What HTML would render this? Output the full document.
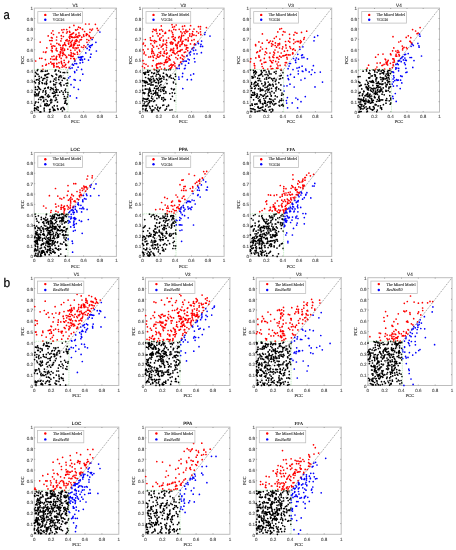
<!DOCTYPE html>
<html><head><meta charset="utf-8"><title>Scatter comparison</title>
<style>
html,body{margin:0;padding:0;background:#fff;}
svg{display:block;filter:blur(0.3px);}
.ax{fill:none;stroke:#bdbdbd;stroke-width:1;}
.tk{fill:none;stroke:#888;stroke-width:0.8;}
.lg{fill:#fff;fill-opacity:0.9;stroke:#c0c0c0;stroke-width:0.8;}
.pk{stroke:#000;stroke-width:1.7;stroke-linecap:round;fill:none;}
.pr{stroke:#f00;stroke-width:1.7;stroke-linecap:round;fill:none;}
.pb{stroke:#00f;stroke-width:1.7;stroke-linecap:round;fill:none;}
.dg{stroke:#555;stroke-width:0.6;stroke-dasharray:1.1 1.1;fill:none;}
.gr{stroke:#8d8;stroke-width:0.5;stroke-dasharray:1 0.8;fill:none;}
text{font-family:"Liberation Sans",sans-serif;fill:#333;text-rendering:geometricPrecision;}
.tt{font-size:4.6px;font-weight:bold;text-anchor:middle;fill:#222;}
.ts{font-family:"Liberation Serif",serif;}
.tv{font-weight:normal;fill:#333;stroke:#333;stroke-width:0.12;}
.lt{font-family:"Liberation Serif",serif;font-size:4.1px;fill:#222;stroke:#222;stroke-width:0.08;}
.yl{font-size:4.5px;text-anchor:end;fill:#4a4a4a;stroke:#4a4a4a;stroke-width:0.1;}
.xl{font-size:4.5px;text-anchor:middle;fill:#4a4a4a;stroke:#4a4a4a;stroke-width:0.1;}
.al{font-family:"Liberation Serif",serif;font-size:4.5px;text-anchor:middle;fill:#444;stroke:#444;stroke-width:0.15;}
.pl{font-size:12.8px;fill:#000;stroke:#000;stroke-width:0.2;}
</style></head><body>
<svg width="456" height="550" viewBox="0 0 456 550">
<rect width="456" height="550" fill="#fff"/>
<text class="pl" transform="translate(3.4 18.5) scale(0.88 1)">a</text>
<text class="pl" transform="translate(3.5 286.8) scale(0.94 1.0)">b</text>
<g>
<text class="tt tv" x="75.3" y="6.5">V1</text>
<rect class="ax" x="34.30" y="8.10" width="82.10" height="104.00"/>
<path class="tk" d="M34.3 101.7h0.9M116.4 101.7h-0.9M34.3 91.3h0.9M116.4 91.3h-0.9M34.3 80.9h0.9M116.4 80.9h-0.9M34.3 70.5h0.9M116.4 70.5h-0.9M34.3 60.1h0.9M116.4 60.1h-0.9M34.3 49.7h0.9M116.4 49.7h-0.9M34.3 39.3h0.9M116.4 39.3h-0.9M34.3 28.9h0.9M116.4 28.9h-0.9M34.3 18.5h0.9M116.4 18.5h-0.9M50.7 112.1v-0.9M50.7 8.1v0.9M67.1 112.1v-0.9M67.1 8.1v0.9M83.6 112.1v-0.9M83.6 8.1v0.9M100.0 112.1v-0.9M100.0 8.1v0.9"/>
<path class="pk" d="M60.8 109.2h0M44.8 104.1h0M35.2 103.1h0M38.6 80.0h0M61.4 108.1h0M35.6 89.3h0M56.0 97.8h0M36.4 79.9h0M49.6 109.6h0M58.1 109.4h0M38.8 87.6h0M47.6 105.5h0M63.1 72.5h0M40.5 89.4h0M45.3 88.1h0M43.7 101.5h0M60.4 72.1h0M53.5 110.6h0M46.0 99.5h0M67.5 96.9h0M38.7 93.2h0M40.1 97.5h0M39.2 83.6h0M34.4 81.6h0M47.4 101.1h0M41.6 70.6h0M56.1 74.2h0M46.4 81.8h0M39.0 82.6h0M47.2 70.9h0M40.6 106.0h0M42.5 83.4h0M58.0 95.3h0M67.5 83.1h0M49.5 112.0h0M51.8 88.5h0M55.5 95.2h0M41.1 71.4h0M50.4 89.6h0M39.0 84.0h0M64.2 98.5h0M43.8 100.3h0M56.4 89.2h0M44.7 105.3h0M37.9 95.7h0M55.9 80.0h0M60.6 82.6h0M35.5 82.8h0M37.9 69.5h0M47.6 77.3h0M64.6 72.5h0M44.1 109.0h0M56.1 82.6h0M53.7 96.8h0M55.6 87.1h0M38.0 74.4h0M54.8 95.7h0M34.8 94.3h0M50.4 100.7h0M64.9 90.5h0M42.8 71.3h0M58.0 89.8h0M34.6 108.5h0M47.4 96.1h0M36.8 94.1h0M46.6 105.8h0M35.9 101.9h0M36.5 93.8h0M63.1 92.3h0M59.5 83.6h0M42.7 80.2h0M36.1 95.7h0M38.2 94.1h0M49.6 96.3h0M43.3 78.7h0M67.0 85.7h0M51.7 75.5h0M56.6 99.6h0M45.5 91.8h0M63.9 108.3h0M43.3 90.6h0M44.8 83.7h0M52.5 93.2h0M63.5 78.2h0M55.8 69.9h0M38.3 102.3h0M56.0 77.9h0M48.4 94.9h0M51.7 102.0h0M38.2 86.6h0M55.0 110.2h0M37.4 89.7h0M57.7 108.5h0M40.9 99.7h0M37.3 70.6h0M37.1 79.5h0M39.4 78.6h0M35.2 92.2h0M39.2 88.6h0M66.9 104.3h0M58.7 70.9h0M63.0 107.3h0M52.5 107.0h0M55.9 89.7h0M53.9 84.9h0M64.4 96.5h0M67.9 92.6h0M48.3 88.0h0M47.6 74.1h0M46.8 83.3h0M39.3 91.8h0M35.5 72.3h0M42.9 96.7h0M35.3 76.2h0M44.2 108.1h0M42.6 97.7h0M54.1 109.4h0M59.7 92.2h0M67.7 83.2h0M48.7 73.7h0M42.0 97.1h0M39.1 76.4h0M57.5 102.1h0M65.7 92.1h0M36.8 109.5h0M53.8 93.3h0M54.0 96.0h0M50.4 82.0h0M62.4 111.0h0M56.8 92.2h0M50.0 111.4h0M67.4 72.5h0M53.6 109.2h0M50.9 87.7h0M53.7 84.1h0M61.2 77.1h0M46.4 103.7h0M45.8 90.8h0M55.3 92.7h0M64.7 103.2h0M49.4 104.7h0M65.9 100.5h0M56.2 90.7h0M44.6 88.6h0M44.9 83.3h0M55.0 71.1h0M42.8 92.0h0M34.8 107.9h0M44.8 78.4h0M38.3 110.3h0M54.0 109.9h0M45.2 105.4h0M50.0 109.3h0M48.3 97.1h0M43.9 101.5h0M42.0 82.5h0M65.8 98.7h0M65.5 89.1h0M53.5 89.7h0M54.3 105.8h0M45.4 71.2h0M35.4 87.2h0M38.4 95.0h0M34.5 110.3h0M47.8 87.7h0M67.1 103.8h0M45.4 94.6h0M46.1 93.2h0M36.5 108.4h0M46.5 84.3h0M53.6 81.2h0M40.0 111.9h0M52.6 76.3h0M61.1 85.8h0M55.2 100.4h0M39.3 83.6h0M57.2 105.9h0M45.0 104.3h0M64.8 78.4h0M64.0 85.1h0M46.8 77.4h0M56.7 74.8h0M35.3 108.4h0M67.3 80.0h0M60.8 84.5h0M61.5 90.8h0M50.6 81.3h0M54.4 79.1h0M62.2 80.3h0M50.9 99.3h0M47.0 80.0h0M41.3 96.7h0M40.8 111.9h0M63.3 94.3h0M59.5 76.1h0M58.7 79.4h0M52.9 88.7h0M36.5 73.7h0M66.1 83.5h0M67.9 94.8h0M64.1 109.0h0M44.3 110.9h0M39.7 81.3h0M65.6 102.9h0M41.4 77.3h0M64.4 109.4h0M54.2 105.6h0M58.9 77.2h0M47.3 104.1h0M48.4 105.6h0M50.8 102.9h0M55.6 70.2h0M60.8 75.7h0M48.4 87.2h0M51.9 100.0h0M43.5 97.7h0M38.0 86.5h0M36.3 108.6h0M52.7 107.6h0M34.7 94.5h0M38.7 99.3h0M34.6 105.2h0M65.2 101.2h0M55.4 84.6h0M45.2 75.7h0M44.7 75.1h0M46.1 74.6h0M54.1 91.5h0M38.3 107.6h0M35.0 95.8h0M37.3 106.8h0"/>
<path class="pr" d="M82.6 29.4h0M74.4 44.9h0M64.4 44.5h0M64.1 54.3h0M58.6 54.5h0M73.9 25.4h0M54.1 65.3h0M72.6 56.4h0M83.9 36.3h0M56.7 37.0h0M58.9 44.0h0M53.1 59.4h0M56.4 48.4h0M60.4 51.7h0M43.5 52.0h0M77.6 54.2h0M81.5 47.0h0M75.6 43.5h0M70.7 50.3h0M66.6 33.0h0M39.7 58.3h0M90.9 37.6h0M65.8 45.4h0M75.0 50.0h0M71.6 36.7h0M64.1 50.4h0M62.5 48.6h0M83.6 34.9h0M63.1 53.8h0M79.3 45.2h0M63.4 36.5h0M71.3 55.9h0M74.2 42.9h0M89.1 35.7h0M71.5 37.1h0M35.7 61.0h0M76.0 41.3h0M71.5 41.7h0M72.4 40.3h0M60.2 45.3h0M71.1 56.4h0M54.0 63.3h0M52.9 30.8h0M79.9 40.0h0M53.9 67.1h0M62.1 50.7h0M95.4 24.3h0M66.2 40.7h0M61.3 35.6h0M60.9 47.6h0M69.2 67.4h0M64.5 50.2h0M56.1 50.0h0M45.6 52.5h0M51.5 33.1h0M91.6 30.3h0M54.8 46.2h0M76.0 30.2h0M61.2 58.4h0M75.1 43.0h0M64.1 60.3h0M75.9 47.9h0M54.0 66.0h0M65.8 40.5h0M49.7 40.5h0M66.3 57.6h0M48.8 63.5h0M64.0 66.6h0M71.5 34.3h0M53.5 34.5h0M72.9 47.7h0M63.9 29.5h0M40.2 42.1h0M79.9 35.5h0M74.3 37.4h0M73.7 44.4h0M67.1 39.6h0M79.8 51.3h0M85.6 24.0h0M98.1 30.3h0M77.3 52.2h0M53.7 64.9h0M60.9 49.4h0M58.8 44.5h0M83.2 47.5h0M68.5 43.2h0M77.6 45.3h0M68.4 62.5h0M56.7 56.3h0M89.4 36.5h0M48.2 35.9h0M66.7 29.6h0M61.3 35.8h0M76.3 39.5h0M62.1 49.3h0M45.4 59.6h0M73.5 45.9h0M74.8 54.2h0M64.7 42.9h0M68.8 61.3h0M43.0 69.3h0M61.3 61.4h0M73.7 58.6h0M46.8 47.9h0M69.8 36.2h0M92.5 29.0h0M69.5 40.7h0M75.4 37.1h0M52.3 38.0h0M63.0 32.4h0M76.6 48.4h0M53.2 45.8h0M52.8 63.5h0M79.0 35.4h0M75.8 35.0h0M72.5 37.5h0M81.4 39.5h0M70.0 36.6h0M76.1 34.3h0M70.2 34.7h0M82.5 29.2h0M71.6 45.8h0M60.8 52.7h0M87.5 34.3h0M52.2 51.7h0M70.8 58.5h0M62.7 65.3h0M65.1 65.3h0M84.6 31.5h0M53.9 56.1h0M77.7 36.4h0M60.4 53.1h0M77.1 40.7h0M61.7 63.7h0M56.4 57.1h0M75.6 29.8h0M79.1 41.9h0M56.5 40.0h0M62.5 55.6h0M69.1 37.0h0M71.2 44.9h0M66.7 57.5h0M86.4 33.9h0M74.0 54.0h0M42.5 65.9h0M51.4 37.6h0M56.3 57.8h0M72.5 33.7h0M65.2 44.8h0M58.1 66.7h0M70.4 42.6h0M63.2 45.2h0M65.5 55.3h0M60.9 40.9h0M72.6 37.5h0M62.9 47.9h0M56.7 59.6h0M59.7 56.0h0M66.2 67.5h0M65.7 64.4h0M73.5 32.9h0M68.0 41.1h0M87.0 42.3h0M51.7 46.4h0M51.3 50.3h0M74.2 37.4h0M67.3 31.8h0M93.1 37.6h0M89.9 32.3h0M51.3 40.5h0M52.2 48.2h0M77.6 29.3h0M62.8 45.8h0M76.3 39.9h0M69.5 31.4h0M68.7 55.0h0M69.6 46.7h0M61.5 38.6h0M64.5 49.2h0M69.8 38.4h0M59.5 67.9h0M81.0 39.7h0M53.4 63.5h0M90.8 38.4h0M61.9 29.9h0M89.1 24.0h0M52.0 56.6h0M78.6 27.2h0M71.4 54.0h0M61.4 62.5h0M46.0 51.8h0M71.5 44.2h0M68.7 44.1h0M71.1 52.5h0M81.8 37.2h0M62.7 53.3h0M50.8 62.2h0M50.9 44.1h0M56.2 58.4h0M70.3 46.2h0M51.9 63.9h0M59.6 56.9h0M69.8 32.2h0M52.1 50.7h0M52.1 40.6h0M56.8 63.3h0M79.4 50.1h0M74.8 60.0h0M77.9 37.4h0M59.0 62.7h0M85.6 47.1h0M74.5 58.8h0M76.5 39.9h0M70.2 55.3h0M46.4 64.3h0M74.0 48.1h0M76.7 36.8h0M60.3 52.4h0M57.1 50.9h0M73.3 53.3h0M56.9 43.3h0M73.2 56.1h0M75.0 41.1h0M90.0 29.3h0M54.7 59.4h0M74.3 58.6h0M88.8 40.4h0M66.6 56.9h0M69.6 27.3h0M76.7 41.4h0M59.0 32.8h0M97.2 28.4h0M78.1 47.7h0M50.7 58.9h0M60.0 54.9h0M45.9 65.2h0M78.9 32.9h0M79.5 35.8h0M56.8 63.8h0M86.9 39.5h0M56.6 66.7h0M67.8 49.2h0M41.8 58.3h0M63.1 52.4h0M84.0 45.7h0M86.3 35.4h0M62.1 67.1h0M64.3 62.5h0M80.3 27.9h0"/>
<path class="pb" d="M90.3 47.5h0M80.2 57.2h0M78.6 57.4h0M68.6 77.9h0M72.4 64.3h0M78.4 89.3h0M96.4 51.0h0M74.9 61.1h0M74.0 87.3h0M89.3 46.5h0M90.1 45.7h0M88.5 60.1h0M74.8 72.6h0M76.6 97.9h0M90.4 57.2h0M75.3 80.1h0M78.1 67.2h0M87.1 48.4h0M85.8 52.9h0M92.3 44.6h0M76.7 70.0h0M82.8 56.6h0M81.4 56.8h0M72.1 67.9h0M82.4 59.9h0M71.0 84.7h0M80.2 80.3h0M80.8 59.7h0M91.0 54.2h0M74.9 63.6h0M88.0 44.6h0M70.1 76.5h0M73.4 65.2h0M95.9 42.3h0M81.5 58.0h0M80.4 60.2h0M76.6 63.7h0M82.8 74.2h0M82.7 62.3h0M84.6 59.1h0M92.2 39.5h0M99.9 32.0h0M74.6 71.5h0M80.1 62.9h0M80.1 59.4h0M74.1 79.6h0M81.6 69.4h0M89.4 49.9h0M70.1 68.4h0M70.2 95.9h0M91.6 45.4h0"/>
<path class="dg" d="M34.3 112.1L116.4 8.1"/>
<path class="gr" d="M68.0 112.1V69.5M34.3 69.5H68.0"/>
<rect class="lg" x="37.8" y="11.6" width="44.7" height="11.5"/>
<circle cx="45.3" cy="14.9" r="1.2" fill="#f00"/>
<circle cx="45.3" cy="19.8" r="1.2" fill="#00f"/>
<text class="lt" x="52.8" y="15.9" textLength="28.4" lengthAdjust="spacingAndGlyphs">The Mixed Model</text>
<text class="lt" x="52.8" y="21.1" textLength="11.4" lengthAdjust="spacingAndGlyphs">VGG16</text>
<text class="yl" x="33.1" y="114.1">0</text>
<text class="yl" x="33.1" y="103.7">0.1</text>
<text class="yl" x="33.1" y="93.3">0.2</text>
<text class="yl" x="33.1" y="82.9">0.3</text>
<text class="yl" x="33.1" y="72.5">0.4</text>
<text class="yl" x="33.1" y="62.1">0.5</text>
<text class="yl" x="33.1" y="51.7">0.6</text>
<text class="yl" x="33.1" y="41.3">0.7</text>
<text class="yl" x="33.1" y="30.9">0.8</text>
<text class="yl" x="33.1" y="20.5">0.9</text>
<text class="yl" x="33.1" y="10.1">1</text>
<text class="xl" x="34.3" y="117.9">0</text>
<text class="xl" x="50.7" y="117.9">0.2</text>
<text class="xl" x="67.1" y="117.9">0.4</text>
<text class="xl" x="83.6" y="117.9">0.6</text>
<text class="xl" x="100.0" y="117.9">0.8</text>
<text class="xl" x="116.4" y="117.9">1</text>
<text class="al" x="75.3" y="123.4">PCC</text>
<text class="al" transform="translate(23.8 60.1) rotate(-90)">PCC</text>
</g>
<g>
<text class="tt tv" x="183.3" y="6.5">V2</text>
<rect class="ax" x="142.50" y="8.10" width="81.60" height="104.00"/>
<path class="tk" d="M142.5 101.7h0.9M224.1 101.7h-0.9M142.5 91.3h0.9M224.1 91.3h-0.9M142.5 80.9h0.9M224.1 80.9h-0.9M142.5 70.5h0.9M224.1 70.5h-0.9M142.5 60.1h0.9M224.1 60.1h-0.9M142.5 49.7h0.9M224.1 49.7h-0.9M142.5 39.3h0.9M224.1 39.3h-0.9M142.5 28.9h0.9M224.1 28.9h-0.9M142.5 18.5h0.9M224.1 18.5h-0.9M158.8 112.1v-0.9M158.8 8.1v0.9M175.1 112.1v-0.9M175.1 8.1v0.9M191.5 112.1v-0.9M191.5 8.1v0.9M207.8 112.1v-0.9M207.8 8.1v0.9"/>
<path class="pk" d="M156.9 98.4h0M148.2 72.0h0M154.8 80.3h0M161.8 97.8h0M153.3 90.6h0M147.8 70.3h0M159.1 78.0h0M158.5 83.6h0M173.3 78.3h0M144.4 93.6h0M144.9 101.9h0M147.1 72.2h0M143.2 98.8h0M175.8 84.1h0M147.2 110.8h0M164.0 77.1h0M142.8 85.8h0M154.0 81.6h0M153.2 94.2h0M143.3 98.4h0M157.0 86.0h0M147.4 99.0h0M160.2 95.5h0M154.7 100.7h0M149.0 91.1h0M148.5 72.1h0M157.1 109.2h0M173.4 82.1h0M154.6 73.1h0M164.0 93.5h0M153.9 80.1h0M150.2 89.8h0M148.0 84.2h0M155.1 107.9h0M149.3 95.9h0M156.4 105.0h0M148.6 74.8h0M164.1 87.5h0M166.3 74.4h0M162.7 89.8h0M149.1 100.4h0M164.4 99.4h0M166.4 108.9h0M151.1 82.9h0M157.3 71.9h0M172.4 96.3h0M159.2 70.1h0M170.5 75.3h0M158.6 110.8h0M159.8 75.1h0M149.8 80.9h0M151.7 100.8h0M156.6 78.6h0M145.3 72.3h0M156.6 88.5h0M147.1 89.0h0M173.5 82.8h0M172.0 109.8h0M150.3 80.9h0M147.2 72.2h0M152.7 76.3h0M163.5 97.7h0M146.1 108.7h0M156.0 76.0h0M151.2 93.4h0M144.7 98.8h0M154.5 88.2h0M155.7 82.5h0M158.8 90.4h0M163.4 100.8h0M173.6 89.7h0M165.1 110.2h0M150.8 85.1h0M153.4 78.3h0M159.0 97.6h0M164.4 87.1h0M156.6 93.0h0M162.9 76.3h0M152.4 110.0h0M148.2 103.3h0M149.5 84.0h0M158.1 110.5h0M148.2 78.4h0M171.7 88.8h0M165.8 91.6h0M172.3 92.8h0M156.6 82.5h0M169.2 76.9h0M153.7 73.6h0M151.9 96.3h0M149.0 89.2h0M150.3 108.3h0M156.7 70.4h0M152.5 106.2h0M148.4 95.7h0M157.8 107.5h0M143.6 72.9h0M151.8 72.6h0M159.7 108.4h0M145.6 77.5h0M161.7 78.3h0M153.8 109.8h0M146.1 81.4h0M163.7 77.0h0M154.4 93.2h0M145.1 81.4h0M165.9 92.9h0M160.4 107.6h0M163.1 90.6h0M157.6 92.9h0M142.8 105.8h0M144.9 93.0h0M165.4 99.6h0M166.2 69.9h0M149.2 79.7h0M159.8 79.6h0M154.8 69.7h0M151.6 79.7h0M156.4 88.9h0M145.5 110.6h0M145.3 85.7h0M142.7 90.1h0M157.8 95.2h0M152.2 110.7h0M155.6 86.1h0M170.0 110.1h0M145.8 82.9h0M155.9 94.9h0M164.1 90.0h0M174.6 100.7h0M163.6 91.2h0M167.0 83.6h0M160.9 84.6h0M169.8 93.5h0M149.3 102.3h0M147.3 99.2h0M150.1 78.9h0M170.0 76.7h0M163.5 73.2h0M168.5 105.7h0M160.7 82.1h0M157.4 79.4h0M151.5 98.1h0M161.3 87.5h0M160.9 91.4h0M150.7 91.2h0M145.2 105.8h0M157.8 107.0h0M158.7 71.6h0M167.3 75.9h0M174.8 79.6h0M144.2 103.8h0M160.2 76.2h0M175.3 74.2h0M175.6 76.3h0M153.1 84.9h0M158.8 96.0h0M151.9 82.1h0M166.8 106.6h0M143.6 105.7h0M162.8 105.3h0M152.8 99.1h0M145.7 89.0h0M146.8 105.7h0M160.4 78.7h0M146.0 99.2h0M163.6 88.0h0M160.8 79.0h0M155.6 92.0h0M142.7 106.0h0M151.3 110.0h0M173.7 89.8h0M168.5 69.7h0M158.9 96.3h0M166.5 79.7h0M158.4 87.8h0M146.4 106.3h0M162.9 87.5h0M144.7 72.9h0M158.4 74.2h0M171.3 78.1h0M170.7 99.1h0M149.1 92.2h0M144.1 80.9h0M167.2 75.2h0M159.6 85.9h0M143.8 92.6h0M145.5 73.9h0M146.3 105.3h0M142.8 100.7h0M164.0 88.1h0M145.6 109.2h0M151.9 111.9h0M156.6 74.3h0M148.8 92.6h0M160.6 89.6h0M163.9 79.1h0M155.7 90.9h0M165.2 87.1h0M153.7 101.5h0M158.2 80.6h0M144.4 82.5h0M149.2 90.0h0M158.8 82.2h0M143.0 108.9h0M142.9 93.0h0M174.8 93.3h0M151.1 76.8h0M168.5 105.2h0M157.8 94.6h0M164.3 69.6h0M148.1 98.4h0M170.4 69.6h0M149.7 88.2h0M157.7 88.7h0M151.9 84.9h0M144.7 74.3h0M146.9 101.3h0M148.3 93.9h0M151.8 72.8h0M149.7 106.5h0M161.8 99.2h0M147.3 82.3h0M174.4 89.0h0M147.8 104.9h0M161.7 81.2h0M171.4 88.6h0M152.1 111.7h0M145.3 89.2h0M149.6 106.7h0M149.9 70.7h0M150.5 79.0h0M150.1 100.9h0M155.4 93.1h0M142.6 80.7h0M163.8 105.0h0"/>
<path class="pr" d="M179.2 51.1h0M175.9 57.5h0M173.4 48.8h0M156.2 58.4h0M153.6 47.1h0M194.0 29.1h0M182.0 55.0h0M180.6 39.7h0M182.5 58.8h0M151.9 40.5h0M158.6 48.5h0M182.5 55.7h0M160.4 63.1h0M188.2 40.2h0M177.2 48.6h0M153.4 29.3h0M171.9 66.7h0M169.2 66.1h0M160.2 40.2h0M194.3 44.7h0M179.3 64.6h0M168.5 38.0h0M166.5 45.4h0M148.7 57.0h0M170.5 42.8h0M145.2 45.7h0M184.1 31.8h0M156.1 65.1h0M184.0 56.7h0M181.7 36.3h0M163.1 45.1h0M183.2 59.7h0M173.6 48.4h0M181.0 61.8h0M178.3 55.3h0M166.4 54.1h0M157.8 57.1h0M162.1 46.1h0M192.5 48.2h0M159.8 33.8h0M148.0 66.1h0M171.4 55.1h0M173.8 29.4h0M175.2 40.6h0M155.9 41.3h0M181.1 37.7h0M153.9 69.4h0M180.0 46.3h0M156.3 31.0h0M173.9 62.0h0M166.8 57.2h0M180.8 31.7h0M156.7 67.6h0M165.2 44.2h0M176.2 25.0h0M178.7 37.7h0M171.0 49.2h0M163.0 35.8h0M172.1 50.1h0M165.6 33.2h0M174.8 63.4h0M182.1 42.4h0M187.7 50.7h0M180.1 45.1h0M166.3 62.4h0M153.9 41.1h0M180.5 58.0h0M169.4 56.1h0M143.1 44.1h0M154.6 40.5h0M185.1 45.7h0M153.3 60.5h0M176.9 52.9h0M200.8 34.7h0M185.3 39.7h0M171.2 42.1h0M180.8 41.0h0M158.1 35.9h0M169.3 58.6h0M173.8 50.8h0M186.6 47.7h0M177.5 58.9h0M166.7 42.7h0M184.7 44.8h0M175.2 37.7h0M166.7 59.4h0M206.4 27.6h0M175.9 45.3h0M181.1 38.8h0M200.5 31.8h0M166.9 53.1h0M174.1 39.3h0M153.4 57.3h0M172.3 65.2h0M160.7 51.8h0M196.2 35.5h0M152.9 56.0h0M179.2 36.6h0M194.1 39.7h0M192.8 31.5h0M176.5 45.7h0M156.9 68.1h0M150.6 56.5h0M182.1 33.1h0M156.5 65.8h0M180.6 62.3h0M158.7 63.4h0M163.3 41.0h0M178.2 42.3h0M191.8 40.4h0M173.5 52.6h0M172.1 36.9h0M148.0 49.1h0M181.7 35.0h0M178.9 41.7h0M183.0 29.0h0M198.5 33.1h0M165.8 61.3h0M144.5 67.9h0M153.8 53.3h0M169.0 60.0h0M185.8 30.9h0M163.5 40.1h0M164.9 33.3h0M177.8 51.5h0M186.7 45.3h0M152.1 51.7h0M154.6 55.1h0M184.6 25.9h0M188.1 40.9h0M173.4 39.1h0M170.8 43.8h0M177.3 47.2h0M150.5 40.1h0M170.2 59.9h0M164.0 53.0h0M184.3 52.4h0M165.5 32.3h0M144.0 53.7h0M151.8 53.4h0M179.2 29.3h0M183.6 35.5h0M171.3 64.3h0M162.5 55.3h0M186.6 31.9h0M157.9 63.9h0M166.0 62.4h0M157.7 67.9h0M174.5 26.7h0M170.6 65.1h0M159.9 34.2h0M180.1 51.3h0M186.1 49.2h0M194.6 43.9h0M159.6 39.6h0M196.8 31.6h0M194.7 43.9h0M167.3 53.1h0M164.4 62.6h0M175.8 29.8h0M145.3 39.5h0M172.6 27.2h0M169.1 30.7h0M159.8 38.3h0M192.7 34.9h0M166.3 50.1h0M174.4 53.3h0M175.9 44.4h0M164.4 51.4h0M172.3 43.8h0M160.1 66.8h0M150.3 37.8h0M171.5 31.0h0M182.5 26.4h0M171.3 67.6h0M180.6 50.2h0M146.0 64.3h0M173.0 42.9h0M153.1 60.5h0M191.5 36.4h0M160.6 53.5h0M172.3 44.1h0M150.5 56.9h0M163.1 48.9h0M143.0 60.7h0M192.2 33.7h0M160.1 55.9h0M173.5 64.9h0M173.0 34.7h0M157.1 56.0h0M161.9 63.4h0M143.5 43.1h0M167.6 61.6h0M169.4 30.4h0M152.6 45.6h0M186.1 39.7h0M170.4 50.6h0M188.2 41.0h0M186.8 55.5h0M171.7 42.0h0M185.0 33.4h0M200.5 26.7h0M160.0 63.8h0M190.6 25.7h0M175.0 40.4h0M187.8 31.3h0M162.7 31.1h0M194.0 35.0h0M189.7 35.9h0M157.7 54.5h0M189.7 29.3h0M152.3 65.9h0M164.7 68.4h0M170.2 42.5h0M161.4 37.5h0M200.4 29.0h0M156.9 46.3h0M197.8 41.5h0M152.6 31.6h0M150.9 43.8h0M158.9 57.1h0M159.1 52.5h0M143.2 49.8h0M166.4 40.4h0M161.2 47.0h0M165.0 62.3h0M161.5 29.6h0M167.0 62.2h0M185.6 52.0h0M198.5 26.7h0M157.0 33.4h0M165.6 60.2h0M175.0 66.1h0M185.9 30.1h0M161.3 25.9h0M156.5 41.5h0M153.0 51.7h0M161.4 69.1h0M164.0 64.7h0M200.8 34.3h0M142.5 66.3h0M183.0 41.2h0M181.6 44.4h0M168.5 58.2h0M156.2 29.3h0M175.3 54.0h0M190.5 43.9h0M159.7 30.1h0M176.1 67.9h0M172.6 52.3h0M173.3 36.5h0M154.8 30.1h0M164.6 53.3h0M186.9 47.6h0M166.6 47.6h0M156.9 63.8h0M152.0 48.9h0M177.2 45.2h0M172.4 32.7h0M152.2 50.5h0M172.0 24.7h0M178.0 43.3h0M154.6 42.8h0M169.9 68.5h0M181.5 36.3h0M187.9 47.8h0M188.2 37.9h0M144.3 52.1h0M182.1 49.7h0M163.0 44.2h0M182.5 43.6h0M145.8 55.0h0M159.8 45.0h0M163.8 56.0h0M151.9 51.4h0M152.8 36.1h0M144.0 63.6h0M170.8 68.2h0M189.8 33.9h0M180.5 57.6h0"/>
<path class="pb" d="M182.7 73.4h0M183.1 61.4h0M182.8 88.6h0M197.0 53.8h0M178.8 77.0h0M204.7 34.5h0M205.1 32.5h0M182.4 76.7h0M187.3 79.7h0M200.6 46.4h0M210.0 36.1h0M188.6 63.2h0M189.5 52.9h0M202.6 46.4h0M181.8 63.8h0M193.5 50.4h0M185.0 68.3h0M194.3 58.5h0M190.7 75.0h0M187.0 55.9h0M201.0 44.4h0M194.9 61.8h0M179.1 65.7h0M190.2 54.8h0M191.4 79.7h0M190.6 52.0h0M198.1 43.1h0M190.6 51.7h0M184.5 68.7h0M198.5 43.6h0M184.9 61.1h0M194.1 53.8h0M179.2 68.4h0M188.0 59.0h0M186.3 61.2h0M195.6 44.7h0M195.7 50.0h0M193.8 47.7h0M179.0 79.2h0M201.6 41.1h0M185.4 65.4h0M201.4 52.7h0M192.0 49.0h0M177.1 68.4h0M189.3 59.8h0M193.6 73.9h0"/>
<path class="dg" d="M142.5 112.1L224.1 8.1"/>
<path class="gr" d="M176.0 112.1V69.5M142.5 69.5H176.0"/>
<rect class="lg" x="146.0" y="11.6" width="44.7" height="11.5"/>
<circle cx="153.5" cy="14.9" r="1.2" fill="#f00"/>
<circle cx="153.5" cy="19.8" r="1.2" fill="#00f"/>
<text class="lt" x="161.0" y="15.9" textLength="28.4" lengthAdjust="spacingAndGlyphs">The Mixed Model</text>
<text class="lt" x="161.0" y="21.1" textLength="11.4" lengthAdjust="spacingAndGlyphs">VGG16</text>
<text class="yl" x="141.3" y="114.1">0</text>
<text class="yl" x="141.3" y="103.7">0.1</text>
<text class="yl" x="141.3" y="93.3">0.2</text>
<text class="yl" x="141.3" y="82.9">0.3</text>
<text class="yl" x="141.3" y="72.5">0.4</text>
<text class="yl" x="141.3" y="62.1">0.5</text>
<text class="yl" x="141.3" y="51.7">0.6</text>
<text class="yl" x="141.3" y="41.3">0.7</text>
<text class="yl" x="141.3" y="30.9">0.8</text>
<text class="yl" x="141.3" y="20.5">0.9</text>
<text class="yl" x="141.3" y="10.1">1</text>
<text class="xl" x="142.5" y="117.9">0</text>
<text class="xl" x="158.8" y="117.9">0.2</text>
<text class="xl" x="175.1" y="117.9">0.4</text>
<text class="xl" x="191.5" y="117.9">0.6</text>
<text class="xl" x="207.8" y="117.9">0.8</text>
<text class="xl" x="224.1" y="117.9">1</text>
<text class="al" x="183.3" y="123.4">PCC</text>
<text class="al" transform="translate(132.0 60.1) rotate(-90)">PCC</text>
</g>
<g>
<text class="tt tv" x="290.9" y="6.5">V3</text>
<rect class="ax" x="250.20" y="8.10" width="81.50" height="104.00"/>
<path class="tk" d="M250.2 101.7h0.9M331.7 101.7h-0.9M250.2 91.3h0.9M331.7 91.3h-0.9M250.2 80.9h0.9M331.7 80.9h-0.9M250.2 70.5h0.9M331.7 70.5h-0.9M250.2 60.1h0.9M331.7 60.1h-0.9M250.2 49.7h0.9M331.7 49.7h-0.9M250.2 39.3h0.9M331.7 39.3h-0.9M250.2 28.9h0.9M331.7 28.9h-0.9M250.2 18.5h0.9M331.7 18.5h-0.9M266.5 112.1v-0.9M266.5 8.1v0.9M282.8 112.1v-0.9M282.8 8.1v0.9M299.1 112.1v-0.9M299.1 8.1v0.9M315.4 112.1v-0.9M315.4 8.1v0.9"/>
<path class="pk" d="M265.2 101.7h0M275.3 95.9h0M260.9 74.4h0M262.3 109.9h0M262.1 72.3h0M251.1 97.2h0M273.8 78.6h0M253.8 72.3h0M272.8 80.6h0M255.0 94.5h0M263.8 70.6h0M254.3 93.3h0M266.3 96.5h0M257.2 111.3h0M271.5 102.3h0M267.8 92.0h0M253.2 108.8h0M267.8 89.2h0M264.9 84.9h0M273.3 86.1h0M275.9 90.8h0M281.5 105.1h0M273.0 84.8h0M273.6 101.3h0M261.9 107.5h0M257.7 78.2h0M263.2 90.0h0M265.9 93.5h0M271.6 78.6h0M256.2 85.7h0M275.9 84.1h0M271.1 101.6h0M270.1 103.6h0M280.0 75.9h0M280.6 90.1h0M276.3 88.9h0M252.2 78.1h0M274.9 103.9h0M267.2 104.9h0M265.6 103.4h0M279.1 105.3h0M254.3 86.2h0M260.7 81.0h0M271.1 95.9h0M254.8 72.0h0M270.5 94.0h0M278.7 88.9h0M262.3 103.5h0M259.9 110.8h0M272.9 109.8h0M266.9 87.3h0M270.0 85.2h0M254.8 71.7h0M259.0 108.3h0M269.4 89.0h0M277.2 96.8h0M276.7 87.2h0M252.1 95.2h0M251.9 88.2h0M262.1 89.4h0M260.3 89.7h0M266.9 89.8h0M260.4 101.6h0M251.2 88.1h0M261.6 95.0h0M262.9 106.9h0M251.5 82.6h0M263.4 96.2h0M250.5 69.8h0M257.2 104.0h0M251.3 97.3h0M252.7 95.1h0M267.0 74.3h0M258.1 98.3h0M268.1 75.7h0M253.4 70.3h0M258.2 80.6h0M250.7 111.4h0M263.2 85.9h0M256.8 95.7h0M252.0 103.9h0M264.9 82.1h0M257.1 93.8h0M264.4 103.1h0M269.9 77.7h0M259.8 75.2h0M255.6 81.7h0M262.0 90.4h0M255.3 70.9h0M268.6 78.1h0M252.0 76.5h0M254.7 82.7h0M270.0 102.1h0M283.3 106.1h0M263.8 98.5h0M273.0 100.2h0M267.6 96.2h0M265.2 84.0h0M279.9 100.3h0M264.5 100.3h0M259.6 78.7h0M265.3 109.4h0M262.9 104.0h0M264.9 70.3h0M266.5 77.6h0M260.3 102.8h0M257.9 83.7h0M271.9 91.4h0M260.3 101.2h0M274.5 78.4h0M268.9 101.7h0M260.0 99.6h0M272.7 110.8h0M272.6 103.8h0M250.7 108.5h0M265.3 91.0h0M279.1 101.9h0M258.7 86.1h0M280.9 84.9h0M274.2 92.9h0M258.2 107.2h0M253.8 72.8h0M269.6 98.9h0M255.8 104.3h0M281.1 70.2h0M254.3 75.0h0M250.7 86.1h0M253.6 99.8h0M254.8 104.2h0M260.2 91.1h0M272.6 84.3h0M279.7 106.0h0M268.5 90.2h0M265.4 83.2h0M265.2 101.4h0M256.0 82.3h0M260.3 108.3h0M265.7 98.0h0M283.0 72.7h0M269.4 110.1h0M257.0 96.4h0M281.3 100.6h0M261.4 71.0h0M269.9 92.3h0M254.4 109.7h0M275.4 81.4h0M267.6 102.3h0M259.4 96.8h0M255.8 85.4h0M255.7 73.7h0M263.0 104.6h0M256.0 85.2h0M271.0 99.4h0M264.3 111.2h0M269.1 72.1h0M253.1 77.1h0M254.0 95.2h0M257.9 107.4h0M262.7 76.0h0M282.8 77.8h0M265.3 101.1h0M271.1 111.9h0M270.0 109.7h0M261.5 74.3h0M258.6 75.7h0M258.1 106.5h0M275.6 88.0h0M260.7 90.2h0M255.1 76.8h0M265.8 106.1h0M270.1 106.4h0M272.0 79.1h0M269.3 73.8h0M269.0 84.8h0M262.9 96.1h0M257.4 95.1h0M261.2 70.7h0M256.4 72.2h0M252.7 92.6h0M252.0 108.8h0M255.3 88.1h0M254.6 93.1h0M271.3 96.1h0M255.1 111.9h0M270.1 85.3h0M261.1 107.7h0M270.6 85.0h0M258.4 88.8h0M271.0 73.9h0M283.3 94.5h0M281.6 98.8h0M276.1 79.9h0M283.2 100.3h0M255.1 109.8h0M269.7 98.8h0M253.9 84.0h0M271.3 95.8h0M251.3 90.6h0M251.5 94.8h0M276.1 71.4h0M256.3 103.8h0M265.1 74.6h0M252.3 105.2h0M274.3 72.2h0M251.7 111.4h0M258.8 111.0h0M278.8 82.7h0M279.4 79.0h0M272.1 109.1h0M275.9 103.5h0M259.0 100.7h0M264.6 94.9h0M254.8 88.7h0M266.6 79.1h0M271.5 88.3h0M281.6 95.2h0M281.3 75.4h0M275.9 73.6h0M265.1 87.4h0M268.2 82.1h0M257.6 84.8h0M266.1 111.4h0M251.6 84.2h0M283.3 105.5h0M260.5 94.7h0M273.9 105.0h0M268.8 71.0h0M260.2 88.2h0M267.8 86.2h0M280.6 78.6h0M259.0 80.5h0M282.8 104.3h0M282.0 93.1h0M253.3 77.7h0M266.2 72.0h0M268.5 107.0h0M269.6 84.0h0M261.8 83.7h0M261.4 73.4h0M263.7 110.5h0M254.8 94.5h0M258.9 100.9h0M275.0 99.1h0M256.3 97.2h0M264.7 79.0h0M250.4 105.5h0M254.4 92.4h0"/>
<path class="pr" d="M273.9 54.9h0M299.6 46.8h0M258.9 56.9h0M274.3 38.3h0M272.7 41.3h0M265.8 62.2h0M289.5 34.3h0M295.2 42.0h0M293.9 34.9h0M255.6 44.7h0M271.2 61.3h0M271.6 43.7h0M263.3 68.3h0M304.3 37.7h0M280.1 65.4h0M250.4 61.8h0M254.8 65.8h0M264.3 58.4h0M272.8 56.9h0M285.1 65.1h0M261.8 63.9h0M279.8 39.1h0M285.9 45.6h0M293.7 43.5h0M259.8 51.1h0M273.7 52.0h0M268.7 42.6h0M287.2 59.0h0M262.4 33.9h0M283.4 31.6h0M270.0 53.1h0M276.7 57.6h0M281.2 53.0h0M285.5 41.5h0M290.6 48.3h0M266.7 53.0h0M285.0 32.1h0M271.3 68.8h0M282.3 48.8h0M292.6 49.6h0M298.7 41.6h0M298.3 41.3h0M261.8 64.1h0M273.7 57.5h0M289.8 46.7h0M275.2 45.5h0M272.5 62.7h0M284.0 55.7h0M266.4 48.6h0M260.4 60.7h0M285.6 55.2h0M289.8 38.4h0M278.0 52.0h0M300.3 42.9h0M289.8 42.1h0M270.4 41.0h0M270.5 66.4h0M282.9 55.9h0M275.7 61.4h0M277.9 68.2h0M285.8 44.9h0M277.8 31.9h0M259.4 57.1h0M295.2 50.3h0M274.5 53.1h0M279.6 56.2h0M279.6 44.6h0M284.4 51.2h0M269.2 42.4h0M276.3 36.7h0M301.5 32.4h0M277.9 45.4h0M300.5 40.6h0M278.9 59.2h0M277.6 57.6h0M255.7 45.7h0M282.6 34.8h0M250.8 58.7h0M271.8 62.6h0M270.8 66.2h0M277.9 65.8h0M269.4 57.2h0M287.5 50.6h0M286.6 54.6h0M270.1 60.3h0M279.5 48.0h0M254.2 63.5h0M286.9 57.4h0M272.8 68.6h0M288.5 41.1h0M276.6 68.1h0M286.5 62.7h0M282.8 46.9h0M257.6 51.8h0M258.9 55.7h0M293.1 53.1h0M276.5 47.2h0M254.4 65.4h0M260.7 47.0h0M264.2 62.4h0M277.1 64.0h0M292.7 52.9h0M285.3 62.6h0M279.8 29.1h0M255.8 57.9h0M262.2 66.5h0M295.1 32.4h0M286.2 48.0h0M273.2 60.5h0M269.6 57.7h0M292.6 53.9h0M281.2 69.4h0M288.4 54.9h0M273.5 55.0h0M301.3 41.8h0M296.9 33.2h0M258.9 41.9h0M275.4 42.9h0M281.5 28.5h0M256.7 52.6h0M278.4 62.0h0M306.7 31.2h0M262.3 43.2h0M278.1 43.8h0M290.0 54.9h0M293.7 39.6h0M265.5 51.9h0M260.1 50.4h0M267.8 69.1h0M271.6 46.1h0M279.6 43.3h0M267.1 40.2h0M293.6 48.9h0M275.0 50.0h0M281.1 57.2h0M254.7 68.0h0M303.8 39.3h0M297.1 41.4h0M262.4 49.0h0M260.8 60.1h0M264.9 54.5h0M272.9 44.7h0"/>
<path class="pb" d="M287.6 75.7h0M290.0 84.2h0M293.5 58.5h0M295.4 60.3h0M294.2 87.0h0M296.4 58.0h0M307.4 58.8h0M297.0 68.1h0M288.7 79.6h0M290.5 74.6h0M298.3 71.0h0M312.1 69.8h0M298.3 73.8h0M297.8 54.3h0M286.4 100.6h0M305.3 96.6h0M287.0 85.8h0M295.6 60.1h0M299.3 67.3h0M301.0 80.0h0M304.9 78.3h0M297.8 99.4h0M302.1 66.2h0M317.7 35.6h0M289.1 66.0h0M288.1 68.7h0M290.5 63.5h0M314.0 40.8h0M293.0 69.6h0M295.8 62.4h0M301.0 101.7h0M302.9 46.8h0M302.0 57.7h0M302.5 54.8h0M284.1 91.0h0M287.6 107.8h0M302.3 71.1h0M284.0 86.0h0M314.5 37.2h0M289.5 63.5h0M290.6 74.3h0M309.2 71.9h0M288.2 78.7h0M302.9 71.4h0M292.2 102.9h0M313.4 65.7h0M287.4 97.6h0M314.8 72.5h0M306.0 70.3h0M305.7 69.1h0M299.0 67.6h0M311.3 74.5h0M286.7 103.1h0M295.9 98.0h0M298.5 59.2h0M315.0 86.9h0M299.9 49.3h0M320.3 72.1h0M303.9 57.4h0M301.6 55.4h0M322.5 82.1h0M294.3 77.2h0M297.6 107.9h0"/>
<path class="dg" d="M250.2 112.1L331.7 8.1"/>
<path class="gr" d="M283.6 112.1V69.5M250.2 69.5H283.6"/>
<rect class="lg" x="253.7" y="11.6" width="44.7" height="11.5"/>
<circle cx="261.2" cy="14.9" r="1.2" fill="#f00"/>
<circle cx="261.2" cy="19.8" r="1.2" fill="#00f"/>
<text class="lt" x="268.7" y="15.9" textLength="28.4" lengthAdjust="spacingAndGlyphs">The Mixed Model</text>
<text class="lt" x="268.7" y="21.1" textLength="11.4" lengthAdjust="spacingAndGlyphs">VGG16</text>
<text class="yl" x="249.0" y="114.1">0</text>
<text class="yl" x="249.0" y="103.7">0.1</text>
<text class="yl" x="249.0" y="93.3">0.2</text>
<text class="yl" x="249.0" y="82.9">0.3</text>
<text class="yl" x="249.0" y="72.5">0.4</text>
<text class="yl" x="249.0" y="62.1">0.5</text>
<text class="yl" x="249.0" y="51.7">0.6</text>
<text class="yl" x="249.0" y="41.3">0.7</text>
<text class="yl" x="249.0" y="30.9">0.8</text>
<text class="yl" x="249.0" y="20.5">0.9</text>
<text class="yl" x="249.0" y="10.1">1</text>
<text class="xl" x="250.2" y="117.9">0</text>
<text class="xl" x="266.5" y="117.9">0.2</text>
<text class="xl" x="282.8" y="117.9">0.4</text>
<text class="xl" x="299.1" y="117.9">0.6</text>
<text class="xl" x="315.4" y="117.9">0.8</text>
<text class="xl" x="331.7" y="117.9">1</text>
<text class="al" x="290.9" y="123.4">PCC</text>
<text class="al" transform="translate(239.7 60.1) rotate(-90)">PCC</text>
</g>
<g>
<text class="tt tv" x="398.9" y="6.5">V4</text>
<rect class="ax" x="358.20" y="8.10" width="81.30" height="104.00"/>
<path class="tk" d="M358.2 101.7h0.9M439.5 101.7h-0.9M358.2 91.3h0.9M439.5 91.3h-0.9M358.2 80.9h0.9M439.5 80.9h-0.9M358.2 70.5h0.9M439.5 70.5h-0.9M358.2 60.1h0.9M439.5 60.1h-0.9M358.2 49.7h0.9M439.5 49.7h-0.9M358.2 39.3h0.9M439.5 39.3h-0.9M358.2 28.9h0.9M439.5 28.9h-0.9M358.2 18.5h0.9M439.5 18.5h-0.9M374.5 112.1v-0.9M374.5 8.1v0.9M390.7 112.1v-0.9M390.7 8.1v0.9M407.0 112.1v-0.9M407.0 8.1v0.9M423.2 112.1v-0.9M423.2 8.1v0.9"/>
<path class="pk" d="M378.4 82.1h0M386.0 103.2h0M368.4 102.3h0M382.1 94.2h0M377.3 83.1h0M381.0 88.5h0M365.9 99.1h0M368.4 83.4h0M380.8 83.9h0M391.4 71.8h0M389.6 81.7h0M363.0 108.9h0M372.5 110.2h0M376.4 79.0h0M363.1 71.2h0M374.0 88.0h0M389.8 70.2h0M364.1 91.3h0M375.4 92.1h0M363.2 99.9h0M367.4 87.8h0M374.2 108.7h0M374.2 93.7h0M379.2 87.2h0M388.1 81.3h0M380.5 91.3h0M366.6 109.3h0M384.1 78.8h0M378.2 87.6h0M362.3 95.6h0M389.0 87.2h0M374.8 71.9h0M375.0 97.7h0M358.3 98.9h0M368.4 96.2h0M369.8 70.6h0M362.1 100.4h0M388.9 88.6h0M368.7 85.9h0M363.7 91.2h0M372.9 88.9h0M390.7 98.2h0M358.2 76.8h0M388.2 90.6h0M367.4 84.5h0M382.1 77.8h0M374.5 97.6h0M364.9 101.6h0M371.3 91.2h0M376.4 77.6h0M381.0 79.5h0M359.5 99.0h0M368.4 90.0h0M378.8 70.9h0M388.1 74.1h0M375.1 97.7h0M358.7 81.8h0M359.9 82.7h0M387.6 73.0h0M369.4 101.4h0M370.0 87.5h0M361.1 99.2h0M387.6 71.3h0M361.9 104.7h0M379.2 69.7h0M387.9 75.2h0M385.8 86.1h0M372.1 100.6h0M360.5 107.5h0M378.1 105.9h0M363.7 91.8h0M359.6 95.7h0M370.0 94.1h0M365.3 103.9h0M371.8 98.9h0M390.8 99.8h0M390.6 86.6h0M389.0 75.7h0M373.3 81.3h0M366.5 94.4h0M369.9 94.5h0M389.2 100.8h0M385.9 90.3h0M369.6 107.4h0M381.9 84.4h0M383.7 73.8h0M368.7 77.8h0M385.7 78.8h0M389.8 84.2h0M367.1 96.1h0M372.0 102.2h0M360.6 101.9h0M371.6 96.0h0M360.5 107.5h0M360.4 85.6h0M364.9 95.8h0M377.6 86.4h0M384.4 71.6h0M373.4 100.3h0M363.8 97.7h0M388.2 74.5h0M386.3 84.7h0M372.2 101.5h0M373.3 106.7h0M376.6 101.5h0M387.5 80.0h0M378.2 85.6h0M387.2 84.7h0M379.4 100.1h0M376.4 83.4h0M372.3 75.8h0M364.5 107.9h0M378.4 81.9h0M381.7 109.3h0M383.2 87.9h0M376.4 87.7h0M368.2 102.3h0M390.4 73.6h0M361.2 111.5h0M368.4 100.4h0M373.3 90.1h0M366.5 80.4h0M383.8 79.3h0M384.2 94.8h0M370.5 109.0h0M376.2 104.8h0M365.4 95.7h0M369.8 77.7h0M379.7 99.6h0M369.1 78.2h0M367.2 95.8h0M386.7 98.5h0M360.1 107.8h0M386.7 100.4h0M374.5 96.4h0M375.1 105.0h0M371.4 98.5h0M378.7 97.4h0M374.1 107.3h0M385.2 82.9h0M360.5 109.2h0M369.1 72.8h0M372.7 92.0h0M372.9 85.4h0M359.4 86.1h0M375.2 76.2h0M364.0 105.8h0M373.1 109.6h0M363.3 106.3h0M367.8 82.1h0M368.4 88.5h0M381.9 89.8h0M368.4 100.5h0M382.5 69.9h0M365.2 84.4h0M383.4 104.7h0M375.7 94.2h0M363.3 99.4h0M360.5 99.9h0M382.7 99.8h0M379.4 92.0h0M368.0 87.1h0M359.6 112.0h0M358.7 112.0h0M359.3 106.8h0M380.4 105.8h0M366.2 87.6h0M383.0 78.3h0M383.0 83.8h0M377.3 92.1h0M366.8 101.6h0M374.6 74.7h0M361.2 108.6h0M374.6 70.4h0M388.5 70.6h0M376.7 111.7h0M385.5 75.9h0M387.0 78.1h0M390.9 102.9h0M367.5 108.5h0M360.1 92.4h0M380.4 77.4h0M360.5 85.7h0M377.3 110.1h0M370.1 73.8h0M388.5 73.1h0M365.9 100.7h0M388.6 77.6h0M375.8 79.1h0M377.4 99.5h0M381.0 90.9h0M379.7 101.1h0M377.8 89.6h0M381.2 89.7h0M369.6 101.2h0M390.2 104.2h0M367.4 111.2h0M375.1 88.8h0M372.4 80.6h0M370.5 90.2h0M369.7 106.9h0M377.1 72.3h0M386.4 91.1h0M380.5 87.0h0M386.2 74.1h0M373.0 102.5h0M381.2 71.1h0M383.3 78.2h0M389.9 91.8h0M361.6 104.9h0M379.1 98.2h0M380.2 73.7h0M361.2 85.2h0M385.8 100.4h0M370.1 102.9h0M381.7 99.8h0M389.9 87.0h0M376.0 80.9h0M380.2 100.1h0M375.4 75.2h0M372.1 82.3h0M387.9 82.7h0M383.3 72.5h0M367.4 89.5h0M363.7 101.5h0M366.1 106.8h0M387.1 80.4h0M367.4 88.7h0M378.0 69.9h0M371.4 88.6h0M359.9 104.2h0M378.9 91.6h0M373.7 82.5h0M360.8 104.4h0M382.4 81.2h0M358.3 105.6h0M383.7 78.1h0M383.6 70.3h0M366.9 111.8h0M376.9 77.8h0M377.7 87.5h0M369.7 97.7h0M365.6 103.4h0M369.9 81.3h0M371.7 99.7h0M371.8 102.4h0M376.8 85.5h0M375.2 104.3h0M364.1 100.4h0M370.7 103.2h0M363.7 101.1h0M381.6 107.8h0M359.8 111.4h0M372.0 109.5h0M379.9 84.1h0M379.0 96.2h0M386.2 86.8h0M359.0 93.1h0M379.3 83.6h0M371.2 98.5h0M377.5 94.5h0M381.0 71.1h0M370.2 96.3h0M380.0 73.8h0M377.5 90.2h0M368.0 96.7h0M380.0 90.2h0M373.4 90.7h0M368.5 101.8h0M371.1 81.6h0M376.7 93.2h0M367.8 92.9h0M382.3 72.8h0M382.0 73.1h0M366.2 86.7h0M370.9 81.9h0M360.0 76.5h0M371.5 88.3h0M386.8 84.7h0M385.9 91.2h0M367.9 94.1h0M362.5 94.1h0M368.7 73.2h0M369.3 108.0h0M369.3 95.8h0M377.7 83.4h0M378.3 101.0h0M380.5 107.9h0M371.1 76.0h0M382.7 84.3h0M361.8 88.9h0M375.3 92.6h0M389.2 81.5h0M373.2 69.8h0M366.6 71.0h0M375.6 91.1h0M386.7 77.1h0M361.1 106.6h0M366.4 69.5h0M389.3 79.0h0M364.8 103.7h0M369.5 95.0h0M362.9 93.9h0M382.7 91.9h0M360.1 99.5h0M389.8 95.7h0M359.0 102.1h0M383.0 79.3h0"/>
<path class="pr" d="M400.7 41.1h0M418.2 33.1h0M393.2 64.8h0M408.3 35.8h0M402.8 48.3h0M393.2 65.4h0M392.8 58.8h0M398.9 52.2h0M395.7 55.9h0M411.7 43.4h0M389.8 68.9h0M396.1 54.3h0M393.1 62.4h0M391.0 54.8h0M384.6 69.0h0M409.8 41.3h0M390.5 53.9h0M393.0 36.7h0M387.6 61.3h0M410.4 41.4h0M404.0 47.4h0M406.2 37.4h0M383.0 54.1h0M398.5 60.6h0M399.4 55.3h0M394.2 60.3h0M398.8 42.0h0M367.2 68.1h0M385.1 59.0h0M410.8 37.7h0M388.2 60.3h0M368.6 65.2h0M396.7 56.2h0M417.1 33.7h0M398.9 54.3h0M386.1 62.2h0M412.6 29.6h0M382.7 65.3h0M389.9 68.7h0M402.3 46.1h0M394.4 61.9h0M376.9 67.0h0M392.4 67.5h0M380.2 62.9h0M406.4 47.5h0M415.6 31.0h0M387.6 64.9h0M378.2 54.5h0M397.3 52.5h0M381.9 65.5h0M402.6 49.8h0M375.9 69.0h0M393.8 58.9h0M420.1 27.6h0M385.7 59.8h0M390.4 63.3h0M392.6 50.8h0M407.1 48.6h0M386.2 63.9h0M387.3 62.9h0M399.2 55.9h0M384.1 64.3h0M375.6 57.2h0M395.9 51.1h0M411.1 42.5h0M397.9 50.7h0M377.1 63.1h0M375.3 69.4h0M393.8 47.9h0"/>
<path class="pb" d="M400.7 58.6h0M400.7 75.9h0M393.4 86.1h0M397.9 80.2h0M403.4 59.9h0M404.9 58.1h0M419.1 47.2h0M395.3 93.5h0M401.2 61.7h0M418.9 45.8h0M421.5 56.0h0M395.9 64.4h0M393.4 72.1h0M407.0 72.1h0M397.4 63.7h0M411.5 57.5h0M405.4 60.2h0M398.6 70.8h0M401.8 82.9h0M417.9 43.4h0M412.8 67.4h0M397.1 80.3h0M398.2 64.6h0M398.7 61.1h0M406.3 60.4h0M395.8 67.8h0M392.7 96.4h0M394.1 77.6h0M396.5 79.5h0M401.9 57.7h0M405.9 72.5h0M398.3 60.8h0M392.5 71.8h0M400.2 88.6h0M412.1 44.2h0M396.2 101.4h0M402.1 76.4h0M411.1 46.3h0M392.2 84.1h0M399.6 60.6h0M396.8 68.0h0M393.1 79.0h0M405.9 68.3h0M393.6 72.5h0M397.0 85.8h0M393.3 81.8h0M404.6 54.7h0M420.0 36.2h0M398.3 80.0h0M408.2 53.6h0M413.3 45.4h0M405.6 54.3h0M414.0 60.6h0M393.2 98.5h0M394.8 80.6h0M419.5 34.2h0M402.9 56.5h0M404.5 62.9h0M395.8 69.1h0M410.0 57.5h0M398.7 68.4h0M400.6 80.2h0M405.3 64.6h0M393.6 75.8h0"/>
<path class="dg" d="M358.2 112.1L439.5 8.1"/>
<path class="gr" d="M391.5 112.1V69.5M358.2 69.5H391.5"/>
<rect class="lg" x="361.7" y="11.6" width="44.7" height="11.5"/>
<circle cx="369.2" cy="14.9" r="1.2" fill="#f00"/>
<circle cx="369.2" cy="19.8" r="1.2" fill="#00f"/>
<text class="lt" x="376.7" y="15.9" textLength="28.4" lengthAdjust="spacingAndGlyphs">The Mixed Model</text>
<text class="lt" x="376.7" y="21.1" textLength="11.4" lengthAdjust="spacingAndGlyphs">VGG16</text>
<text class="yl" x="357.0" y="114.1">0</text>
<text class="yl" x="357.0" y="103.7">0.1</text>
<text class="yl" x="357.0" y="93.3">0.2</text>
<text class="yl" x="357.0" y="82.9">0.3</text>
<text class="yl" x="357.0" y="72.5">0.4</text>
<text class="yl" x="357.0" y="62.1">0.5</text>
<text class="yl" x="357.0" y="51.7">0.6</text>
<text class="yl" x="357.0" y="41.3">0.7</text>
<text class="yl" x="357.0" y="30.9">0.8</text>
<text class="yl" x="357.0" y="20.5">0.9</text>
<text class="yl" x="357.0" y="10.1">1</text>
<text class="xl" x="358.2" y="117.9">0</text>
<text class="xl" x="374.5" y="117.9">0.2</text>
<text class="xl" x="390.7" y="117.9">0.4</text>
<text class="xl" x="407.0" y="117.9">0.6</text>
<text class="xl" x="423.2" y="117.9">0.8</text>
<text class="xl" x="439.5" y="117.9">1</text>
<text class="al" x="398.9" y="123.4">PCC</text>
<text class="al" transform="translate(347.7 60.1) rotate(-90)">PCC</text>
</g>
<g>
<text class="tt" x="75.3" y="150.9">LOC</text>
<rect class="ax" x="34.30" y="152.50" width="82.10" height="103.90"/>
<path class="tk" d="M34.3 246.0h0.9M116.4 246.0h-0.9M34.3 235.6h0.9M116.4 235.6h-0.9M34.3 225.2h0.9M116.4 225.2h-0.9M34.3 214.8h0.9M116.4 214.8h-0.9M34.3 204.4h0.9M116.4 204.4h-0.9M34.3 194.1h0.9M116.4 194.1h-0.9M34.3 183.7h0.9M116.4 183.7h-0.9M34.3 173.3h0.9M116.4 173.3h-0.9M34.3 162.9h0.9M116.4 162.9h-0.9M50.7 256.4v-0.9M50.7 152.5v0.9M67.1 256.4v-0.9M67.1 152.5v0.9M83.6 256.4v-0.9M83.6 152.5v0.9M100.0 256.4v-0.9M100.0 152.5v0.9"/>
<path class="pk" d="M53.7 237.3h0M57.6 249.5h0M57.5 233.7h0M54.8 253.0h0M52.0 218.2h0M39.0 228.4h0M38.6 239.4h0M55.6 214.0h0M66.2 229.8h0M55.2 220.2h0M50.0 239.5h0M50.3 226.5h0M44.5 252.3h0M50.6 235.9h0M55.2 235.8h0M49.7 239.7h0M43.3 244.2h0M39.9 238.3h0M52.0 245.4h0M65.9 245.3h0M48.1 232.4h0M49.6 240.7h0M65.7 231.9h0M37.9 249.9h0M55.2 241.7h0M49.4 234.3h0M54.5 216.0h0M44.5 247.0h0M47.6 227.4h0M53.5 236.1h0M49.5 248.9h0M49.2 234.3h0M53.4 240.6h0M37.1 221.2h0M34.7 237.7h0M41.4 244.5h0M58.8 250.1h0M35.4 255.0h0M49.9 227.0h0M56.3 248.4h0M45.8 245.1h0M62.4 217.1h0M36.0 234.8h0M56.0 226.5h0M54.0 223.8h0M42.5 250.6h0M61.5 230.2h0M42.4 243.9h0M57.1 237.7h0M63.6 227.3h0M60.2 226.2h0M50.7 222.9h0M47.6 221.8h0M42.6 238.7h0M51.9 230.4h0M40.3 234.3h0M43.7 235.0h0M41.5 247.8h0M58.3 234.7h0M56.3 232.5h0M54.9 242.3h0M64.0 237.8h0M49.6 234.4h0M34.6 250.9h0M47.6 229.4h0M41.3 251.1h0M54.1 243.6h0M52.3 225.9h0M55.5 228.9h0M62.7 221.0h0M37.5 230.3h0M47.9 238.2h0M39.0 234.0h0M52.4 222.4h0M60.8 254.1h0M64.9 235.4h0M45.2 220.1h0M49.1 249.9h0M57.3 242.6h0M34.3 225.5h0M51.0 223.4h0M66.2 237.9h0M48.1 233.5h0M50.0 230.9h0M55.0 245.4h0M50.7 220.7h0M43.9 223.7h0M41.2 245.6h0M38.8 222.4h0M36.5 250.2h0M44.2 234.7h0M38.8 236.4h0M58.6 246.1h0M42.6 234.3h0M36.1 243.6h0M63.6 214.7h0M40.6 237.4h0M50.6 248.7h0M65.6 234.5h0M67.9 214.4h0M41.5 256.0h0M54.8 227.9h0M44.4 225.6h0M47.0 240.9h0M45.1 247.4h0M55.7 226.5h0M57.6 224.8h0M65.6 221.8h0M54.3 214.5h0M62.8 213.8h0M50.4 230.3h0M52.8 228.8h0M49.7 246.0h0M60.6 249.1h0M53.0 244.1h0M49.1 243.1h0M51.4 221.3h0M47.7 243.3h0M52.6 215.4h0M48.3 246.7h0M53.4 233.1h0M57.4 229.0h0M50.3 237.3h0M45.7 239.2h0M52.6 226.9h0M40.7 254.7h0M47.6 249.6h0M55.8 222.7h0M56.3 232.4h0M36.5 250.7h0M38.9 238.0h0M58.8 218.2h0M39.4 236.9h0M52.9 241.9h0M46.3 214.7h0M63.2 214.2h0M61.3 229.8h0M51.4 221.4h0M48.6 228.2h0M48.4 244.4h0M35.1 245.0h0M35.0 236.6h0M46.0 220.7h0M64.5 222.9h0M35.7 233.1h0M66.0 240.4h0M35.8 253.3h0M64.8 227.0h0M37.5 243.3h0M51.5 229.9h0M48.8 230.5h0M43.7 221.9h0M37.8 244.2h0M63.8 235.7h0M64.1 230.6h0M35.6 216.5h0M39.2 251.3h0M52.4 218.6h0M52.2 223.9h0M46.4 241.6h0M45.7 217.3h0M47.6 219.0h0M61.6 213.9h0M45.3 254.0h0M39.9 240.3h0M40.1 248.5h0M57.7 215.5h0M48.8 221.3h0M36.3 240.2h0M54.2 226.5h0M40.1 229.9h0M58.4 237.2h0M47.9 243.7h0M50.1 248.7h0M47.4 243.0h0M38.1 254.8h0M62.9 230.7h0M63.2 217.7h0M67.8 220.8h0M54.5 217.3h0M34.9 249.4h0M66.4 216.6h0M62.8 219.4h0M49.8 244.1h0M36.9 234.1h0M58.8 230.3h0M66.2 234.9h0M50.2 252.6h0M35.7 246.3h0M52.9 234.5h0M53.5 216.8h0M53.8 251.0h0M48.7 222.9h0M34.6 241.6h0M48.7 237.8h0M52.6 238.3h0M66.3 249.2h0M43.2 228.1h0M49.5 232.2h0M41.2 230.5h0M35.7 249.6h0M34.7 255.8h0M54.6 238.6h0M59.2 215.6h0M60.1 230.7h0M59.9 221.2h0M54.0 252.2h0M37.6 240.6h0M58.5 230.1h0M50.5 238.3h0M42.5 228.1h0M43.2 229.3h0M61.3 214.5h0M54.3 228.6h0M67.9 235.1h0M42.3 240.3h0M35.7 242.2h0M38.2 235.7h0M48.4 233.2h0M61.1 220.5h0M45.2 254.9h0M57.7 236.9h0M47.0 220.1h0M52.4 218.6h0M56.7 218.8h0M50.6 232.5h0M50.7 250.6h0M57.4 230.6h0M52.7 225.7h0M60.0 217.6h0M46.6 251.5h0M42.0 251.6h0M61.4 218.1h0M40.1 256.3h0M44.7 254.1h0M56.1 227.9h0M54.2 238.0h0M36.6 241.4h0M36.0 241.4h0M61.9 218.9h0M51.9 216.8h0M35.3 248.8h0M63.6 218.8h0M39.1 252.4h0M66.3 214.4h0M51.6 240.5h0M47.9 241.7h0M50.4 216.0h0M47.6 246.4h0M60.5 243.7h0M49.0 240.1h0M49.3 250.6h0M56.9 214.3h0M44.4 238.2h0M42.7 222.3h0M55.1 220.1h0M35.9 231.6h0M62.3 232.0h0M66.3 222.0h0M52.4 242.7h0M37.3 242.0h0M47.8 242.1h0M67.3 228.7h0M57.7 241.8h0M50.9 243.9h0M57.5 235.8h0M41.3 217.3h0M48.3 239.0h0M62.3 220.1h0M52.8 249.4h0M46.6 228.7h0M37.4 244.0h0M42.5 240.8h0M45.2 228.9h0M42.1 253.2h0M63.3 234.3h0M40.5 234.9h0M49.9 234.3h0M46.5 214.0h0M44.5 235.3h0M43.0 252.2h0M58.8 226.5h0M45.9 226.1h0M65.2 239.6h0M58.8 248.8h0M35.1 227.4h0M36.5 218.9h0M45.6 249.0h0M55.6 227.2h0M43.6 231.1h0M63.8 242.2h0M52.6 240.9h0M62.1 224.1h0M41.3 219.4h0M49.2 254.7h0M58.7 255.9h0M41.0 253.8h0M43.6 233.4h0M52.6 218.9h0M65.1 215.8h0M65.6 244.2h0M51.5 227.6h0M51.3 234.5h0M48.5 241.7h0M51.5 221.1h0M64.4 227.2h0M38.0 253.8h0M41.0 255.7h0M35.6 240.9h0M55.4 248.2h0M47.5 238.5h0M60.0 233.8h0M65.2 215.5h0M38.2 228.1h0M37.7 238.8h0M59.7 227.7h0M46.6 220.1h0M43.9 243.2h0M49.5 243.4h0M54.9 229.2h0M41.3 226.5h0M45.9 243.1h0M66.4 228.8h0M38.0 256.3h0M58.7 236.1h0M54.2 223.8h0M55.7 234.3h0M66.8 245.3h0M50.0 225.0h0M47.0 230.6h0M40.0 228.0h0M46.3 236.9h0M40.3 248.5h0M67.5 214.5h0M51.0 230.2h0M51.2 253.3h0M49.7 233.4h0M38.1 237.4h0M49.9 246.4h0M38.4 215.8h0M37.8 244.6h0M37.1 232.7h0M54.5 229.0h0M35.2 228.5h0M37.9 227.7h0M51.3 240.4h0M56.6 221.3h0M50.2 247.1h0M35.1 214.1h0M44.8 219.1h0M63.7 217.0h0M43.6 250.9h0M35.9 249.9h0M37.7 246.5h0M35.6 233.6h0M58.4 229.8h0M63.3 218.7h0M36.7 256.0h0M52.5 231.3h0M37.6 234.7h0M41.2 252.5h0M56.6 217.9h0M50.5 220.9h0M48.4 224.1h0M53.0 227.1h0M55.2 252.5h0M65.8 231.5h0M59.8 221.6h0M42.2 240.0h0M53.7 218.2h0M63.6 220.9h0M49.7 227.7h0M62.6 234.9h0M62.1 244.1h0M38.0 240.1h0M52.5 251.8h0M41.0 232.2h0M36.4 237.8h0M51.0 218.7h0M65.4 256.1h0M62.3 230.1h0M47.2 252.4h0M47.7 228.2h0M59.4 214.5h0M37.8 248.0h0M43.6 218.7h0M47.4 235.2h0M46.5 222.9h0M49.8 243.8h0M50.5 240.8h0M65.7 244.4h0M47.5 251.1h0M36.7 226.1h0M61.8 221.7h0"/>
<path class="pr" d="M43.6 206.0h0M50.8 212.3h0M64.1 209.0h0M84.5 187.5h0M82.0 188.2h0M51.2 210.5h0M58.1 212.1h0M80.0 192.4h0M64.9 208.9h0M79.7 196.8h0M72.9 207.4h0M70.8 197.4h0M80.0 195.2h0M85.5 191.2h0M55.6 204.1h0M60.0 198.4h0M69.9 198.9h0M83.8 186.0h0M49.4 195.7h0M72.1 199.2h0M70.0 208.3h0M55.9 211.2h0M81.0 194.4h0M64.2 208.9h0M57.8 196.1h0M86.8 187.6h0M46.0 208.0h0M63.9 197.7h0M56.1 206.9h0M68.4 200.2h0M84.2 186.9h0M61.5 205.2h0M70.4 207.0h0M90.0 185.7h0M85.6 186.9h0M61.6 207.3h0M58.5 206.0h0M87.0 179.1h0M87.2 189.1h0M74.0 201.3h0M71.8 194.8h0M64.4 206.0h0M68.4 207.1h0M77.0 191.5h0M73.8 183.7h0M61.0 207.4h0M80.0 190.0h0M77.2 198.9h0M81.7 195.4h0M61.7 199.0h0M74.9 200.8h0M78.7 199.6h0M79.3 195.8h0M64.0 212.1h0M68.1 191.2h0M55.5 188.5h0M67.3 195.4h0M87.7 176.0h0M73.3 206.3h0M70.4 205.1h0M83.9 189.0h0M64.1 206.4h0M68.0 185.6h0M71.8 194.3h0M67.2 205.7h0M92.3 175.8h0M68.0 209.1h0M73.4 195.8h0M82.5 190.4h0M75.4 201.8h0M63.3 207.5h0M92.1 177.8h0M86.1 186.5h0M70.5 200.4h0M64.0 213.6h0M64.4 210.4h0M61.3 207.8h0M61.1 209.2h0M70.7 201.8h0M75.7 183.7h0M70.7 203.0h0"/>
<path class="pb" d="M73.4 225.2h0M70.7 218.8h0M73.3 210.3h0M98.9 195.5h0M71.1 216.9h0M76.3 223.6h0M82.9 201.7h0M72.2 209.7h0M73.5 214.0h0M75.8 218.7h0M86.9 195.4h0M71.2 218.3h0M88.3 219.5h0M74.4 224.5h0M69.0 216.8h0M91.2 184.8h0M75.2 206.6h0M81.6 221.3h0M73.9 221.2h0M78.2 202.9h0M77.8 204.3h0M71.1 210.3h0M72.2 241.2h0M82.8 199.9h0M68.9 212.6h0M80.9 205.3h0M84.5 198.6h0M79.3 220.3h0M73.7 222.9h0M69.8 221.9h0M68.2 238.9h0M90.5 187.1h0M73.0 212.1h0M72.6 252.2h0M74.4 224.5h0M81.6 211.9h0M73.4 207.4h0M83.8 208.8h0M72.7 210.0h0M69.7 211.7h0M94.1 188.6h0M76.6 210.6h0M75.2 230.3h0M82.7 201.3h0M68.3 239.5h0M74.6 217.6h0M73.4 231.1h0M86.4 194.0h0M74.4 219.0h0M81.3 221.4h0M68.5 223.1h0M81.9 208.7h0M75.0 219.4h0M70.1 222.0h0M75.4 206.7h0M90.6 195.9h0M70.7 226.9h0M82.2 233.3h0M75.3 209.2h0M77.0 211.9h0M96.0 183.9h0M74.3 212.3h0M68.8 220.7h0M83.4 195.4h0M78.7 205.0h0M86.0 199.1h0M74.2 227.2h0M73.8 225.1h0M71.2 214.3h0M82.9 207.3h0M73.4 218.0h0M80.0 208.5h0M72.6 243.3h0M87.1 209.4h0"/>
<path class="dg" d="M34.3 256.4L116.4 152.5"/>
<path class="gr" d="M68.0 256.4V213.8M34.3 213.8H68.0"/>
<rect class="lg" x="37.8" y="156.0" width="44.7" height="11.5"/>
<circle cx="45.3" cy="159.3" r="1.2" fill="#f00"/>
<circle cx="45.3" cy="164.2" r="1.2" fill="#00f"/>
<text class="lt" x="52.8" y="160.3" textLength="28.4" lengthAdjust="spacingAndGlyphs">The Mixed Model</text>
<text class="lt" x="52.8" y="165.5" textLength="11.4" lengthAdjust="spacingAndGlyphs">VGG16</text>
<text class="yl" x="33.1" y="258.4">0</text>
<text class="yl" x="33.1" y="248.0">0.1</text>
<text class="yl" x="33.1" y="237.6">0.2</text>
<text class="yl" x="33.1" y="227.2">0.3</text>
<text class="yl" x="33.1" y="216.8">0.4</text>
<text class="yl" x="33.1" y="206.4">0.5</text>
<text class="yl" x="33.1" y="196.1">0.6</text>
<text class="yl" x="33.1" y="185.7">0.7</text>
<text class="yl" x="33.1" y="175.3">0.8</text>
<text class="yl" x="33.1" y="164.9">0.9</text>
<text class="yl" x="33.1" y="154.5">1</text>
<text class="xl" x="34.3" y="262.2">0</text>
<text class="xl" x="50.7" y="262.2">0.2</text>
<text class="xl" x="67.1" y="262.2">0.4</text>
<text class="xl" x="83.6" y="262.2">0.6</text>
<text class="xl" x="100.0" y="262.2">0.8</text>
<text class="xl" x="116.4" y="262.2">1</text>
<text class="al" x="75.3" y="267.7">PCC</text>
<text class="al" transform="translate(23.8 204.4) rotate(-90)">PCC</text>
</g>
<g>
<text class="tt" x="183.3" y="150.9">PPA</text>
<rect class="ax" x="142.50" y="152.50" width="81.60" height="103.90"/>
<path class="tk" d="M142.5 246.0h0.9M224.1 246.0h-0.9M142.5 235.6h0.9M224.1 235.6h-0.9M142.5 225.2h0.9M224.1 225.2h-0.9M142.5 214.8h0.9M224.1 214.8h-0.9M142.5 204.4h0.9M224.1 204.4h-0.9M142.5 194.1h0.9M224.1 194.1h-0.9M142.5 183.7h0.9M224.1 183.7h-0.9M142.5 173.3h0.9M224.1 173.3h-0.9M142.5 162.9h0.9M224.1 162.9h-0.9M158.8 256.4v-0.9M158.8 152.5v0.9M175.1 256.4v-0.9M175.1 152.5v0.9M191.5 256.4v-0.9M191.5 152.5v0.9M207.8 256.4v-0.9M207.8 152.5v0.9"/>
<path class="pk" d="M173.1 242.6h0M158.5 216.8h0M166.7 244.9h0M151.6 245.6h0M167.0 233.5h0M164.2 225.2h0M154.5 238.1h0M166.2 228.5h0M155.3 240.7h0M146.9 235.7h0M149.6 252.8h0M154.3 242.1h0M174.6 221.0h0M143.7 245.3h0M155.4 233.3h0M145.7 238.5h0M159.5 231.6h0M158.0 247.1h0M154.7 229.0h0M144.7 219.6h0M144.5 236.7h0M154.5 231.8h0M151.1 242.0h0M158.3 251.8h0M151.7 240.3h0M175.5 232.9h0M142.8 237.7h0M165.7 221.1h0M149.6 233.2h0M163.3 239.5h0M147.9 243.5h0M172.9 217.1h0M149.0 235.9h0M159.4 235.8h0M153.8 234.5h0M151.1 234.3h0M146.8 241.1h0M173.8 223.2h0M152.8 245.7h0M166.3 218.7h0M169.2 227.0h0M165.3 213.9h0M150.0 249.4h0M171.7 226.9h0M170.8 216.4h0M160.6 239.3h0M157.7 244.1h0M162.6 233.4h0M160.1 245.3h0M157.5 244.2h0M157.0 219.6h0M157.4 227.4h0M162.9 235.3h0M173.6 216.6h0M172.9 217.8h0M143.4 253.6h0M153.1 237.0h0M154.9 240.5h0M152.2 215.0h0M148.3 255.1h0M166.4 231.7h0M164.9 243.7h0M143.4 227.7h0M166.9 220.6h0M159.5 239.5h0M155.7 244.9h0M145.4 249.8h0M175.4 248.5h0M175.8 230.1h0M160.4 237.3h0M164.0 229.8h0M172.1 223.8h0M163.8 220.6h0M150.7 236.2h0M153.0 253.1h0M164.2 217.3h0M149.5 214.2h0M143.8 248.7h0M157.1 232.8h0M162.6 250.5h0M174.5 225.8h0M165.2 218.6h0M155.2 225.5h0M149.8 253.8h0M160.6 240.7h0M153.7 214.7h0M162.3 247.6h0M160.9 218.4h0M164.9 236.1h0M150.7 235.4h0M150.5 254.8h0M143.3 231.3h0M154.1 235.1h0M167.3 214.7h0M147.9 255.6h0M159.2 230.2h0M148.2 251.8h0M147.8 230.8h0M154.0 231.8h0M163.6 217.3h0M166.3 237.8h0M165.5 249.1h0M162.7 228.9h0M160.1 253.6h0M153.9 254.6h0M171.8 215.6h0M161.8 234.1h0M147.1 253.7h0M154.2 248.8h0M144.4 227.0h0M142.6 243.7h0M154.5 255.6h0M156.6 222.9h0M154.7 216.7h0M168.0 240.6h0M173.5 222.4h0M152.7 242.0h0M142.8 243.9h0M174.3 241.3h0M161.0 232.8h0M166.5 232.9h0M149.3 235.6h0M170.1 236.2h0M162.1 234.0h0M164.5 227.7h0M156.6 248.8h0M173.4 238.0h0M170.0 233.7h0M154.8 218.7h0M155.5 226.3h0M170.8 215.9h0M159.3 223.2h0M169.0 219.6h0M171.8 219.7h0M163.8 227.4h0M175.7 222.1h0M171.3 225.0h0M173.8 245.7h0M165.8 238.2h0M167.4 216.5h0M154.4 242.0h0M146.7 244.7h0M175.9 234.2h0M169.6 243.7h0M146.5 249.6h0M171.3 235.5h0M173.3 215.6h0M173.5 233.6h0M163.0 240.1h0M153.6 230.7h0M163.2 249.4h0M169.3 235.5h0M154.3 240.7h0M172.9 248.5h0M157.5 244.8h0M154.8 244.6h0M159.2 232.1h0M169.5 234.6h0M143.6 255.8h0M167.5 225.5h0M163.9 250.9h0M160.0 218.5h0M153.7 253.9h0M143.6 252.6h0M149.3 255.4h0M171.9 234.1h0M158.1 247.4h0M147.0 243.5h0M154.9 242.2h0M152.7 248.0h0M171.1 228.1h0M175.7 245.9h0M164.4 229.0h0M172.5 218.3h0M151.1 251.7h0M165.1 222.5h0M142.6 252.2h0M156.3 232.2h0M153.3 236.8h0M149.5 228.3h0M153.0 215.0h0M159.0 235.6h0M154.8 234.5h0M163.5 244.7h0M154.9 235.1h0M147.9 255.6h0M173.8 218.8h0M156.6 215.7h0M162.2 239.5h0M153.7 254.7h0M144.1 254.3h0M155.2 247.5h0M155.1 235.1h0M145.2 225.8h0M145.6 238.1h0M168.3 220.0h0M166.1 233.3h0M146.8 248.2h0M143.1 236.1h0M159.5 226.6h0M163.5 221.0h0M142.7 240.0h0M148.6 236.7h0M162.8 218.0h0M155.8 241.2h0M159.8 222.3h0M165.3 216.0h0M155.6 228.9h0M152.9 244.1h0M171.8 225.6h0M162.9 216.1h0M167.7 223.8h0M151.2 216.6h0M162.8 237.3h0M165.4 225.9h0M144.9 239.4h0M159.2 231.0h0M161.7 225.4h0M173.0 222.4h0M145.2 241.7h0M149.1 256.2h0M158.6 249.8h0"/>
<path class="pr" d="M183.8 190.5h0M167.3 210.8h0M176.8 207.7h0M161.6 202.5h0M164.7 197.4h0M183.4 196.3h0M171.3 205.5h0M205.0 173.8h0M167.7 206.1h0M195.3 183.4h0M203.7 171.6h0M171.5 211.6h0M179.0 200.3h0M179.3 204.8h0M178.6 208.4h0M197.6 185.3h0M180.4 201.4h0M165.2 205.0h0M192.8 187.8h0M160.0 209.1h0M177.5 197.0h0M192.7 186.6h0M183.2 179.8h0M184.0 196.0h0M174.6 205.3h0M181.6 190.3h0M199.8 179.4h0M167.3 198.5h0M178.9 201.0h0M190.3 188.5h0M166.9 213.4h0M178.0 206.8h0M166.8 208.1h0M176.0 195.0h0M155.7 209.6h0M162.8 209.6h0M181.9 180.2h0M172.7 206.0h0M169.3 211.6h0M182.2 198.2h0M202.3 177.9h0M194.5 175.5h0M179.3 201.5h0M184.0 186.5h0M196.8 182.2h0M184.9 199.4h0M168.3 208.1h0M176.2 210.6h0M174.0 213.1h0M189.0 174.0h0M198.5 180.8h0M192.6 191.2h0M186.0 190.4h0M206.7 171.4h0M199.6 181.1h0M199.7 183.3h0M183.8 188.6h0M192.0 191.1h0M180.0 184.7h0M202.5 178.2h0M174.6 210.7h0M172.5 201.0h0M185.2 186.4h0M179.4 208.8h0M173.1 209.3h0M171.6 202.2h0"/>
<path class="pb" d="M188.2 217.8h0M188.0 201.3h0M179.7 211.1h0M180.0 230.5h0M181.0 212.8h0M189.3 201.6h0M176.1 220.0h0M183.7 207.7h0M206.3 189.9h0M179.7 220.2h0M188.4 208.9h0M181.6 207.0h0M192.1 200.0h0M180.6 224.9h0M191.0 209.4h0M205.8 181.8h0M199.3 190.3h0M198.1 194.7h0M207.0 190.0h0M184.0 210.9h0M181.9 225.0h0M181.0 218.5h0M195.2 204.0h0M182.3 214.7h0M197.5 190.1h0M176.9 220.5h0M180.8 209.1h0M183.3 205.7h0M203.4 179.9h0M176.3 224.9h0M193.5 225.0h0M207.4 187.2h0M187.6 201.4h0M194.1 200.5h0M185.0 209.3h0M184.6 215.7h0M198.7 187.9h0M197.7 195.5h0M179.3 224.8h0M181.9 230.0h0M200.2 197.0h0M180.4 211.3h0M187.9 206.9h0M181.6 241.3h0M181.0 207.7h0M201.4 184.9h0M193.1 193.6h0M197.9 186.6h0M179.8 217.5h0M190.5 201.8h0M191.8 207.2h0M189.1 201.1h0M186.5 202.7h0M190.0 208.2h0"/>
<path class="dg" d="M142.5 256.4L224.1 152.5"/>
<path class="gr" d="M176.0 256.4V213.8M142.5 213.8H176.0"/>
<rect class="lg" x="146.0" y="156.0" width="44.7" height="11.5"/>
<circle cx="153.5" cy="159.3" r="1.2" fill="#f00"/>
<circle cx="153.5" cy="164.2" r="1.2" fill="#00f"/>
<text class="lt" x="161.0" y="160.3" textLength="28.4" lengthAdjust="spacingAndGlyphs">The Mixed Model</text>
<text class="lt" x="161.0" y="165.5" textLength="11.4" lengthAdjust="spacingAndGlyphs">VGG16</text>
<text class="yl" x="141.3" y="258.4">0</text>
<text class="yl" x="141.3" y="248.0">0.1</text>
<text class="yl" x="141.3" y="237.6">0.2</text>
<text class="yl" x="141.3" y="227.2">0.3</text>
<text class="yl" x="141.3" y="216.8">0.4</text>
<text class="yl" x="141.3" y="206.4">0.5</text>
<text class="yl" x="141.3" y="196.1">0.6</text>
<text class="yl" x="141.3" y="185.7">0.7</text>
<text class="yl" x="141.3" y="175.3">0.8</text>
<text class="yl" x="141.3" y="164.9">0.9</text>
<text class="yl" x="141.3" y="154.5">1</text>
<text class="xl" x="142.5" y="262.2">0</text>
<text class="xl" x="158.8" y="262.2">0.2</text>
<text class="xl" x="175.1" y="262.2">0.4</text>
<text class="xl" x="191.5" y="262.2">0.6</text>
<text class="xl" x="207.8" y="262.2">0.8</text>
<text class="xl" x="224.1" y="262.2">1</text>
<text class="al" x="183.3" y="267.7">PCC</text>
<text class="al" transform="translate(132.0 204.4) rotate(-90)">PCC</text>
</g>
<g>
<text class="tt ts" x="290.9" y="150.9">FFA</text>
<rect class="ax" x="250.20" y="152.50" width="81.50" height="103.90"/>
<path class="tk" d="M250.2 246.0h0.9M331.7 246.0h-0.9M250.2 235.6h0.9M331.7 235.6h-0.9M250.2 225.2h0.9M331.7 225.2h-0.9M250.2 214.8h0.9M331.7 214.8h-0.9M250.2 204.4h0.9M331.7 204.4h-0.9M250.2 194.1h0.9M331.7 194.1h-0.9M250.2 183.7h0.9M331.7 183.7h-0.9M250.2 173.3h0.9M331.7 173.3h-0.9M250.2 162.9h0.9M331.7 162.9h-0.9M266.5 256.4v-0.9M266.5 152.5v0.9M282.8 256.4v-0.9M282.8 152.5v0.9M299.1 256.4v-0.9M299.1 152.5v0.9M315.4 256.4v-0.9M315.4 152.5v0.9"/>
<path class="pk" d="M255.1 233.8h0M270.1 216.8h0M256.2 250.4h0M253.1 240.8h0M261.1 231.9h0M260.3 227.5h0M261.5 253.6h0M269.4 215.9h0M259.5 248.4h0M275.2 236.6h0M256.1 231.2h0M256.5 238.0h0M266.9 228.7h0M251.4 253.2h0M266.4 219.4h0M271.5 244.4h0M258.5 255.3h0M252.1 241.1h0M255.9 243.7h0M277.9 222.3h0M253.4 243.1h0M265.9 223.4h0M256.7 237.6h0M270.9 246.6h0M256.2 246.6h0M263.6 230.6h0M272.0 237.6h0M262.5 250.4h0M250.9 250.5h0M262.4 236.0h0M267.5 241.6h0M274.1 245.9h0M281.2 225.6h0M259.6 241.6h0M282.4 243.4h0M258.6 239.7h0M261.7 254.8h0M256.2 252.8h0M276.3 226.9h0M264.4 245.7h0M275.6 236.0h0M282.1 218.9h0M262.5 241.3h0M260.9 254.1h0M255.7 241.2h0M268.9 223.2h0M273.1 235.0h0M255.9 235.9h0M262.0 215.6h0M261.7 216.3h0M254.1 253.0h0M261.5 238.4h0M277.5 241.1h0M261.6 252.5h0M252.6 248.6h0M281.0 215.8h0M252.8 245.1h0M261.8 255.5h0M266.4 232.6h0M255.0 250.7h0M250.4 249.8h0M282.7 223.4h0M266.9 221.6h0M253.5 239.8h0M255.7 247.6h0M262.1 241.9h0M264.2 233.4h0M273.2 229.7h0M274.2 246.9h0M253.8 241.6h0M272.9 217.9h0M259.1 240.7h0M281.4 243.8h0M268.0 243.0h0M271.1 243.8h0M270.5 241.0h0M250.4 234.9h0M252.6 242.7h0M280.8 222.6h0M256.5 248.6h0M274.3 228.8h0M268.1 247.6h0M282.3 219.2h0M278.5 253.8h0M266.9 255.6h0M260.7 229.3h0M283.3 216.2h0M262.3 227.6h0M261.0 251.6h0M255.2 214.5h0M274.2 236.3h0M282.7 224.3h0M261.4 240.9h0M277.1 235.1h0M261.6 227.2h0M272.8 228.1h0M263.1 219.1h0M279.7 217.5h0M252.2 245.6h0M271.1 245.1h0M258.1 232.7h0M257.7 240.7h0M250.3 249.9h0M256.2 241.7h0M272.5 219.5h0M272.9 255.6h0M268.4 227.4h0M261.9 236.9h0M266.8 256.1h0M275.0 229.7h0M262.2 244.1h0M259.6 242.7h0M272.6 229.8h0M264.5 228.4h0M269.9 252.2h0M279.7 245.1h0M276.1 213.9h0M265.9 235.3h0M268.2 220.1h0M265.4 251.1h0M261.6 245.8h0M257.9 243.1h0M253.9 240.9h0M274.5 229.1h0M253.5 229.9h0M267.9 224.5h0M272.7 240.8h0M268.2 229.0h0M253.4 247.9h0M271.8 226.1h0M264.0 219.6h0M270.7 222.4h0M277.3 228.0h0M261.2 243.9h0M256.0 251.3h0M270.2 217.7h0M250.8 246.3h0M280.5 224.0h0M259.2 239.0h0M264.6 221.6h0M252.4 225.9h0M270.2 229.0h0M260.0 228.9h0M279.4 246.0h0M273.0 234.5h0M254.8 238.5h0M261.4 239.5h0M255.2 225.7h0M270.5 251.4h0M255.9 252.5h0M277.8 218.1h0M255.1 223.1h0M261.7 247.5h0M265.0 234.5h0M267.5 226.5h0M263.0 242.4h0M270.7 237.3h0M268.5 232.6h0M269.2 241.3h0M259.4 235.8h0M283.2 219.7h0M274.1 240.4h0M264.2 237.3h0M264.5 234.7h0M272.4 234.8h0M277.0 248.1h0M259.2 244.3h0M264.6 255.2h0M260.3 238.6h0M267.0 243.3h0M250.3 251.3h0M262.9 242.7h0M255.1 245.2h0M266.3 227.1h0M251.7 248.4h0M269.1 226.0h0M262.4 218.1h0M263.8 237.5h0M259.9 235.0h0M258.9 221.2h0M274.2 216.0h0M275.1 241.4h0M270.7 222.2h0M253.3 231.0h0M278.6 222.3h0M261.8 231.1h0M251.4 218.5h0M262.8 234.1h0M265.0 247.4h0M264.9 245.5h0M275.3 223.9h0M261.8 255.5h0M251.8 226.6h0M266.4 238.2h0M270.3 244.0h0M269.4 245.4h0M267.1 255.7h0M277.2 256.4h0M260.9 234.6h0M257.5 236.6h0M257.9 252.5h0M276.7 233.2h0M253.5 215.5h0M283.1 248.4h0M253.1 220.0h0M267.5 223.9h0M258.6 221.6h0M263.7 220.6h0M267.3 238.0h0M274.1 214.4h0M263.5 226.0h0M259.2 216.0h0M259.0 256.0h0M281.8 225.5h0M261.0 248.3h0M271.0 236.8h0M276.2 230.5h0M271.9 216.1h0M275.5 214.3h0M259.5 247.6h0M268.8 253.3h0M282.2 214.5h0M253.1 237.9h0M262.4 217.9h0M251.0 226.8h0M250.8 242.3h0M276.1 239.7h0M275.8 219.7h0M265.6 238.8h0M278.6 231.6h0M270.4 241.2h0M268.9 232.4h0M254.8 254.1h0M260.1 230.5h0M271.1 220.6h0M260.6 236.4h0M271.0 231.1h0M267.3 239.1h0M263.7 227.4h0M261.4 241.0h0M264.9 226.3h0M277.1 239.6h0M274.7 235.2h0M254.3 237.0h0M258.5 253.8h0M250.8 246.8h0M271.5 246.2h0M254.2 228.9h0M265.7 222.4h0M274.6 242.7h0M276.3 233.2h0M252.1 238.5h0M260.9 234.4h0M258.2 230.0h0M261.6 248.6h0M268.7 233.4h0M263.9 252.0h0M273.3 227.1h0M276.9 235.1h0M263.9 243.3h0M275.3 232.0h0M255.0 240.6h0M266.5 243.4h0M271.4 240.9h0M260.1 240.8h0M270.2 230.4h0M272.1 224.1h0M262.5 252.4h0M267.1 233.8h0M270.3 234.9h0M252.7 237.6h0M258.7 226.1h0M282.4 223.1h0M281.3 228.5h0M256.7 233.9h0M269.2 228.3h0M267.9 230.8h0M259.4 225.2h0M260.4 251.4h0M283.2 231.0h0M266.9 226.4h0M256.2 248.0h0M261.6 227.4h0M266.6 253.3h0M258.3 226.8h0M267.7 241.1h0M271.8 217.6h0M275.8 224.1h0M275.7 234.6h0M272.7 235.8h0M259.3 244.4h0"/>
<path class="pr" d="M296.3 194.7h0M302.9 187.0h0M288.1 200.0h0M308.9 173.1h0M297.8 184.0h0M297.2 191.9h0M292.4 194.4h0M270.6 195.2h0M295.8 190.2h0M283.6 210.3h0M302.8 185.2h0M303.3 186.4h0M278.0 212.6h0M299.8 182.2h0M285.0 194.9h0M305.4 177.5h0M290.4 195.1h0M287.7 203.0h0M286.0 188.7h0M285.4 201.5h0M294.9 197.2h0M276.7 194.8h0M275.1 203.1h0M275.2 210.2h0M295.1 189.1h0M280.5 210.3h0M281.4 205.2h0M285.3 209.9h0M297.0 189.5h0M300.5 187.6h0M290.6 202.2h0M278.8 209.8h0M280.1 197.2h0M282.3 206.8h0M302.8 181.2h0M284.6 199.9h0M277.4 200.8h0M310.4 175.8h0M282.1 203.5h0M279.9 211.1h0M298.8 186.8h0M289.1 200.7h0M287.3 199.1h0M266.7 204.1h0M299.3 192.4h0M288.3 192.5h0M298.5 180.9h0M272.2 210.9h0M292.9 174.8h0M304.2 185.3h0M299.6 192.9h0M304.0 185.9h0M274.2 195.4h0M296.8 189.6h0M297.8 183.6h0M262.1 210.5h0M298.3 192.8h0M273.4 204.8h0M284.0 213.2h0M290.8 199.0h0M273.5 206.9h0M285.3 208.8h0M304.8 177.7h0M295.3 187.5h0M279.3 212.7h0M275.1 209.6h0M283.8 186.6h0M268.4 194.8h0M277.1 211.2h0M265.9 201.7h0M270.2 209.9h0M281.8 200.2h0M284.1 193.3h0M293.2 197.5h0M302.9 188.7h0M305.0 180.2h0M290.2 192.1h0M291.1 188.3h0M274.8 208.1h0M303.7 185.3h0M297.7 194.9h0M283.8 188.6h0M286.0 205.3h0M287.4 203.8h0M283.8 211.7h0M306.6 175.1h0M266.7 200.8h0M270.4 207.7h0M313.6 174.4h0M290.9 197.9h0M286.0 193.0h0M281.9 206.2h0M292.8 186.7h0M282.0 206.8h0M289.4 194.4h0M302.0 181.9h0M269.2 210.6h0M293.0 179.3h0M303.0 179.1h0M289.0 203.3h0M286.4 209.1h0M282.2 196.2h0M286.4 208.4h0M264.6 208.7h0M283.6 191.1h0M275.6 208.7h0M294.2 198.8h0M287.5 202.1h0M298.5 192.9h0M274.5 206.3h0M287.2 195.1h0M297.1 194.5h0M270.3 207.3h0M259.7 211.7h0M292.0 194.4h0M282.3 194.4h0M283.2 201.6h0M283.1 209.9h0M278.9 205.9h0M291.8 185.6h0M280.3 185.5h0M302.6 180.4h0M273.1 206.8h0M293.0 187.3h0M285.2 206.5h0M291.4 199.9h0"/>
<path class="pb" d="M287.7 209.0h0M293.6 207.0h0M314.8 183.4h0M296.9 216.0h0M285.0 225.8h0M295.0 208.9h0M289.0 208.4h0M302.6 199.2h0M304.3 217.6h0M300.9 195.0h0M306.9 192.7h0M288.3 217.9h0M286.0 210.9h0M300.7 207.4h0M292.0 220.1h0M294.9 200.4h0M285.8 219.9h0M283.6 223.0h0M293.5 228.4h0M295.8 217.1h0M284.4 225.0h0M292.4 235.0h0M285.3 212.5h0M286.9 220.6h0M301.8 193.1h0M299.0 196.7h0M287.9 242.7h0M284.5 219.9h0M285.8 218.6h0M305.8 195.1h0M293.9 211.8h0M292.6 204.5h0M301.0 191.8h0M286.7 232.9h0M290.3 207.1h0M290.9 208.0h0M305.7 213.7h0M287.0 213.0h0M292.5 208.9h0M285.8 235.0h0M310.8 197.9h0M290.6 222.5h0M289.7 211.7h0M296.6 225.1h0M301.2 192.3h0M296.3 202.4h0M287.0 215.6h0M298.0 218.5h0M290.0 210.0h0M292.7 206.7h0M312.6 186.0h0M297.9 201.7h0M292.5 217.1h0M284.0 226.8h0M297.9 211.8h0M287.9 241.3h0M286.3 222.1h0M285.3 212.6h0M304.3 223.8h0M297.7 205.0h0M314.2 186.0h0M289.3 217.4h0M294.3 211.1h0M284.2 219.1h0M287.6 216.6h0M292.2 204.1h0M285.3 221.7h0M297.4 206.5h0M285.2 220.3h0M304.3 197.7h0M292.2 203.3h0M298.5 195.1h0M288.9 217.8h0M297.9 207.8h0M290.6 211.3h0M297.2 223.1h0M296.0 217.9h0M298.2 200.5h0M297.4 201.3h0M286.4 221.9h0M284.9 213.5h0M284.9 216.4h0M305.9 194.4h0M292.9 204.2h0M286.6 212.3h0M303.0 213.5h0"/>
<path class="dg" d="M250.2 256.4L331.7 152.5"/>
<path class="gr" d="M283.6 256.4V213.8M250.2 213.8H283.6"/>
<rect class="lg" x="253.7" y="156.0" width="44.7" height="11.5"/>
<circle cx="261.2" cy="159.3" r="1.2" fill="#f00"/>
<circle cx="261.2" cy="164.2" r="1.2" fill="#00f"/>
<text class="lt" x="268.7" y="160.3" textLength="28.4" lengthAdjust="spacingAndGlyphs">The Mixed Model</text>
<text class="lt" x="268.7" y="165.5" textLength="11.4" lengthAdjust="spacingAndGlyphs">VGG16</text>
<text class="yl" x="249.0" y="258.4">0</text>
<text class="yl" x="249.0" y="248.0">0.1</text>
<text class="yl" x="249.0" y="237.6">0.2</text>
<text class="yl" x="249.0" y="227.2">0.3</text>
<text class="yl" x="249.0" y="216.8">0.4</text>
<text class="yl" x="249.0" y="206.4">0.5</text>
<text class="yl" x="249.0" y="196.1">0.6</text>
<text class="yl" x="249.0" y="185.7">0.7</text>
<text class="yl" x="249.0" y="175.3">0.8</text>
<text class="yl" x="249.0" y="164.9">0.9</text>
<text class="yl" x="249.0" y="154.5">1</text>
<text class="xl" x="250.2" y="262.2">0</text>
<text class="xl" x="266.5" y="262.2">0.2</text>
<text class="xl" x="282.8" y="262.2">0.4</text>
<text class="xl" x="299.1" y="262.2">0.6</text>
<text class="xl" x="315.4" y="262.2">0.8</text>
<text class="xl" x="331.7" y="262.2">1</text>
<text class="al" x="290.9" y="267.7">PCC</text>
<text class="al" transform="translate(239.7 204.4) rotate(-90)">PCC</text>
</g>
<g>
<text class="tt tv" x="76.5" y="275.7">V1</text>
<rect class="ax" x="34.30" y="277.70" width="84.50" height="107.80"/>
<path class="tk" d="M34.3 374.7h0.9M118.8 374.7h-0.9M34.3 363.9h0.9M118.8 363.9h-0.9M34.3 353.2h0.9M118.8 353.2h-0.9M34.3 342.4h0.9M118.8 342.4h-0.9M34.3 331.6h0.9M118.8 331.6h-0.9M34.3 320.8h0.9M118.8 320.8h-0.9M34.3 310.0h0.9M118.8 310.0h-0.9M34.3 299.3h0.9M118.8 299.3h-0.9M34.3 288.5h0.9M118.8 288.5h-0.9M51.2 385.5v-0.9M51.2 277.7v0.9M68.1 385.5v-0.9M68.1 277.7v0.9M85.0 385.5v-0.9M85.0 277.7v0.9M101.9 385.5v-0.9M101.9 277.7v0.9"/>
<path class="pk" d="M39.4 370.0h0M68.5 349.7h0M67.2 346.4h0M42.9 375.4h0M56.9 381.0h0M54.9 355.9h0M45.3 372.0h0M39.2 364.1h0M56.7 355.0h0M35.7 382.3h0M43.4 345.3h0M41.1 375.4h0M40.9 365.9h0M56.1 358.6h0M39.8 364.4h0M58.9 381.4h0M50.9 379.2h0M49.3 382.0h0M52.3 350.6h0M36.4 357.2h0M55.3 360.7h0M42.4 362.3h0M66.2 351.1h0M35.9 384.3h0M56.5 354.4h0M44.2 371.5h0M36.7 382.5h0M53.8 377.7h0M59.4 378.9h0M38.5 356.9h0M53.0 364.4h0M47.4 366.7h0M54.3 356.6h0M42.2 349.2h0M42.4 365.1h0M47.5 373.6h0M46.9 343.3h0M35.4 347.1h0M35.1 352.4h0M38.4 347.8h0M65.7 341.6h0M56.9 354.4h0M53.0 372.9h0M43.1 381.1h0M51.4 356.8h0M48.7 342.9h0M40.3 351.9h0M46.3 354.4h0M59.3 378.5h0M40.3 381.2h0M49.1 372.7h0M46.6 342.3h0M43.9 344.6h0M43.4 356.3h0M59.5 353.1h0M42.2 350.5h0M48.5 371.0h0M67.9 351.6h0M46.0 345.7h0M48.0 346.3h0M53.7 362.6h0M45.8 374.7h0M43.3 354.6h0M59.0 350.7h0M37.7 381.0h0M60.2 384.9h0M41.3 384.5h0M57.1 352.7h0M42.8 374.5h0M35.5 371.1h0M58.1 351.0h0M58.3 368.1h0M58.9 375.0h0M34.6 373.1h0M51.2 343.5h0M35.3 382.2h0M41.0 380.3h0M37.7 350.5h0M49.6 381.2h0M53.8 354.4h0M56.4 384.2h0M48.2 352.7h0M61.3 377.7h0M60.5 356.7h0M48.3 362.0h0M44.4 369.1h0M56.0 380.8h0M59.7 351.0h0M47.4 345.7h0M42.3 361.2h0M59.1 365.3h0M56.8 371.0h0M47.7 380.5h0M40.4 364.9h0M63.4 380.3h0M35.2 369.9h0M45.4 383.3h0M46.1 346.2h0M38.4 350.4h0M49.7 354.1h0M60.8 366.5h0M59.0 376.6h0M52.1 365.3h0M49.7 358.5h0M65.8 362.2h0M35.2 381.2h0M37.6 345.9h0M40.9 357.6h0M67.9 363.2h0M46.3 381.7h0M53.0 372.9h0M49.5 377.8h0M53.4 354.1h0M49.2 384.7h0M42.1 383.6h0M46.2 357.4h0M54.4 350.6h0M41.1 373.3h0M61.9 378.4h0M34.6 359.6h0M52.7 364.3h0M63.2 365.6h0M64.6 360.4h0M47.1 362.5h0M67.9 353.2h0M53.9 347.8h0M63.2 374.2h0M58.5 371.0h0M36.8 347.4h0M49.3 365.3h0M60.9 361.6h0M44.2 375.5h0M50.5 374.5h0M65.7 368.8h0M51.8 351.1h0M55.1 383.2h0M41.5 383.4h0M67.4 353.6h0M40.8 374.6h0M59.2 364.8h0M46.5 377.1h0M38.8 368.7h0M36.8 369.9h0M62.2 364.1h0M62.3 343.1h0M40.4 361.4h0M44.0 343.5h0M66.3 349.1h0M66.9 366.6h0M37.4 362.6h0M44.6 357.0h0M47.9 348.7h0M62.9 368.0h0M50.3 360.3h0M37.3 373.6h0M52.8 364.8h0M55.5 348.8h0M56.3 375.1h0M49.3 346.6h0M56.0 384.3h0M36.0 385.4h0M68.2 361.6h0M36.8 361.0h0M34.9 352.5h0M34.8 355.1h0M62.9 378.4h0M59.1 350.8h0M39.8 371.8h0M50.1 360.3h0M63.7 352.1h0M46.3 364.1h0M50.3 358.1h0M36.7 381.9h0M51.3 371.5h0M55.8 347.9h0M38.5 381.0h0M48.6 371.7h0M41.3 362.9h0M38.9 358.6h0M38.0 350.2h0M67.0 352.1h0M47.8 380.8h0M50.1 384.7h0M40.8 348.5h0M42.8 384.8h0M36.9 354.5h0M58.1 347.5h0M67.0 369.3h0M51.1 353.3h0M39.0 355.4h0M50.7 367.2h0M65.7 385.2h0M54.5 354.2h0M48.0 358.6h0M35.4 381.7h0M40.9 384.0h0M48.4 377.1h0M47.3 372.0h0M40.2 348.6h0"/>
<path class="pr" d="M82.3 317.6h0M82.7 316.8h0M58.2 322.2h0M70.2 319.9h0M78.8 307.3h0M64.2 327.6h0M42.9 341.1h0M78.9 315.7h0M90.4 311.4h0M34.8 306.6h0M85.8 302.3h0M52.3 313.8h0M87.0 301.6h0M92.4 301.9h0M71.5 314.6h0M69.1 319.1h0M100.3 300.0h0M91.0 301.4h0M89.7 310.9h0M76.3 321.0h0M37.1 320.9h0M35.4 320.3h0M59.6 312.7h0M89.0 295.5h0M49.7 333.5h0M68.2 322.6h0M85.2 314.6h0M46.2 337.1h0M78.4 315.2h0M66.5 325.4h0M84.2 307.5h0M50.6 338.8h0M63.1 316.4h0M48.2 330.6h0M61.3 304.6h0M93.4 302.5h0M85.9 307.0h0M84.4 304.7h0M53.1 321.9h0M71.4 325.7h0M48.1 312.7h0M70.3 316.5h0M84.7 305.8h0M77.7 327.9h0M89.7 314.8h0M68.9 310.8h0M72.5 324.4h0M71.8 310.0h0M86.0 298.7h0M77.4 327.1h0M74.2 317.1h0M87.9 307.8h0M87.5 310.2h0M61.7 332.9h0M91.5 304.9h0M35.3 325.2h0M71.8 323.2h0M91.6 296.6h0M95.4 303.3h0M44.3 310.5h0M53.7 330.1h0M73.8 324.1h0M69.0 328.9h0M37.3 323.6h0M66.8 317.8h0M82.0 300.0h0M51.2 331.8h0M84.4 312.6h0M49.5 330.2h0M89.3 305.7h0M93.3 308.2h0M73.6 326.0h0M82.0 313.5h0M92.5 305.4h0M67.9 315.9h0M70.6 310.4h0M75.4 320.6h0M55.1 306.7h0M59.1 314.1h0M55.6 329.1h0M74.7 325.4h0M70.1 327.7h0M41.8 335.3h0M81.5 305.2h0M70.6 305.3h0M79.9 323.5h0M46.3 314.2h0M84.7 305.1h0M66.0 320.8h0M64.0 311.6h0M63.2 316.2h0M58.4 329.5h0M82.9 314.8h0M95.3 298.0h0M81.6 307.6h0M71.3 333.7h0M53.8 317.5h0M81.7 320.8h0M83.6 305.8h0M67.9 338.7h0M69.6 314.2h0M71.5 308.8h0M92.9 301.7h0M48.9 317.3h0M50.6 329.8h0M81.5 312.7h0M79.9 314.3h0M95.2 298.6h0M68.1 300.1h0M72.5 320.8h0M55.9 313.0h0M96.3 299.7h0M51.0 326.2h0M58.3 319.9h0M80.8 307.4h0M70.9 312.2h0M63.7 321.6h0M79.6 311.7h0M66.2 315.5h0M63.3 335.7h0M97.4 303.0h0M74.0 307.5h0M79.0 320.7h0M81.1 311.1h0M91.3 308.5h0M78.4 324.3h0M71.1 311.7h0M80.3 320.0h0M78.5 309.1h0M83.1 313.5h0M53.2 341.1h0M42.9 332.5h0M69.0 316.5h0M76.8 316.6h0M42.8 331.2h0M36.6 334.7h0M77.4 311.5h0M78.7 304.6h0M65.1 328.4h0M64.5 322.2h0M69.8 309.9h0M76.7 328.4h0M69.1 326.4h0M65.9 320.8h0M69.1 336.0h0M96.6 301.9h0M63.7 318.6h0M61.2 331.3h0M94.2 305.8h0M81.2 295.9h0M61.1 332.0h0M62.3 331.3h0M87.3 315.2h0M77.1 294.3h0M74.1 308.8h0M88.5 310.1h0M63.8 302.5h0M52.3 337.3h0M85.9 300.2h0M88.2 313.5h0M51.5 333.2h0M57.7 324.8h0M77.1 311.0h0M81.3 306.0h0M86.9 300.6h0M81.0 318.7h0M72.3 310.4h0M84.0 306.7h0M66.0 332.0h0M35.6 332.2h0M53.4 335.3h0M45.2 301.2h0M70.3 322.9h0M91.7 301.7h0M61.7 339.2h0M89.6 304.8h0M74.3 300.1h0M97.7 303.0h0M36.0 331.9h0M68.8 329.7h0M51.5 326.6h0M73.8 332.3h0M79.6 314.7h0M52.9 341.1h0M68.0 310.7h0M60.8 321.9h0M86.0 311.6h0M70.6 320.3h0M83.3 304.1h0M74.9 314.5h0M82.0 318.5h0M58.7 331.5h0M87.4 303.2h0M77.4 317.6h0M71.1 325.3h0M40.1 311.8h0M71.2 319.1h0M77.5 310.5h0M75.1 314.3h0M57.2 339.8h0M89.6 310.5h0M71.6 308.0h0M72.7 315.5h0"/>
<path class="pb" d="M94.4 309.5h0M79.7 332.7h0M91.5 314.9h0M92.6 326.4h0M71.4 340.5h0M80.9 338.7h0M93.8 315.3h0M88.0 318.8h0M81.7 337.2h0M97.3 310.7h0M90.3 314.7h0M100.7 311.4h0M75.7 334.9h0M81.6 331.5h0M99.1 313.7h0M92.7 315.2h0M92.2 318.2h0M99.8 310.7h0M83.6 325.6h0M84.4 324.5h0M78.9 349.1h0M91.0 314.9h0M83.0 331.3h0M89.2 317.2h0M101.3 302.5h0M84.4 344.4h0M81.3 334.1h0M71.4 357.5h0M93.2 324.1h0M85.6 331.9h0M82.3 361.5h0M86.5 323.9h0M104.9 317.3h0M75.3 339.7h0M84.6 327.5h0M82.9 325.8h0M81.6 344.1h0M101.0 326.9h0M87.5 328.6h0M82.3 330.4h0M74.6 340.5h0M92.7 327.9h0M69.4 349.2h0M87.5 347.8h0M81.4 336.3h0M81.1 354.4h0M77.4 372.4h0M80.7 327.0h0M85.0 346.9h0M75.8 345.6h0M71.2 347.4h0M71.9 341.1h0M75.7 351.3h0M86.4 329.9h0M73.3 347.8h0M87.7 324.8h0"/>
<path class="dg" d="M34.3 385.5L118.8 277.7"/>
<path class="gr" d="M68.9 385.5V341.3M34.3 341.3H68.9"/>
<rect class="lg" x="37.4" y="281.1" width="46.4" height="12.3"/>
<circle cx="45.3" cy="284.1" r="1.2" fill="#f00"/>
<circle cx="45.3" cy="290.0" r="1.2" fill="#00f"/>
<text class="lt" x="53.0" y="285.6" textLength="29.0" lengthAdjust="spacingAndGlyphs">The Mixed Model</text>
<text class="lt" x="53.0" y="291.2" textLength="16.0" lengthAdjust="spacingAndGlyphs" font-style="italic">ResNet50</text>
<text class="yl" x="33.1" y="387.8">0</text>
<text class="yl" x="33.1" y="377.0">0.1</text>
<text class="yl" x="33.1" y="366.2">0.2</text>
<text class="yl" x="33.1" y="355.5">0.3</text>
<text class="yl" x="33.1" y="344.7">0.4</text>
<text class="yl" x="33.1" y="333.9">0.5</text>
<text class="yl" x="33.1" y="323.1">0.6</text>
<text class="yl" x="33.1" y="312.3">0.7</text>
<text class="yl" x="33.1" y="301.6">0.8</text>
<text class="yl" x="33.1" y="290.8">0.9</text>
<text class="yl" x="33.1" y="280.0">1</text>
<text class="xl" x="34.3" y="391.7">0</text>
<text class="xl" x="51.2" y="391.7">0.2</text>
<text class="xl" x="68.1" y="391.7">0.4</text>
<text class="xl" x="85.0" y="391.7">0.6</text>
<text class="xl" x="101.9" y="391.7">0.8</text>
<text class="xl" x="118.8" y="391.7">1</text>
<text class="al" x="76.5" y="396.8">PCC</text>
<text class="al" transform="translate(23.8 331.6) rotate(-90)">PCC</text>
</g>
<g>
<text class="tt tv" x="187.7" y="275.7">V2</text>
<rect class="ax" x="145.40" y="277.70" width="84.50" height="107.80"/>
<path class="tk" d="M145.4 374.7h0.9M229.9 374.7h-0.9M145.4 363.9h0.9M229.9 363.9h-0.9M145.4 353.2h0.9M229.9 353.2h-0.9M145.4 342.4h0.9M229.9 342.4h-0.9M145.4 331.6h0.9M229.9 331.6h-0.9M145.4 320.8h0.9M229.9 320.8h-0.9M145.4 310.0h0.9M229.9 310.0h-0.9M145.4 299.3h0.9M229.9 299.3h-0.9M145.4 288.5h0.9M229.9 288.5h-0.9M162.3 385.5v-0.9M162.3 277.7v0.9M179.2 385.5v-0.9M179.2 277.7v0.9M196.1 385.5v-0.9M196.1 277.7v0.9M213.0 385.5v-0.9M213.0 277.7v0.9"/>
<path class="pk" d="M163.8 353.5h0M164.7 367.3h0M153.5 348.6h0M178.6 382.4h0M158.4 371.4h0M158.1 352.9h0M152.6 382.3h0M179.1 347.0h0M147.9 380.9h0M148.8 368.9h0M153.3 371.4h0M162.4 371.0h0M149.8 354.7h0M149.5 374.7h0M149.4 344.5h0M154.2 367.8h0M148.7 378.9h0M162.8 341.5h0M145.7 369.7h0M158.4 351.8h0M175.8 357.4h0M174.7 370.0h0M165.8 383.2h0M152.7 344.3h0M175.0 365.2h0M166.2 354.6h0M172.1 376.9h0M179.7 341.9h0M157.8 352.7h0M178.9 352.2h0M147.8 365.5h0M146.1 363.5h0M170.1 374.0h0M163.3 353.3h0M179.8 361.0h0M158.2 383.1h0M160.3 357.1h0M161.9 361.0h0M160.9 358.1h0M157.0 369.1h0M156.3 352.6h0M148.2 381.4h0M176.0 362.6h0M162.8 355.8h0M161.7 372.8h0M178.6 346.6h0M152.0 367.0h0M174.1 356.1h0M159.6 365.5h0M155.6 360.7h0M157.7 368.5h0M171.0 363.9h0M164.6 365.6h0M147.1 354.8h0M176.4 381.6h0M146.7 364.6h0M166.6 361.5h0M152.0 348.6h0M151.8 355.2h0M156.2 348.9h0M152.2 354.2h0M156.7 379.7h0M147.2 361.2h0M159.7 342.9h0M170.3 343.7h0M149.2 365.4h0M160.0 371.3h0M172.9 357.6h0M175.3 381.5h0M160.9 370.9h0M150.6 347.3h0M151.4 367.0h0M156.7 342.6h0M177.4 348.4h0M180.0 370.8h0M171.5 354.0h0M148.5 359.2h0M169.8 354.6h0M152.1 380.0h0M148.1 360.3h0M175.6 379.4h0M153.1 353.6h0M169.2 341.6h0M158.0 360.6h0M171.0 366.8h0M178.3 376.3h0M173.5 348.3h0M175.1 357.2h0M150.7 384.1h0M145.8 342.9h0M163.8 362.0h0M166.7 347.8h0M169.2 358.7h0M154.0 341.5h0M158.8 381.8h0M154.5 379.4h0M157.2 369.5h0M157.4 374.3h0M164.4 356.5h0M159.8 379.4h0M153.9 347.2h0M150.5 362.7h0M179.3 352.7h0M159.4 376.5h0M173.3 349.6h0M168.1 364.2h0M158.5 348.5h0M148.8 364.4h0M151.6 343.7h0M153.4 353.8h0M163.6 344.8h0M148.1 362.4h0M165.5 352.0h0M170.2 377.6h0M146.8 375.3h0M162.9 375.6h0M162.3 375.6h0M154.5 362.9h0M155.1 346.6h0M163.1 360.8h0M169.5 365.8h0M149.0 342.6h0M160.2 366.8h0M178.9 363.6h0M158.5 375.4h0M167.6 362.2h0M145.4 374.2h0M159.5 349.8h0M165.7 381.2h0M145.6 370.6h0M164.3 348.6h0M152.6 379.7h0M178.7 364.7h0M156.9 345.2h0M156.0 385.3h0M166.2 352.7h0M179.2 346.5h0M164.3 351.6h0M159.2 342.9h0M159.6 384.7h0M178.0 346.5h0M175.7 378.6h0M147.0 370.7h0M151.1 372.2h0M159.1 344.3h0M149.2 375.7h0M156.1 370.8h0M161.1 355.9h0M156.2 372.3h0M161.5 356.1h0M167.8 374.4h0M159.8 356.0h0M148.8 346.0h0M151.4 377.2h0M175.0 356.5h0M167.4 370.4h0M174.2 360.8h0M155.4 349.1h0M163.1 359.9h0M177.5 372.5h0M170.7 373.5h0M177.2 365.6h0M152.0 352.7h0M151.1 355.3h0M161.7 376.0h0M175.1 351.9h0M170.1 354.8h0M161.7 351.6h0M154.3 345.7h0M150.3 365.8h0M155.7 347.4h0M168.6 366.9h0M168.2 372.0h0M147.4 362.4h0M175.1 355.6h0M168.6 369.8h0M146.8 359.5h0M172.9 370.8h0M155.1 370.0h0M158.5 350.3h0M165.1 347.0h0M177.1 359.5h0M170.8 346.8h0M149.5 366.4h0M151.9 357.2h0M162.4 383.3h0M164.5 365.8h0M169.6 374.7h0M162.8 357.2h0M166.0 355.1h0M150.3 353.6h0M151.2 379.1h0M149.6 373.6h0M177.9 355.9h0M166.7 371.9h0M161.8 359.0h0M168.6 374.7h0M161.3 360.9h0M163.9 374.2h0M146.3 382.5h0M150.1 377.3h0M157.8 370.3h0M165.2 353.0h0M147.7 380.5h0M145.7 373.0h0M164.2 354.2h0M152.6 383.5h0M163.7 384.6h0M175.7 367.5h0M160.6 354.1h0M146.6 363.4h0M156.8 371.1h0M156.3 382.8h0M165.4 382.5h0M161.5 375.4h0M149.6 342.8h0M158.2 373.1h0M158.1 361.1h0M151.0 368.5h0M152.6 352.0h0M165.3 346.0h0M146.7 381.7h0M153.1 349.2h0M153.2 355.0h0M170.7 354.4h0M163.4 363.4h0M148.0 347.7h0M155.1 375.5h0M148.7 349.0h0M162.9 357.6h0M177.0 351.6h0M163.6 364.5h0M159.9 371.0h0M163.0 343.2h0M156.9 351.8h0M167.0 355.6h0M147.5 371.7h0M155.7 353.9h0M160.2 359.6h0M154.9 381.4h0M162.2 363.2h0M177.8 342.6h0M159.6 385.5h0M161.1 356.1h0M158.5 379.7h0M168.1 379.9h0M172.9 372.9h0M154.5 367.4h0M153.0 383.1h0M170.1 352.1h0M164.2 348.8h0M159.4 342.3h0M177.3 352.3h0M164.5 351.7h0M147.9 343.0h0M150.1 371.2h0M163.9 382.2h0M155.8 380.6h0M149.9 357.9h0M147.7 372.0h0M176.5 355.1h0M149.2 346.2h0M156.9 356.4h0M163.2 350.3h0M162.2 384.6h0M151.2 359.1h0M165.3 353.6h0M159.2 353.4h0M162.6 350.5h0M170.8 351.9h0M146.1 355.0h0M152.0 370.2h0M146.9 381.8h0M159.0 359.4h0M175.1 369.3h0M151.8 341.5h0M170.3 353.8h0M148.4 371.5h0M170.7 384.1h0M156.8 368.2h0M151.7 374.7h0M177.0 369.1h0M178.1 347.2h0M151.4 345.4h0M163.1 372.7h0M170.7 384.4h0M146.3 369.1h0M171.9 343.3h0M173.6 342.8h0M161.8 361.6h0M163.0 384.9h0M149.1 382.2h0M163.9 343.1h0M151.6 357.2h0M159.4 353.5h0M161.8 344.5h0M149.1 376.8h0M165.7 351.8h0M172.3 344.5h0M158.1 356.0h0M150.0 344.7h0M175.2 365.8h0M151.1 354.0h0M148.6 344.2h0M165.1 372.2h0M176.7 364.9h0M168.2 349.7h0M161.1 366.7h0M162.1 375.6h0M150.6 345.3h0M152.1 348.0h0M176.2 361.7h0M180.0 362.6h0M178.5 360.1h0M161.1 345.4h0M146.5 347.2h0M163.0 384.0h0M168.5 372.2h0M158.4 373.9h0M171.4 381.4h0M164.6 343.4h0M161.0 361.3h0"/>
<path class="pr" d="M181.7 319.1h0M174.4 329.4h0M156.7 332.8h0M178.8 315.5h0M168.9 301.8h0M164.7 316.0h0M190.2 322.5h0M170.7 330.3h0M191.3 320.6h0M160.0 316.5h0M199.3 305.6h0M154.0 301.9h0M151.3 338.3h0M194.8 315.1h0M169.5 335.7h0M178.3 313.2h0M188.4 318.9h0M175.0 330.1h0M158.9 332.2h0M175.0 332.2h0M196.5 314.8h0M184.9 318.7h0M187.8 307.9h0M155.9 302.6h0M160.2 334.6h0M154.3 324.4h0M197.6 314.6h0M205.5 303.2h0M185.7 318.8h0M184.8 326.2h0M183.0 333.6h0M160.7 325.1h0M177.6 312.9h0M187.3 308.3h0M165.6 320.3h0M170.2 339.5h0M179.3 330.2h0M176.8 324.6h0M188.9 328.8h0M191.3 313.4h0M197.1 308.8h0M171.3 298.3h0M190.8 324.0h0M162.9 322.0h0M168.5 318.7h0M153.9 339.6h0M162.0 326.4h0M174.7 310.3h0M169.6 341.2h0M194.0 315.2h0M194.5 303.6h0M154.6 338.6h0M180.5 329.3h0M151.5 330.2h0M196.3 301.9h0M182.7 302.2h0M182.8 321.4h0M181.7 318.6h0M168.6 314.5h0M149.6 337.4h0M195.4 316.5h0M163.0 329.1h0M196.3 316.2h0M191.3 325.6h0M178.5 316.3h0M181.2 323.4h0M183.4 321.3h0M180.7 326.6h0M191.6 325.8h0M168.5 311.5h0M197.4 300.8h0M172.4 305.3h0M160.5 333.9h0M184.9 332.2h0M159.9 321.4h0M199.0 303.1h0M180.7 318.7h0M176.3 333.5h0M209.4 301.4h0M201.7 304.7h0M147.6 331.7h0M194.4 309.0h0M146.7 321.0h0M164.0 327.6h0M182.0 307.0h0M161.0 317.5h0M179.5 318.6h0M160.0 322.6h0M182.6 335.2h0M175.5 302.5h0M159.1 332.9h0M197.4 314.9h0M180.3 319.3h0M161.5 300.2h0M157.5 341.2h0M175.4 331.6h0M173.4 328.1h0M175.6 331.3h0M167.8 317.3h0M203.6 307.5h0M175.4 334.8h0M182.2 326.6h0M191.4 305.3h0M163.1 327.1h0M179.0 330.0h0M203.2 304.1h0M183.5 325.2h0M147.0 339.3h0M187.0 322.6h0M161.6 323.0h0M191.2 305.7h0M164.9 327.8h0M207.1 300.5h0M158.8 315.5h0M181.6 310.3h0M176.4 300.7h0M160.6 336.0h0M182.1 321.9h0M179.2 321.4h0M176.7 322.2h0M192.5 311.1h0M153.1 315.6h0M199.1 311.1h0M183.9 324.2h0M154.5 317.6h0M208.8 304.3h0M156.0 328.2h0M179.1 311.8h0M164.6 304.7h0M197.4 315.9h0M171.3 323.1h0M192.6 319.0h0M193.3 320.5h0M198.1 317.6h0M176.5 326.2h0M154.6 312.1h0M186.3 332.9h0M150.4 328.4h0M169.9 301.5h0M172.4 310.5h0M153.7 326.1h0M182.6 322.4h0M206.3 303.2h0M188.7 302.3h0M158.6 338.5h0M196.2 320.1h0M179.7 294.1h0M175.0 336.7h0M165.4 325.3h0M163.6 316.1h0M180.9 295.7h0M149.3 339.8h0M186.5 315.4h0M169.8 339.9h0M156.1 322.0h0M183.4 317.3h0M186.9 327.5h0M184.7 329.7h0M165.1 315.5h0M153.4 339.1h0M194.1 313.6h0M177.6 327.0h0M174.8 334.5h0M173.6 317.9h0M193.5 301.6h0M184.6 313.7h0M183.3 304.3h0M205.5 298.9h0M168.7 339.5h0M196.8 310.3h0M163.2 339.6h0M199.1 307.1h0M166.7 320.8h0M152.3 336.5h0M176.9 309.6h0M170.4 316.4h0M169.3 335.3h0M163.4 330.6h0M172.1 320.7h0M186.1 319.7h0M207.2 297.9h0M202.1 295.1h0M182.2 325.1h0M188.0 322.1h0M167.2 298.1h0M163.6 340.1h0M187.9 315.6h0M192.4 314.8h0M192.3 310.1h0M169.8 335.9h0M202.1 312.6h0M172.9 338.9h0M150.9 318.6h0M146.4 324.1h0M192.4 314.2h0M162.5 314.4h0M190.2 305.1h0M187.3 312.2h0M161.3 314.7h0M181.5 338.4h0M173.3 334.8h0M193.9 306.1h0M199.0 316.4h0M161.2 322.1h0M167.8 334.1h0M168.1 330.5h0M175.2 329.7h0M145.7 315.6h0M180.4 309.6h0M191.2 321.8h0M155.8 331.5h0M180.6 319.6h0M152.7 335.7h0M187.9 320.6h0M173.0 339.8h0M155.8 324.4h0M167.4 339.1h0M158.0 322.5h0M193.3 303.2h0M171.5 317.6h0M184.5 310.2h0M184.6 300.0h0M167.0 339.3h0M160.5 317.8h0M165.1 324.9h0M203.4 310.5h0M180.4 318.9h0M154.6 312.3h0M175.0 336.7h0M181.0 317.0h0M162.9 323.1h0M165.1 325.0h0M197.1 312.8h0M185.3 320.1h0M177.5 308.3h0M188.3 319.8h0M172.6 340.7h0M159.8 340.6h0M171.6 331.3h0M192.2 317.3h0M196.1 298.6h0M147.4 326.8h0M197.1 299.5h0M180.0 316.2h0M192.4 313.0h0M190.0 318.6h0M173.0 338.5h0M166.1 324.1h0M192.0 315.7h0M184.2 329.9h0M169.8 334.9h0M183.9 310.8h0M201.2 303.3h0M171.0 320.8h0M202.6 307.4h0M156.1 334.5h0"/>
<path class="pb" d="M185.5 352.8h0M194.3 336.5h0M182.0 339.3h0M202.0 316.8h0M202.3 334.6h0M184.4 337.3h0M201.8 313.9h0M180.7 344.7h0M207.1 311.3h0M192.5 326.1h0M201.6 317.8h0M198.8 329.2h0M192.7 326.9h0M180.6 355.5h0M185.3 339.9h0M193.8 351.2h0M197.1 321.7h0M206.0 315.3h0M207.3 316.5h0M205.7 308.7h0M212.5 308.5h0M200.6 319.7h0M183.3 341.8h0M197.4 320.7h0M211.7 315.1h0M209.0 326.8h0M195.6 337.3h0M197.8 326.1h0M198.6 337.5h0M193.7 337.9h0M200.2 328.3h0M181.0 350.9h0M214.1 307.2h0M181.3 340.2h0M186.5 360.9h0M201.8 314.9h0M199.0 346.7h0M203.8 329.4h0M187.9 342.1h0M195.1 340.3h0M205.6 319.6h0M195.7 322.5h0M214.4 306.1h0M184.9 335.3h0M194.4 331.1h0"/>
<path class="dg" d="M145.4 385.5L229.9 277.7"/>
<path class="gr" d="M180.0 385.5V341.3M145.4 341.3H180.0"/>
<rect class="lg" x="148.5" y="281.1" width="46.4" height="12.3"/>
<circle cx="156.4" cy="284.1" r="1.2" fill="#f00"/>
<circle cx="156.4" cy="290.0" r="1.2" fill="#00f"/>
<text class="lt" x="164.1" y="285.6" textLength="29.0" lengthAdjust="spacingAndGlyphs">The Mixed Model</text>
<text class="lt" x="164.1" y="291.2" textLength="16.0" lengthAdjust="spacingAndGlyphs" font-style="italic">ResNet50</text>
<text class="yl" x="144.2" y="387.8">0</text>
<text class="yl" x="144.2" y="377.0">0.1</text>
<text class="yl" x="144.2" y="366.2">0.2</text>
<text class="yl" x="144.2" y="355.5">0.3</text>
<text class="yl" x="144.2" y="344.7">0.4</text>
<text class="yl" x="144.2" y="333.9">0.5</text>
<text class="yl" x="144.2" y="323.1">0.6</text>
<text class="yl" x="144.2" y="312.3">0.7</text>
<text class="yl" x="144.2" y="301.6">0.8</text>
<text class="yl" x="144.2" y="290.8">0.9</text>
<text class="yl" x="144.2" y="280.0">1</text>
<text class="xl" x="145.4" y="391.7">0</text>
<text class="xl" x="162.3" y="391.7">0.2</text>
<text class="xl" x="179.2" y="391.7">0.4</text>
<text class="xl" x="196.1" y="391.7">0.6</text>
<text class="xl" x="213.0" y="391.7">0.8</text>
<text class="xl" x="229.9" y="391.7">1</text>
<text class="al" x="187.7" y="396.8">PCC</text>
<text class="al" transform="translate(134.9 331.6) rotate(-90)">PCC</text>
</g>
<g>
<text class="tt tv" x="298.7" y="275.7">V3</text>
<rect class="ax" x="256.20" y="277.70" width="85.00" height="107.80"/>
<path class="tk" d="M256.2 374.7h0.9M341.2 374.7h-0.9M256.2 363.9h0.9M341.2 363.9h-0.9M256.2 353.2h0.9M341.2 353.2h-0.9M256.2 342.4h0.9M341.2 342.4h-0.9M256.2 331.6h0.9M341.2 331.6h-0.9M256.2 320.8h0.9M341.2 320.8h-0.9M256.2 310.0h0.9M341.2 310.0h-0.9M256.2 299.3h0.9M341.2 299.3h-0.9M256.2 288.5h0.9M341.2 288.5h-0.9M273.2 385.5v-0.9M273.2 277.7v0.9M290.2 385.5v-0.9M290.2 277.7v0.9M307.2 385.5v-0.9M307.2 277.7v0.9M324.2 385.5v-0.9M324.2 277.7v0.9"/>
<path class="pk" d="M256.2 352.5h0M285.6 369.7h0M261.5 385.4h0M284.6 375.0h0M257.3 343.1h0M267.8 365.4h0M270.3 385.1h0M283.0 363.3h0M289.8 351.1h0M264.3 384.1h0M268.2 344.2h0M279.1 358.2h0M289.3 374.6h0M268.3 365.2h0M285.0 370.3h0M273.7 371.7h0M283.2 375.6h0M259.4 363.4h0M280.1 368.7h0M289.2 345.0h0M277.4 385.5h0M267.2 383.9h0M267.9 344.8h0M271.8 351.1h0M273.0 369.4h0M258.4 358.4h0M262.3 343.0h0M281.3 378.3h0M265.4 343.6h0M277.5 369.5h0M273.5 343.8h0M272.8 381.7h0M282.7 347.4h0M278.0 382.5h0M281.1 346.4h0M265.3 345.9h0M275.5 344.4h0M275.3 356.3h0M261.4 343.2h0M271.4 382.3h0M269.2 360.9h0M263.3 354.3h0M284.5 347.3h0M278.9 377.7h0M280.0 382.5h0M287.6 356.9h0M280.5 383.3h0M281.9 354.8h0M270.8 344.0h0M289.4 346.8h0M276.0 353.5h0M265.7 367.4h0M266.8 356.3h0M261.6 370.5h0M257.2 385.2h0M279.2 379.0h0M266.6 344.2h0M262.6 349.1h0M262.0 364.3h0M264.0 348.6h0M286.8 364.0h0M256.5 370.9h0M259.8 354.2h0M262.5 347.3h0M271.7 351.5h0M277.1 361.0h0M270.9 371.9h0M269.7 349.9h0M256.6 366.6h0M279.2 361.3h0M275.9 357.2h0M257.6 380.5h0M257.9 354.6h0M285.2 381.7h0M265.9 366.1h0M265.2 346.9h0M282.0 378.9h0M274.1 357.9h0M260.0 364.4h0M286.5 365.8h0M268.0 357.3h0M276.1 369.8h0M278.3 361.4h0M279.2 375.8h0M264.0 372.3h0M283.5 368.1h0M273.7 359.3h0M288.5 377.8h0M267.6 378.1h0M269.8 355.6h0M280.1 354.7h0M289.5 351.3h0M256.8 369.5h0M266.3 357.7h0M256.3 361.5h0M268.5 382.1h0M288.1 382.3h0M257.1 351.3h0M268.2 362.9h0M272.7 344.8h0M271.6 343.3h0M259.3 363.0h0M275.6 353.6h0M264.5 367.9h0M261.9 380.4h0M280.6 384.3h0M271.4 378.5h0M258.1 360.0h0M262.9 383.0h0M270.3 359.1h0M256.9 344.1h0M278.9 366.6h0M286.2 360.8h0M286.8 378.1h0M287.9 357.8h0M270.5 368.3h0M283.7 373.7h0M273.0 382.3h0M267.9 346.0h0M261.7 342.1h0M274.2 360.5h0M275.0 343.6h0M275.1 350.2h0M287.6 351.4h0M279.2 346.4h0M273.8 357.7h0M282.8 343.0h0M270.8 384.8h0M274.2 380.5h0M266.7 373.7h0M264.3 348.5h0M256.9 372.4h0M272.0 347.7h0M269.2 353.9h0M264.7 376.3h0M275.5 343.3h0M262.6 353.3h0M279.9 385.5h0M271.4 358.1h0M267.2 368.7h0M271.2 357.3h0M287.4 364.9h0M277.9 348.1h0M260.4 382.2h0M258.5 365.2h0M258.5 364.6h0M260.3 355.6h0M272.7 377.9h0M264.9 366.4h0M275.3 352.4h0M279.7 351.8h0M260.8 358.8h0M282.5 369.9h0M272.1 359.0h0M257.2 376.1h0M278.5 355.9h0M273.4 374.0h0M267.6 365.6h0M264.0 346.7h0M268.1 352.1h0M268.9 361.0h0M262.1 365.8h0M257.4 362.2h0M260.1 369.7h0M266.0 362.4h0M270.7 359.2h0M265.7 370.8h0M268.2 351.7h0M279.2 343.8h0M277.1 358.1h0M290.2 359.3h0M263.7 359.4h0M281.8 356.2h0M274.6 365.5h0M276.0 358.5h0M263.1 383.3h0M260.7 370.2h0M264.6 373.2h0M287.5 368.3h0M280.4 343.5h0M257.7 383.9h0M275.4 348.9h0M257.2 380.2h0M275.5 356.4h0M277.3 381.8h0M273.6 349.9h0M261.7 365.5h0M278.6 364.3h0M266.5 347.3h0M275.3 372.7h0M260.3 376.0h0M268.8 372.5h0M278.7 352.6h0M283.4 347.9h0M264.9 383.1h0M263.4 346.0h0M290.7 364.4h0M256.5 342.4h0M276.0 351.4h0M284.0 355.5h0M257.6 349.3h0M279.2 357.9h0M283.6 342.2h0M266.3 380.2h0M283.6 354.4h0M265.0 361.3h0M281.5 373.8h0M258.0 370.4h0M272.4 372.1h0M276.6 369.5h0M281.0 364.7h0M282.8 349.1h0M262.8 371.4h0M273.6 351.0h0M280.2 369.3h0M279.9 355.9h0M257.4 383.3h0M291.0 343.4h0M264.3 385.2h0M285.9 350.1h0M270.8 346.3h0M283.0 356.9h0M259.9 375.4h0M256.7 351.9h0M265.4 367.5h0M272.6 354.6h0M258.8 365.4h0M258.1 349.3h0M265.4 354.0h0M290.7 348.4h0M273.7 360.9h0M286.3 348.8h0M283.8 384.1h0M277.8 382.4h0M261.6 349.0h0M277.4 351.3h0M290.2 354.3h0M259.9 357.0h0M264.2 362.5h0M289.2 371.4h0M273.3 356.8h0M258.2 372.2h0M280.2 380.1h0M267.9 369.7h0M289.0 355.5h0M266.2 344.4h0M284.6 372.7h0M289.8 359.0h0M262.4 358.9h0M257.2 373.7h0M257.8 382.7h0M290.5 358.8h0M256.5 363.6h0M282.7 351.1h0M283.1 382.2h0M257.0 360.8h0M260.1 348.8h0M279.5 364.9h0M276.3 369.6h0M270.5 344.2h0M260.7 355.5h0M268.0 356.4h0M257.0 343.7h0M280.3 373.2h0M265.7 377.1h0M266.0 364.8h0M256.3 375.1h0M271.2 379.9h0M271.2 376.3h0M265.9 375.7h0M288.2 353.1h0M282.9 364.6h0M265.5 357.1h0M268.9 369.7h0M275.1 362.6h0M268.8 385.4h0M271.4 361.6h0M287.5 349.0h0M269.9 365.6h0M261.7 363.1h0M270.4 371.4h0M261.8 356.7h0M273.1 349.4h0M280.0 345.3h0M256.3 361.6h0M281.7 351.9h0M278.9 380.8h0M268.7 380.1h0M289.0 384.6h0M287.6 385.2h0M287.6 367.2h0M270.0 369.3h0M286.1 346.0h0M269.9 374.9h0M287.8 353.0h0M277.2 371.9h0M280.3 371.4h0M275.6 369.3h0M269.0 378.1h0M289.7 361.6h0M261.1 342.0h0M278.4 365.1h0M270.9 342.0h0M268.3 358.9h0M258.7 367.7h0M286.1 364.9h0M269.3 365.4h0M267.9 358.5h0M258.2 384.5h0M271.3 379.8h0M261.2 376.1h0M288.3 363.3h0M261.2 369.1h0M280.2 351.7h0M258.0 347.2h0M276.1 384.8h0M279.4 372.3h0M268.9 355.0h0M289.6 378.4h0M263.4 384.4h0M284.0 361.9h0M264.2 384.6h0M266.9 373.8h0M277.4 365.0h0M290.0 362.6h0M274.3 383.0h0M263.7 372.9h0M281.5 383.1h0M261.7 374.8h0M266.4 373.5h0M271.4 355.7h0M275.3 351.5h0"/>
<path class="pr" d="M307.2 305.3h0M292.5 333.6h0M298.8 323.2h0M306.1 313.5h0M282.4 315.9h0M284.0 339.9h0M277.1 322.8h0M279.2 309.7h0M288.6 328.2h0M301.9 309.5h0M279.3 321.6h0M257.8 319.1h0M306.4 314.7h0M258.0 324.5h0M281.9 337.0h0M307.3 319.0h0M307.5 310.4h0M305.4 321.0h0M314.8 309.1h0M307.4 302.8h0M265.6 338.6h0M296.7 309.2h0M280.7 317.2h0M301.8 314.6h0M283.3 335.5h0M291.8 307.7h0M297.5 306.4h0M281.4 337.6h0M291.2 319.9h0M297.9 329.9h0M269.1 329.4h0M279.0 323.5h0M281.0 314.3h0M292.7 330.0h0M288.3 314.4h0M286.0 323.0h0M278.3 335.6h0M291.4 337.8h0M279.8 327.5h0M257.4 331.8h0M279.7 310.5h0M290.0 322.9h0M280.4 331.5h0M305.8 317.3h0M306.4 304.3h0M293.3 334.8h0M295.9 311.9h0M267.4 322.7h0M302.2 311.7h0M271.0 335.9h0M290.7 318.6h0M277.5 310.4h0M275.2 341.2h0M296.5 325.2h0M283.7 310.8h0M293.1 326.4h0M302.6 314.2h0M280.7 335.7h0M268.9 334.1h0M283.2 323.9h0M298.4 320.5h0M295.3 327.3h0M280.6 330.1h0M266.4 339.9h0M295.1 335.1h0M280.7 313.4h0M298.5 313.1h0M282.0 340.6h0M261.4 333.9h0M282.9 331.7h0M283.5 314.3h0M311.6 299.3h0M270.6 314.5h0M285.7 338.6h0M266.6 338.8h0M303.9 302.0h0M283.8 333.7h0M283.5 307.4h0M289.7 314.8h0M298.2 311.2h0M307.7 319.7h0M277.4 332.9h0M302.2 314.8h0M312.5 305.4h0M284.7 335.4h0M274.5 319.3h0M260.7 329.8h0M289.8 329.5h0M303.8 308.1h0M311.8 307.8h0M281.1 331.4h0M282.7 330.9h0M312.9 302.5h0M268.0 312.1h0M274.4 332.6h0M283.2 320.1h0M298.4 312.1h0M319.6 300.2h0M257.9 324.4h0M302.5 323.6h0M279.2 321.8h0M310.7 314.7h0M307.0 310.7h0M259.6 332.8h0M292.3 324.3h0M308.0 315.2h0M281.9 312.9h0M275.6 333.7h0M298.5 309.3h0M312.5 302.2h0M314.8 310.1h0M273.7 335.8h0M291.4 326.8h0M262.4 316.4h0M302.9 319.7h0M283.5 331.3h0M280.4 336.6h0M291.2 318.5h0M278.0 325.8h0M262.0 320.8h0M295.1 334.8h0M270.7 321.0h0M303.9 305.5h0M263.6 318.7h0M300.0 318.7h0M282.0 326.9h0M281.7 337.0h0M264.7 321.3h0M284.0 339.4h0M261.7 321.8h0M282.3 326.3h0M256.5 333.7h0M294.8 313.7h0M272.5 330.3h0M280.6 318.6h0M304.7 317.8h0M265.8 321.5h0M320.0 303.0h0M281.6 309.8h0M295.3 326.6h0M307.7 311.0h0M282.5 333.7h0"/>
<path class="pb" d="M305.5 335.8h0M309.8 329.8h0M316.7 347.5h0M291.5 358.8h0M318.9 317.8h0M297.1 338.9h0M301.8 339.5h0M293.0 360.4h0M300.5 339.4h0M311.2 347.9h0M310.7 352.8h0M308.2 365.8h0M319.8 346.1h0M309.3 345.7h0M302.1 329.2h0M307.1 371.0h0M299.6 350.9h0M302.5 350.6h0M308.8 338.4h0M294.5 340.9h0M302.9 330.1h0M322.3 349.8h0M296.6 351.7h0M297.5 336.8h0M294.3 369.0h0M298.8 351.5h0M297.3 378.0h0M294.7 337.4h0M330.1 343.4h0M321.2 312.6h0M313.0 353.6h0M298.9 350.7h0M313.1 315.2h0M303.2 361.0h0M296.4 362.0h0M308.3 338.3h0M320.8 335.5h0M296.7 347.8h0M296.0 353.5h0M291.6 342.1h0M294.9 352.1h0M305.5 331.1h0M294.1 352.9h0M313.3 330.7h0"/>
<path class="dg" d="M256.2 385.5L341.2 277.7"/>
<path class="gr" d="M291.1 385.5V341.3M256.2 341.3H291.1"/>
<rect class="lg" x="259.3" y="281.1" width="46.4" height="12.3"/>
<circle cx="267.2" cy="284.1" r="1.2" fill="#f00"/>
<circle cx="267.2" cy="290.0" r="1.2" fill="#00f"/>
<text class="lt" x="274.9" y="285.6" textLength="29.0" lengthAdjust="spacingAndGlyphs">The Mixed Model</text>
<text class="lt" x="274.9" y="291.2" textLength="16.0" lengthAdjust="spacingAndGlyphs" font-style="italic">ResNet50</text>
<text class="yl" x="255.0" y="387.8">0</text>
<text class="yl" x="255.0" y="377.0">0.1</text>
<text class="yl" x="255.0" y="366.2">0.2</text>
<text class="yl" x="255.0" y="355.5">0.3</text>
<text class="yl" x="255.0" y="344.7">0.4</text>
<text class="yl" x="255.0" y="333.9">0.5</text>
<text class="yl" x="255.0" y="323.1">0.6</text>
<text class="yl" x="255.0" y="312.3">0.7</text>
<text class="yl" x="255.0" y="301.6">0.8</text>
<text class="yl" x="255.0" y="290.8">0.9</text>
<text class="yl" x="255.0" y="280.0">1</text>
<text class="xl" x="256.2" y="391.7">0</text>
<text class="xl" x="273.2" y="391.7">0.2</text>
<text class="xl" x="290.2" y="391.7">0.4</text>
<text class="xl" x="307.2" y="391.7">0.6</text>
<text class="xl" x="324.2" y="391.7">0.8</text>
<text class="xl" x="341.2" y="391.7">1</text>
<text class="al" x="298.7" y="396.8">PCC</text>
<text class="al" transform="translate(245.7 331.6) rotate(-90)">PCC</text>
</g>
<g>
<text class="tt tv" x="409.9" y="275.7">V4</text>
<rect class="ax" x="367.80" y="277.70" width="84.20" height="107.80"/>
<path class="tk" d="M367.8 374.7h0.9M452.0 374.7h-0.9M367.8 363.9h0.9M452.0 363.9h-0.9M367.8 353.2h0.9M452.0 353.2h-0.9M367.8 342.4h0.9M452.0 342.4h-0.9M367.8 331.6h0.9M452.0 331.6h-0.9M367.8 320.8h0.9M452.0 320.8h-0.9M367.8 310.0h0.9M452.0 310.0h-0.9M367.8 299.3h0.9M452.0 299.3h-0.9M367.8 288.5h0.9M452.0 288.5h-0.9M384.6 385.5v-0.9M384.6 277.7v0.9M401.5 385.5v-0.9M401.5 277.7v0.9M418.3 385.5v-0.9M418.3 277.7v0.9M435.2 385.5v-0.9M435.2 277.7v0.9"/>
<path class="pk" d="M391.2 383.9h0M387.9 365.8h0M388.3 342.1h0M378.4 348.6h0M398.8 352.8h0M377.7 345.3h0M384.1 355.7h0M377.5 342.3h0M377.6 363.2h0M390.6 361.9h0M384.3 381.7h0M379.7 344.9h0M387.1 377.2h0M386.9 374.1h0M399.1 370.3h0M382.5 358.9h0M371.6 380.1h0M398.6 343.4h0M395.3 343.2h0M370.2 353.2h0M401.7 357.4h0M383.6 350.2h0M385.8 348.2h0M376.2 370.9h0M378.3 374.9h0M369.5 361.3h0M388.1 348.3h0M398.6 352.4h0M399.4 363.2h0M378.0 376.4h0M385.0 360.8h0M384.9 348.6h0M401.1 380.6h0M389.0 365.4h0M379.4 368.5h0M375.3 366.0h0M393.3 348.5h0M392.1 344.4h0M391.4 349.6h0M369.4 363.6h0M383.3 352.9h0M373.4 348.0h0M372.9 375.2h0M373.5 357.1h0M398.2 365.6h0M370.3 356.2h0M374.3 367.1h0M380.8 353.5h0M389.4 353.5h0M373.2 381.4h0M369.8 379.4h0M395.3 361.1h0M387.2 360.4h0M395.9 344.8h0M378.9 369.7h0M391.8 369.6h0M385.5 383.0h0M398.2 343.9h0M388.2 343.7h0M372.3 378.5h0M378.7 378.4h0M379.3 375.7h0M396.6 352.7h0M392.1 359.8h0M382.0 355.4h0M396.3 363.6h0M395.0 375.2h0M396.1 345.0h0M390.1 360.7h0M387.9 367.8h0M372.5 378.6h0M383.0 342.6h0M401.8 382.9h0M384.8 374.7h0M396.9 345.2h0M368.3 359.7h0M374.1 354.9h0M384.8 349.1h0M382.4 373.4h0M383.2 364.3h0M398.7 355.6h0M370.6 355.4h0M369.4 353.3h0M377.2 363.0h0M381.5 381.7h0M387.1 344.6h0M381.2 366.9h0M381.9 376.5h0M388.6 368.7h0M380.1 352.1h0M389.0 353.7h0M371.4 366.3h0M395.1 363.7h0M369.7 352.3h0M396.3 378.4h0M387.1 366.1h0M375.2 376.5h0M391.9 370.6h0M402.0 376.5h0M390.2 362.0h0M375.5 354.5h0M378.2 384.5h0M378.4 384.8h0M373.4 384.9h0M383.0 364.9h0M368.6 378.3h0M372.7 379.5h0M394.7 368.4h0M385.3 383.3h0M377.2 381.0h0M395.6 361.4h0M389.7 377.9h0M381.8 370.9h0M394.7 372.9h0M372.1 370.1h0M371.2 365.7h0M368.9 351.3h0M387.9 369.6h0M370.1 354.4h0M401.1 374.2h0M388.5 351.7h0M399.8 370.5h0M375.0 369.2h0M372.1 373.9h0M383.3 357.4h0M374.8 357.1h0M383.0 351.5h0M397.9 375.1h0M374.6 369.5h0M369.8 361.5h0M382.8 377.3h0M400.9 342.7h0M374.6 382.5h0M379.5 378.8h0M383.4 351.1h0M401.8 342.4h0M380.5 376.0h0M387.0 358.1h0M374.7 357.5h0M375.3 347.3h0M391.9 368.1h0M380.1 367.4h0M390.0 372.0h0M391.4 355.3h0M391.7 349.5h0M395.2 367.5h0M394.4 361.9h0M381.2 343.2h0M380.9 376.5h0M390.0 357.2h0M400.9 342.0h0M376.2 378.5h0M392.5 350.1h0M393.7 370.3h0M385.0 348.6h0M368.3 354.7h0M397.2 374.3h0M392.7 375.9h0M375.6 368.2h0M396.7 369.6h0M386.7 349.3h0M400.3 342.9h0M376.0 349.6h0M390.7 341.4h0M374.0 365.3h0M379.8 351.5h0M399.6 347.8h0M377.4 366.7h0M373.1 384.6h0M397.0 363.6h0M376.7 364.0h0M400.0 363.2h0M391.9 354.5h0M379.5 352.5h0M391.9 364.6h0M394.6 344.0h0M378.0 343.0h0M372.1 360.6h0M390.6 374.2h0M393.6 354.3h0M374.7 360.6h0M400.0 352.6h0M375.7 342.4h0M378.0 342.1h0M394.8 351.8h0M377.0 357.3h0M401.7 348.3h0M383.5 375.4h0M387.9 381.0h0M388.6 382.6h0M378.2 369.7h0M388.4 359.6h0M398.9 353.6h0M368.0 343.1h0M398.6 351.3h0M388.5 364.0h0M372.5 363.0h0M371.7 353.0h0M389.1 355.6h0M368.5 359.0h0M381.4 364.1h0M385.2 349.8h0M374.9 350.0h0M383.1 370.6h0M381.3 361.1h0M374.5 370.2h0M392.1 371.8h0M377.1 374.8h0M396.3 362.4h0M367.8 352.1h0M374.0 378.1h0M384.2 356.5h0M387.6 372.5h0M370.5 383.6h0M385.5 350.4h0M392.3 361.4h0M376.5 380.9h0M395.0 342.6h0M399.6 345.8h0M388.0 362.9h0M397.4 344.7h0M372.4 381.2h0M397.0 381.5h0M380.2 347.8h0M377.7 362.2h0M381.0 357.0h0M392.3 380.0h0M390.3 357.4h0M395.5 348.3h0M378.1 354.5h0M386.9 352.2h0M372.1 349.9h0M369.8 358.8h0M398.3 380.0h0M396.6 343.6h0M373.1 353.0h0M378.3 369.2h0M388.1 364.0h0M399.9 383.8h0M372.3 384.9h0M370.1 349.2h0M377.0 359.3h0M394.8 365.7h0M375.2 344.9h0M379.6 352.4h0M376.5 341.4h0M390.8 376.6h0M379.7 374.0h0M391.5 347.8h0M377.9 360.9h0M385.5 351.2h0M390.3 384.1h0M399.4 342.2h0M385.9 348.5h0M380.3 377.6h0M373.0 366.6h0M375.7 378.8h0M392.5 373.1h0M377.2 383.1h0M382.4 384.4h0M399.2 351.6h0M391.7 350.2h0M392.4 381.2h0M387.3 354.4h0M395.5 341.4h0M394.4 368.8h0M393.5 365.8h0M401.7 359.8h0M385.0 354.8h0M374.7 358.9h0M401.5 354.3h0M373.7 341.5h0M399.4 373.3h0M374.5 367.4h0M384.8 344.3h0M387.2 352.1h0M392.5 357.2h0M384.0 357.6h0M377.1 372.5h0M396.6 361.7h0M368.7 350.1h0M394.4 365.0h0M382.8 371.1h0M394.0 350.4h0M399.2 350.6h0M393.3 341.7h0M377.3 355.8h0M379.0 361.4h0M371.8 384.1h0M383.8 357.9h0M391.9 366.7h0M389.9 365.4h0M392.4 350.7h0M383.2 344.6h0M394.3 358.4h0M374.6 341.9h0M379.3 346.2h0M372.1 379.5h0M394.9 359.3h0M377.6 358.1h0M382.6 374.2h0M374.3 371.6h0M391.0 354.4h0M378.0 369.2h0M379.0 362.5h0M388.3 354.2h0M376.8 358.6h0M379.4 343.0h0M371.2 365.5h0M375.9 371.8h0M379.2 365.0h0M386.5 368.9h0M400.4 358.0h0M379.9 368.2h0M375.1 370.2h0M393.6 356.6h0M371.6 370.0h0M390.8 372.7h0M388.3 362.4h0M386.7 378.4h0M372.7 374.1h0M374.3 350.5h0M369.3 380.7h0M376.0 372.8h0M381.3 373.0h0M391.2 383.3h0M381.1 357.3h0M389.9 380.4h0M377.9 342.4h0M381.0 353.9h0M396.8 372.2h0M399.1 380.8h0M382.7 371.6h0M381.2 376.5h0M389.6 385.2h0M372.9 373.9h0M389.2 355.4h0M369.9 357.7h0M396.3 346.8h0M393.0 370.3h0M391.5 348.9h0M397.2 356.6h0M375.8 384.9h0M379.3 374.4h0M398.9 357.4h0M380.2 385.1h0"/>
<path class="pr" d="M384.3 321.2h0M393.7 340.9h0M417.6 321.8h0M400.3 341.0h0M392.2 333.1h0M392.2 326.0h0M418.4 303.2h0M387.8 339.8h0M413.7 318.7h0M380.5 333.4h0M408.5 330.0h0M369.9 336.7h0M422.4 302.7h0M403.2 335.6h0M391.9 336.5h0M385.6 311.6h0M379.6 337.3h0M397.3 338.2h0M393.9 331.4h0M417.9 313.4h0M379.2 333.0h0M389.3 339.0h0M392.7 338.3h0M391.7 334.8h0M410.1 314.3h0M405.3 335.7h0M427.6 302.8h0M430.0 301.4h0M393.9 336.5h0M387.2 335.0h0M420.8 314.9h0M380.5 340.4h0M385.5 333.7h0M401.3 333.8h0M397.5 340.6h0M403.6 331.5h0M396.8 338.1h0M402.3 335.9h0M403.8 311.1h0M395.9 337.5h0M411.4 323.8h0M390.0 335.4h0M399.2 333.4h0M394.9 338.8h0M398.6 331.9h0M406.4 310.8h0M406.6 321.7h0M407.9 334.0h0M398.1 336.5h0M396.1 319.1h0M412.9 324.9h0M406.3 333.2h0M404.3 303.3h0M407.5 321.2h0M406.3 332.1h0M396.2 330.0h0M394.9 334.0h0M392.0 325.4h0M393.9 321.7h0M393.1 334.0h0M414.1 302.1h0M410.5 296.0h0M385.0 336.3h0M422.7 310.5h0M387.4 315.8h0M387.0 338.5h0M422.6 308.0h0M409.9 312.7h0M393.4 339.3h0M407.3 301.5h0M407.9 322.2h0M403.6 335.9h0M383.9 317.5h0M397.6 337.1h0M397.8 323.8h0M391.8 338.3h0M398.3 313.8h0M432.7 301.6h0M385.7 328.2h0M408.0 329.5h0M395.7 334.4h0M392.9 326.3h0M395.6 329.5h0M404.8 311.7h0M418.6 311.9h0"/>
<path class="pb" d="M411.1 336.6h0M424.4 316.7h0M409.6 345.6h0M408.3 342.5h0M434.6 344.7h0M415.3 336.4h0M404.8 352.1h0M406.1 337.0h0M406.3 363.6h0M409.2 373.5h0M411.8 329.8h0M403.9 385.4h0M411.4 341.5h0M409.4 352.6h0M416.9 333.0h0M432.9 306.9h0M413.8 326.7h0M425.4 337.6h0M415.4 344.8h0M406.2 357.9h0M404.6 346.8h0M420.8 328.5h0M417.9 325.5h0M404.6 347.3h0M410.5 332.5h0M409.2 340.3h0M415.8 352.7h0M420.2 319.8h0M417.2 329.5h0M402.8 358.5h0M417.9 327.3h0M404.5 341.1h0M419.3 322.2h0M402.9 351.8h0M432.2 311.9h0M408.9 343.7h0M409.2 370.5h0M417.1 324.0h0M402.6 349.9h0M412.3 333.5h0M421.4 323.1h0M411.0 379.0h0M408.0 357.4h0M413.3 328.8h0M415.2 341.5h0M413.1 384.4h0M405.9 338.6h0M408.8 369.2h0M418.7 350.5h0M420.0 349.5h0M405.6 356.4h0M412.7 355.1h0M415.3 327.8h0M409.8 335.6h0M412.1 329.1h0M419.1 324.4h0M424.7 328.8h0"/>
<path class="dg" d="M367.8 385.5L452.0 277.7"/>
<path class="gr" d="M402.3 385.5V341.3M367.8 341.3H402.3"/>
<rect class="lg" x="370.9" y="281.1" width="46.4" height="12.3"/>
<circle cx="378.8" cy="284.1" r="1.2" fill="#f00"/>
<circle cx="378.8" cy="290.0" r="1.2" fill="#00f"/>
<text class="lt" x="386.5" y="285.6" textLength="29.0" lengthAdjust="spacingAndGlyphs">The Mixed Model</text>
<text class="lt" x="386.5" y="291.2" textLength="16.0" lengthAdjust="spacingAndGlyphs" font-style="italic">ResNet50</text>
<text class="yl" x="366.6" y="387.8">0</text>
<text class="yl" x="366.6" y="377.0">0.1</text>
<text class="yl" x="366.6" y="366.2">0.2</text>
<text class="yl" x="366.6" y="355.5">0.3</text>
<text class="yl" x="366.6" y="344.7">0.4</text>
<text class="yl" x="366.6" y="333.9">0.5</text>
<text class="yl" x="366.6" y="323.1">0.6</text>
<text class="yl" x="366.6" y="312.3">0.7</text>
<text class="yl" x="366.6" y="301.6">0.8</text>
<text class="yl" x="366.6" y="290.8">0.9</text>
<text class="yl" x="366.6" y="280.0">1</text>
<text class="xl" x="367.8" y="391.7">0</text>
<text class="xl" x="384.6" y="391.7">0.2</text>
<text class="xl" x="401.5" y="391.7">0.4</text>
<text class="xl" x="418.3" y="391.7">0.6</text>
<text class="xl" x="435.2" y="391.7">0.8</text>
<text class="xl" x="452.0" y="391.7">1</text>
<text class="al" x="409.9" y="396.8">PCC</text>
<text class="al" transform="translate(357.3 331.6) rotate(-90)">PCC</text>
</g>
<g>
<text class="tt" x="76.5" y="425.1">LOC</text>
<rect class="ax" x="34.30" y="427.10" width="84.50" height="107.20"/>
<path class="tk" d="M34.3 523.6h0.9M118.8 523.6h-0.9M34.3 512.9h0.9M118.8 512.9h-0.9M34.3 502.1h0.9M118.8 502.1h-0.9M34.3 491.4h0.9M118.8 491.4h-0.9M34.3 480.7h0.9M118.8 480.7h-0.9M34.3 470.0h0.9M118.8 470.0h-0.9M34.3 459.3h0.9M118.8 459.3h-0.9M34.3 448.5h0.9M118.8 448.5h-0.9M34.3 437.8h0.9M118.8 437.8h-0.9M51.2 534.3v-0.9M51.2 427.1v0.9M68.1 534.3v-0.9M68.1 427.1v0.9M85.0 534.3v-0.9M85.0 427.1v0.9M101.9 534.3v-0.9M101.9 427.1v0.9"/>
<path class="pk" d="M35.5 513.3h0M59.0 506.5h0M51.4 508.2h0M57.5 527.5h0M68.3 497.0h0M38.3 518.9h0M38.0 507.4h0M60.2 507.3h0M48.1 517.1h0M59.3 527.8h0M56.6 519.4h0M50.7 515.3h0M36.1 519.0h0M40.5 493.9h0M67.7 528.8h0M51.3 490.8h0M56.1 516.6h0M50.3 490.9h0M47.0 509.0h0M36.6 513.0h0M38.9 531.9h0M41.5 497.3h0M53.9 505.6h0M53.4 503.7h0M40.1 510.7h0M47.9 501.7h0M36.9 491.9h0M61.5 524.2h0M52.4 521.9h0M48.1 519.8h0M43.0 510.9h0M54.0 520.2h0M50.5 511.2h0M36.6 521.4h0M34.5 528.4h0M65.5 513.1h0M41.9 526.4h0M42.6 495.0h0M43.8 507.0h0M54.3 527.1h0M43.9 508.0h0M42.4 518.1h0M40.1 505.6h0M59.3 514.6h0M39.4 524.5h0M66.2 497.3h0M52.9 495.8h0M62.5 530.6h0M43.5 513.5h0M57.1 529.2h0M36.7 518.2h0M65.9 508.6h0M58.7 509.6h0M42.9 520.8h0M37.3 520.0h0M59.3 500.6h0M56.0 501.3h0M47.9 506.9h0M41.6 533.4h0M51.6 496.1h0M50.2 498.2h0M51.6 490.9h0M67.4 504.1h0M40.5 492.5h0M61.1 496.8h0M39.9 498.3h0M51.1 520.7h0M34.6 509.0h0M68.5 497.5h0M38.7 530.4h0M48.3 510.8h0M41.1 511.7h0M63.8 507.6h0M50.9 522.7h0M50.2 521.5h0M63.4 518.3h0M47.1 507.3h0M60.6 526.5h0M51.4 513.6h0M50.2 521.4h0M36.5 521.1h0M47.6 507.8h0M57.3 505.7h0M68.1 509.5h0M53.2 522.8h0M66.4 513.3h0M35.7 504.7h0M39.0 491.0h0M42.6 525.0h0M46.2 499.0h0M39.1 504.2h0M61.5 492.7h0M55.7 528.7h0M66.2 500.7h0M40.3 524.0h0M35.9 512.9h0M56.9 507.8h0M57.5 527.0h0M47.2 495.5h0M38.2 517.8h0M36.7 530.2h0M38.3 508.2h0M47.5 527.5h0M45.2 511.2h0M38.3 500.8h0M35.2 522.6h0M42.8 523.1h0M54.7 511.6h0M60.1 498.0h0M68.2 520.0h0M40.9 529.8h0M58.9 492.7h0M61.3 503.2h0M35.1 510.7h0M39.8 507.0h0M37.7 528.8h0M43.3 519.2h0M54.3 496.1h0M51.9 507.9h0M62.1 490.5h0M63.9 495.9h0M62.8 503.0h0M61.2 502.3h0M55.2 494.1h0M60.6 515.8h0M48.8 527.7h0M45.1 525.2h0M52.6 490.5h0M50.5 512.6h0M68.6 502.1h0M44.6 520.2h0M64.7 509.8h0M54.7 495.3h0M37.6 510.9h0M47.6 493.2h0M67.1 522.4h0M46.9 516.4h0M44.3 518.7h0M44.1 520.7h0M37.8 498.7h0M58.4 514.2h0M44.2 511.8h0M57.9 519.9h0M50.4 490.9h0M55.4 504.9h0M35.6 521.1h0M51.9 518.6h0M63.9 511.5h0M57.3 522.5h0M59.3 523.0h0M52.9 504.8h0M60.1 504.5h0M47.4 528.8h0M46.3 492.7h0M65.3 492.1h0M47.7 498.4h0M45.8 500.6h0M54.5 516.3h0M59.0 508.0h0M46.5 528.3h0M42.6 522.7h0M63.0 517.8h0M59.5 512.1h0M46.3 529.0h0M51.6 526.6h0M62.0 491.7h0M45.9 492.5h0M66.0 522.3h0M37.4 521.7h0M36.0 520.0h0M49.3 533.9h0M63.9 508.5h0M38.6 500.1h0M61.3 517.3h0M55.1 502.1h0M56.5 516.2h0M36.5 513.6h0M43.7 512.3h0M44.4 502.6h0M36.9 495.3h0M58.0 514.6h0M50.6 530.0h0M54.8 533.8h0M68.0 506.9h0M41.3 519.4h0M38.5 514.0h0M36.5 517.6h0M41.2 530.5h0M49.8 523.8h0M38.3 509.7h0M49.9 511.7h0M38.1 514.9h0M52.6 511.1h0M50.4 496.6h0M45.0 526.5h0M34.7 533.1h0M53.3 494.1h0M43.7 511.9h0M51.5 508.8h0M37.9 531.7h0M50.9 501.6h0M51.3 506.3h0M50.7 496.4h0M43.7 515.9h0M42.3 512.0h0M40.3 497.4h0M51.6 517.7h0M39.6 502.8h0M55.8 503.1h0M40.9 517.3h0M37.4 499.6h0M66.6 511.4h0M57.9 507.3h0M50.0 533.1h0M50.4 498.2h0M40.6 501.9h0M37.7 508.1h0M38.8 523.2h0M40.0 511.9h0M57.6 501.5h0M39.1 500.6h0M43.8 503.8h0M46.9 531.7h0M46.7 530.3h0M66.1 533.7h0M40.8 527.3h0M56.0 528.8h0M35.0 493.6h0M49.2 502.4h0M56.3 517.3h0M39.1 519.9h0M49.0 502.2h0M36.8 501.1h0M47.5 513.9h0M57.8 507.9h0M38.5 492.9h0M38.5 527.7h0M42.0 507.7h0M46.5 527.5h0M34.9 525.7h0M62.5 491.4h0M55.8 496.5h0M46.3 501.7h0M47.8 513.6h0M43.9 521.1h0M52.2 494.4h0M50.8 491.6h0M61.4 494.3h0M60.7 501.3h0M43.4 531.0h0M45.5 505.3h0M52.4 511.7h0M68.9 499.3h0M50.9 530.7h0M37.6 524.7h0M43.7 510.8h0M48.2 509.4h0M51.3 502.2h0M52.6 525.3h0M47.2 493.8h0M47.6 508.7h0M62.2 505.4h0M54.8 523.8h0M36.2 510.3h0M49.2 512.9h0M40.1 516.2h0M46.7 522.1h0M61.2 529.7h0M53.5 495.9h0M57.6 495.6h0M55.4 505.1h0M52.0 520.3h0M40.3 503.2h0M35.4 507.5h0M57.3 528.4h0M51.2 494.2h0M37.6 523.2h0M50.2 515.4h0M66.3 492.3h0M58.1 521.3h0M34.3 523.2h0M42.1 515.7h0M46.7 516.2h0M40.8 533.8h0M65.2 496.8h0M44.8 526.9h0M59.5 512.9h0M37.9 509.5h0M64.5 509.9h0M50.3 493.1h0M51.3 493.9h0M46.8 507.7h0M49.0 526.8h0M34.3 529.8h0M60.7 496.0h0M43.6 514.6h0M53.1 509.9h0M55.4 529.3h0M58.3 495.6h0M61.3 514.7h0M44.4 518.6h0M61.0 491.9h0M68.6 518.8h0M53.6 501.7h0M46.4 517.4h0M47.0 494.1h0M59.5 529.1h0M42.2 502.7h0M53.1 510.7h0M44.4 512.0h0M51.8 490.6h0M54.1 499.3h0M43.6 517.0h0M54.7 507.4h0M35.3 513.7h0M40.5 533.0h0M48.8 519.3h0M51.1 497.1h0M62.4 513.6h0M36.8 503.3h0M66.4 503.2h0M50.5 504.4h0M47.8 511.0h0M53.5 491.1h0M57.4 497.9h0M56.1 531.7h0M54.5 494.0h0M42.9 496.3h0M52.5 493.2h0M54.4 525.1h0M68.5 493.1h0M50.5 528.5h0M53.0 521.4h0M55.3 528.8h0M39.9 499.9h0M66.7 515.4h0M50.6 520.0h0M42.9 531.3h0M38.4 495.6h0M64.9 507.3h0M53.2 508.2h0M61.4 518.5h0M57.0 513.3h0M38.8 532.6h0M50.5 525.9h0M39.2 507.1h0M67.8 495.7h0M48.6 498.1h0M65.4 514.4h0M40.1 507.1h0M47.2 520.0h0M41.2 526.0h0M60.2 508.4h0M47.5 493.8h0M59.4 520.2h0M52.3 532.4h0M52.9 508.9h0M45.3 507.0h0M61.0 499.7h0M57.8 508.1h0M45.6 499.1h0M40.2 510.0h0M64.6 497.2h0M49.4 508.3h0M60.3 493.7h0M65.0 523.3h0M62.3 521.0h0M45.3 513.9h0M34.9 496.3h0M67.2 532.2h0M59.2 520.1h0M43.9 530.7h0M41.7 521.5h0M55.1 522.6h0M42.5 526.0h0M66.1 510.2h0M51.6 506.6h0M46.0 531.0h0M65.7 523.7h0M54.8 516.1h0M46.1 494.9h0M42.0 491.3h0M57.1 499.0h0M60.9 507.5h0M36.3 491.4h0M38.6 533.5h0M55.5 505.8h0M38.9 524.8h0M39.2 525.3h0M46.2 524.0h0M53.7 501.2h0M43.2 508.8h0M57.9 517.1h0M47.3 504.4h0M60.5 510.6h0M58.3 499.3h0M34.6 495.7h0M35.2 520.4h0M65.4 497.7h0M56.4 510.9h0M64.9 495.3h0M35.5 533.1h0M50.0 502.1h0M38.7 512.7h0M67.8 495.1h0M44.2 532.5h0M47.1 492.5h0M59.8 504.7h0M46.1 533.8h0M55.9 525.7h0M38.1 502.5h0M38.2 527.4h0M65.0 501.5h0M68.3 530.6h0M49.9 519.0h0M67.7 508.7h0M67.8 502.6h0M67.2 528.3h0M62.8 521.7h0M37.2 504.9h0M56.9 532.7h0M54.9 517.1h0M42.7 525.2h0M43.1 496.7h0M59.3 510.0h0M48.0 528.9h0M68.5 505.2h0M35.8 522.2h0M54.2 492.0h0M67.6 504.0h0M39.7 507.7h0M47.6 529.8h0M68.7 498.9h0M45.9 509.9h0M68.5 502.8h0M66.4 496.1h0M57.7 498.2h0M62.6 521.4h0M64.8 519.2h0M68.9 497.7h0"/>
<path class="pr" d="M42.8 475.7h0M81.1 468.2h0M45.8 480.9h0M34.7 489.1h0M56.6 485.8h0M75.4 471.6h0M71.5 484.8h0M69.2 472.1h0M66.0 462.4h0M77.3 478.7h0M69.1 481.6h0M69.0 478.2h0M70.5 472.1h0M77.5 462.3h0M54.6 489.3h0M35.8 489.6h0M79.6 463.5h0M75.7 478.0h0M53.3 487.1h0M87.6 461.5h0M63.3 481.4h0M56.4 480.5h0M55.4 488.7h0M64.4 477.8h0M53.4 485.9h0M67.8 471.1h0M70.6 460.2h0M87.5 459.5h0M72.2 466.9h0M86.4 467.7h0M81.1 472.1h0M82.7 472.6h0M57.6 459.4h0M65.7 475.2h0M46.8 486.1h0M92.9 449.4h0M74.9 482.5h0M47.8 474.2h0M92.8 457.8h0M53.4 490.3h0M61.0 487.9h0M80.0 474.4h0M73.9 482.5h0M76.7 452.8h0M54.1 479.0h0M44.0 484.3h0M59.9 487.4h0M56.5 482.7h0M58.0 474.7h0M67.7 471.8h0M84.6 465.1h0M75.0 468.8h0M88.4 461.5h0M76.3 472.8h0M67.2 474.2h0M57.8 485.0h0M56.9 486.9h0M61.9 480.5h0M66.0 487.8h0M75.0 477.4h0M74.1 475.4h0M39.7 480.8h0M71.7 463.4h0M84.1 463.4h0M52.5 476.8h0M64.0 485.5h0M78.7 461.3h0M80.8 473.8h0M71.9 478.4h0M79.6 473.0h0M47.1 480.9h0M70.1 465.7h0M35.0 488.1h0M80.1 461.7h0M63.2 482.0h0M60.6 476.8h0M61.4 466.5h0M86.9 462.6h0M62.6 457.3h0M90.0 463.2h0M78.1 460.7h0M50.7 485.0h0M87.7 449.5h0M76.0 475.2h0M67.6 485.0h0M66.4 483.3h0M60.5 481.3h0M72.9 476.4h0M86.1 464.5h0M85.3 465.8h0M74.6 464.1h0M59.3 483.1h0M90.2 454.6h0M68.2 483.9h0M53.1 462.2h0M71.0 487.3h0M63.6 482.1h0M66.5 471.9h0M65.7 474.7h0M63.9 484.1h0M72.1 471.2h0M48.0 488.9h0M70.8 482.8h0M85.5 465.6h0M66.2 465.0h0M59.4 463.6h0M54.0 473.3h0M51.1 482.8h0M80.1 472.7h0M70.2 455.6h0M50.5 480.8h0M84.7 464.1h0M66.1 469.7h0M64.6 490.3h0M68.9 474.3h0M80.6 454.7h0M80.1 473.0h0M66.0 485.8h0M53.1 470.0h0M70.9 478.7h0M56.2 482.2h0M64.0 483.3h0M57.3 473.5h0M61.5 469.5h0"/>
<path class="pb" d="M77.0 484.1h0M74.4 485.3h0M81.1 475.4h0M81.4 492.0h0M81.0 485.8h0M90.2 472.6h0M86.0 502.0h0M78.7 510.9h0M72.5 497.6h0M74.7 489.8h0M71.7 487.3h0M78.4 487.2h0M75.9 495.2h0M87.2 487.1h0M75.2 503.5h0M77.3 518.3h0M90.3 493.2h0M91.1 473.5h0M80.2 501.1h0M75.4 518.3h0M82.8 479.0h0M91.6 472.5h0M88.2 469.1h0M77.2 496.5h0M80.3 480.7h0M89.9 489.7h0M69.0 493.6h0M84.7 494.5h0M74.0 499.6h0M97.9 493.4h0M76.1 510.1h0M74.9 500.4h0M84.9 474.3h0M90.9 463.0h0M73.2 506.7h0M76.4 525.9h0M70.3 496.7h0M73.4 508.2h0M100.0 468.5h0M88.1 471.6h0M74.6 485.1h0M76.4 490.8h0M75.8 527.8h0M71.9 497.8h0M72.4 498.8h0M77.7 483.7h0M78.7 491.1h0M80.1 494.3h0M74.2 494.4h0M93.9 473.5h0M77.8 498.0h0M73.6 522.8h0M79.3 485.9h0M70.6 492.8h0M89.8 477.1h0M89.0 479.7h0M79.0 480.6h0M72.0 492.1h0M73.1 516.3h0M73.6 485.3h0M74.3 508.0h0M75.4 489.4h0M71.9 488.5h0M70.3 503.3h0M74.8 514.3h0M84.1 489.8h0M80.2 479.8h0M71.6 518.6h0M89.3 467.8h0M75.2 485.6h0M69.0 511.7h0M70.9 500.9h0M83.0 499.2h0M92.4 474.8h0M72.7 517.7h0M69.5 502.1h0M82.4 490.2h0M89.0 482.1h0M74.9 485.3h0M75.5 500.6h0M76.3 507.1h0M82.4 486.6h0M78.9 482.5h0M84.7 487.0h0M75.0 484.3h0M87.6 475.4h0M76.4 483.9h0M86.4 486.5h0M73.0 517.9h0M83.4 476.9h0M83.3 509.3h0M69.3 499.7h0M72.8 502.2h0M75.3 490.5h0M82.5 487.0h0M75.7 497.9h0M81.7 497.1h0M83.1 474.0h0M83.5 475.3h0M75.4 502.0h0M88.6 493.3h0M76.3 493.3h0M82.7 477.3h0M69.7 512.5h0M98.6 464.1h0M78.5 499.1h0M75.0 483.5h0M69.1 497.5h0M70.7 497.6h0M75.5 531.6h0"/>
<path class="dg" d="M34.3 534.3L118.8 427.1"/>
<path class="gr" d="M68.9 534.3V490.3M34.3 490.3H68.9"/>
<rect class="lg" x="37.4" y="430.5" width="46.4" height="12.3"/>
<circle cx="45.3" cy="433.5" r="1.2" fill="#f00"/>
<circle cx="45.3" cy="439.4" r="1.2" fill="#00f"/>
<text class="lt" x="53.0" y="435.0" textLength="29.0" lengthAdjust="spacingAndGlyphs">The Mixed Model</text>
<text class="lt" x="53.0" y="440.6" textLength="16.0" lengthAdjust="spacingAndGlyphs" font-style="italic">ResNet50</text>
<text class="yl" x="33.1" y="536.6">0</text>
<text class="yl" x="33.1" y="525.9">0.1</text>
<text class="yl" x="33.1" y="515.2">0.2</text>
<text class="yl" x="33.1" y="504.4">0.3</text>
<text class="yl" x="33.1" y="493.7">0.4</text>
<text class="yl" x="33.1" y="483.0">0.5</text>
<text class="yl" x="33.1" y="472.3">0.6</text>
<text class="yl" x="33.1" y="461.6">0.7</text>
<text class="yl" x="33.1" y="450.8">0.8</text>
<text class="yl" x="33.1" y="440.1">0.9</text>
<text class="yl" x="33.1" y="429.4">1</text>
<text class="xl" x="34.3" y="540.5">0</text>
<text class="xl" x="51.2" y="540.5">0.2</text>
<text class="xl" x="68.1" y="540.5">0.4</text>
<text class="xl" x="85.0" y="540.5">0.6</text>
<text class="xl" x="101.9" y="540.5">0.8</text>
<text class="xl" x="118.8" y="540.5">1</text>
<text class="al" x="76.5" y="545.6">PCC</text>
<text class="al" transform="translate(23.8 480.7) rotate(-90)">PCC</text>
</g>
<g>
<text class="tt" x="187.7" y="425.1">PPA</text>
<rect class="ax" x="145.40" y="427.10" width="84.50" height="107.20"/>
<path class="tk" d="M145.4 523.6h0.9M229.9 523.6h-0.9M145.4 512.9h0.9M229.9 512.9h-0.9M145.4 502.1h0.9M229.9 502.1h-0.9M145.4 491.4h0.9M229.9 491.4h-0.9M145.4 480.7h0.9M229.9 480.7h-0.9M145.4 470.0h0.9M229.9 470.0h-0.9M145.4 459.3h0.9M229.9 459.3h-0.9M145.4 448.5h0.9M229.9 448.5h-0.9M145.4 437.8h0.9M229.9 437.8h-0.9M162.3 534.3v-0.9M162.3 427.1v0.9M179.2 534.3v-0.9M179.2 427.1v0.9M196.1 534.3v-0.9M196.1 427.1v0.9M213.0 534.3v-0.9M213.0 427.1v0.9"/>
<path class="pk" d="M167.4 519.4h0M169.0 492.8h0M150.9 508.3h0M155.5 517.0h0M177.9 514.7h0M174.1 499.3h0M161.7 532.9h0M147.6 532.2h0M147.4 532.7h0M152.1 497.3h0M170.3 532.0h0M176.2 506.4h0M169.7 511.2h0M164.7 519.4h0M161.0 529.9h0M160.2 505.8h0M170.2 526.8h0M149.1 492.9h0M164.0 513.2h0M160.1 532.4h0M157.0 515.3h0M162.6 511.4h0M174.1 501.0h0M162.1 518.5h0M169.9 491.5h0M149.8 516.2h0M154.7 525.3h0M170.0 510.0h0M151.3 491.0h0M161.9 528.5h0M166.6 491.4h0M160.3 506.7h0M166.0 532.8h0M147.4 507.5h0M154.6 515.6h0M167.2 500.5h0M152.5 526.5h0M164.8 495.9h0M157.4 522.8h0M166.7 504.7h0M148.0 514.0h0M149.1 518.5h0M169.0 530.6h0M149.3 500.6h0M174.3 531.7h0M155.0 530.9h0M169.1 532.2h0M165.4 505.7h0M176.5 513.5h0M158.8 517.2h0M149.0 494.7h0M158.0 533.4h0M162.1 491.3h0M166.6 528.8h0M171.1 521.2h0M177.4 529.4h0M150.3 524.3h0M169.9 513.2h0M161.6 492.1h0M148.4 531.7h0M169.5 514.4h0M155.5 512.7h0M147.9 533.4h0M171.9 516.7h0M179.8 528.9h0M164.0 494.7h0M160.6 523.2h0M153.4 522.8h0M154.7 529.2h0M166.3 503.7h0M151.8 509.3h0M164.7 493.4h0M153.3 523.2h0M154.3 490.8h0M174.5 507.5h0M159.7 497.4h0M163.5 509.5h0M156.4 524.7h0M151.3 518.3h0M148.0 510.9h0M176.2 511.8h0M157.5 498.6h0M151.1 517.2h0M157.7 521.4h0M177.9 533.6h0M160.4 531.6h0M151.1 509.4h0M161.0 512.5h0M163.9 490.8h0M157.2 497.3h0M163.6 508.7h0M147.5 490.7h0M160.4 507.8h0M162.8 503.2h0M169.1 505.4h0M153.3 531.8h0M171.8 491.0h0M161.4 505.4h0M170.2 496.4h0M156.2 500.3h0M172.3 504.5h0M179.6 511.4h0M168.4 517.7h0M172.8 497.8h0M151.2 495.2h0M165.6 527.1h0M154.1 513.3h0M146.2 526.9h0M168.7 530.1h0M164.9 524.7h0M157.4 520.5h0M156.6 522.9h0M169.7 529.2h0M162.2 498.0h0M153.0 511.2h0M149.9 510.7h0M156.1 523.7h0M157.2 518.4h0M167.5 516.3h0M157.2 512.5h0M151.5 522.6h0M157.7 504.3h0M178.9 522.4h0M168.5 515.2h0M176.4 530.8h0M166.7 523.4h0M166.1 525.7h0M169.8 491.5h0M150.8 507.1h0M157.1 502.4h0M179.0 496.3h0M151.6 506.9h0M151.7 524.9h0M148.7 523.5h0M147.5 527.4h0M146.8 523.8h0M167.2 517.9h0M148.5 513.4h0M174.7 505.5h0M161.0 523.3h0M146.1 525.4h0M156.5 509.8h0M155.8 505.6h0M158.7 524.7h0M147.8 503.9h0M150.2 527.2h0M177.6 507.6h0M156.7 511.4h0M174.0 501.8h0M174.3 515.5h0M154.0 493.6h0M164.2 510.4h0M163.1 497.8h0M158.9 493.4h0M161.2 503.7h0M152.0 532.8h0M156.9 519.2h0M177.8 516.6h0M179.6 499.4h0M172.4 519.4h0M167.5 514.1h0M171.9 517.8h0M155.7 522.4h0M161.5 526.9h0M156.1 513.4h0M176.0 502.0h0M146.3 532.4h0M155.1 530.2h0M146.8 529.3h0M170.9 503.7h0M162.6 515.3h0M171.7 522.3h0M149.6 523.4h0M164.3 506.1h0M153.3 506.1h0M146.5 503.2h0M176.3 505.8h0M154.0 491.7h0M155.9 524.1h0M147.9 506.2h0M149.9 520.7h0M154.7 524.6h0M150.7 513.8h0M154.8 496.5h0M173.2 508.6h0M151.8 522.5h0M179.2 502.6h0M151.3 497.5h0M146.5 524.4h0M167.2 502.8h0M147.6 512.9h0M177.5 524.5h0M153.1 502.0h0M173.8 528.8h0M148.3 515.6h0M169.9 513.7h0M173.6 509.2h0M174.3 529.7h0M170.6 519.3h0M173.2 524.4h0M172.6 529.9h0M178.8 523.0h0M164.7 490.7h0M160.3 512.1h0M172.6 515.9h0M169.9 526.1h0M147.4 529.5h0M169.0 533.4h0M148.8 510.3h0M166.7 507.7h0M149.3 493.1h0M166.0 528.1h0"/>
<path class="pr" d="M169.5 484.2h0M185.4 478.9h0M175.7 488.9h0M196.2 457.2h0M168.3 475.5h0M177.3 488.8h0M198.6 452.5h0M205.8 452.0h0M183.5 472.4h0M190.2 467.6h0M159.5 486.3h0M181.1 463.7h0M162.7 488.9h0M192.8 461.1h0M173.9 489.6h0M181.1 485.2h0M172.9 482.4h0M196.2 450.3h0M198.4 451.1h0M191.4 449.8h0M191.9 464.8h0M179.2 481.4h0M162.5 462.1h0M161.5 485.7h0M165.6 477.0h0M191.9 475.2h0M190.4 451.3h0M163.2 483.0h0M204.0 449.3h0M175.5 486.5h0M176.8 485.7h0M186.8 462.6h0M171.6 483.4h0M191.1 460.4h0M172.8 482.9h0M156.1 482.3h0M182.8 482.0h0M193.6 443.4h0M203.9 450.2h0M167.5 484.9h0M185.8 470.0h0M181.3 483.3h0M179.0 460.5h0M176.1 485.0h0M162.7 485.2h0M145.7 476.5h0M203.5 454.5h0M190.7 469.5h0M169.9 465.4h0M194.3 470.2h0M197.9 461.6h0M152.8 486.4h0M188.9 449.8h0M189.9 468.4h0M156.8 461.6h0M186.5 461.1h0M171.0 490.2h0M197.7 462.5h0M157.5 483.8h0M175.0 482.2h0M202.2 459.7h0M180.4 484.8h0M195.7 464.5h0M178.2 468.2h0M188.9 457.7h0M169.0 489.3h0M184.2 451.3h0M206.0 454.5h0M210.2 449.2h0M192.2 448.9h0M180.6 484.4h0M176.1 485.9h0M166.4 471.0h0M187.2 448.7h0M201.6 455.2h0M193.2 461.2h0M167.7 484.2h0M201.8 443.2h0M179.1 474.1h0M175.3 482.4h0M181.0 459.1h0M196.7 465.3h0M197.2 455.2h0M175.8 477.9h0M146.9 483.5h0M175.7 469.3h0M186.4 468.0h0M183.9 480.1h0"/>
<path class="pb" d="M192.2 478.9h0M181.9 495.9h0M190.0 479.8h0M184.5 503.2h0M189.7 500.8h0M185.7 488.9h0M181.0 499.0h0M184.7 486.2h0M206.5 466.3h0M202.9 474.8h0M180.2 490.3h0M211.5 456.3h0M201.7 473.2h0M183.9 506.2h0M195.3 476.0h0M199.4 494.4h0M190.4 478.4h0M184.5 493.9h0M185.1 512.4h0M188.7 502.7h0M193.9 478.2h0M182.6 509.5h0M180.6 508.9h0M186.1 483.8h0M187.7 482.6h0M191.3 490.7h0M202.1 466.6h0M194.3 501.9h0M180.3 494.0h0M184.1 499.2h0M193.9 488.0h0M216.0 456.4h0M183.9 500.8h0M181.8 496.6h0M192.9 477.2h0M181.0 506.9h0M181.6 501.1h0M193.2 494.2h0M188.1 484.4h0M195.4 480.2h0M194.7 474.2h0M206.9 482.7h0"/>
<path class="dg" d="M145.4 534.3L229.9 427.1"/>
<path class="gr" d="M180.0 534.3V490.3M145.4 490.3H180.0"/>
<rect class="lg" x="148.5" y="430.5" width="46.4" height="12.3"/>
<circle cx="156.4" cy="433.5" r="1.2" fill="#f00"/>
<circle cx="156.4" cy="439.4" r="1.2" fill="#00f"/>
<text class="lt" x="164.1" y="435.0" textLength="29.0" lengthAdjust="spacingAndGlyphs">The Mixed Model</text>
<text class="lt" x="164.1" y="440.6" textLength="16.0" lengthAdjust="spacingAndGlyphs" font-style="italic">ResNet50</text>
<text class="yl" x="144.2" y="536.6">0</text>
<text class="yl" x="144.2" y="525.9">0.1</text>
<text class="yl" x="144.2" y="515.2">0.2</text>
<text class="yl" x="144.2" y="504.4">0.3</text>
<text class="yl" x="144.2" y="493.7">0.4</text>
<text class="yl" x="144.2" y="483.0">0.5</text>
<text class="yl" x="144.2" y="472.3">0.6</text>
<text class="yl" x="144.2" y="461.6">0.7</text>
<text class="yl" x="144.2" y="450.8">0.8</text>
<text class="yl" x="144.2" y="440.1">0.9</text>
<text class="yl" x="144.2" y="429.4">1</text>
<text class="xl" x="145.4" y="540.5">0</text>
<text class="xl" x="162.3" y="540.5">0.2</text>
<text class="xl" x="179.2" y="540.5">0.4</text>
<text class="xl" x="196.1" y="540.5">0.6</text>
<text class="xl" x="213.0" y="540.5">0.8</text>
<text class="xl" x="229.9" y="540.5">1</text>
<text class="al" x="187.7" y="545.6">PCC</text>
<text class="al" transform="translate(134.9 480.7) rotate(-90)">PCC</text>
</g>
<g>
<text class="tt ts" x="298.7" y="425.1">FFA</text>
<rect class="ax" x="256.20" y="427.10" width="85.00" height="107.20"/>
<path class="tk" d="M256.2 523.6h0.9M341.2 523.6h-0.9M256.2 512.9h0.9M341.2 512.9h-0.9M256.2 502.1h0.9M341.2 502.1h-0.9M256.2 491.4h0.9M341.2 491.4h-0.9M256.2 480.7h0.9M341.2 480.7h-0.9M256.2 470.0h0.9M341.2 470.0h-0.9M256.2 459.3h0.9M341.2 459.3h-0.9M256.2 448.5h0.9M341.2 448.5h-0.9M256.2 437.8h0.9M341.2 437.8h-0.9M273.2 534.3v-0.9M273.2 427.1v0.9M290.2 534.3v-0.9M290.2 427.1v0.9M307.2 534.3v-0.9M307.2 427.1v0.9M324.2 534.3v-0.9M324.2 427.1v0.9"/>
<path class="pk" d="M288.2 494.4h0M256.6 490.9h0M281.7 531.7h0M284.4 508.4h0M276.3 511.6h0M265.6 494.9h0M283.6 500.8h0M274.6 518.3h0M277.0 528.4h0M271.9 511.0h0M278.3 527.0h0M288.5 510.0h0M265.5 511.8h0M270.8 491.4h0M277.2 512.8h0M281.5 515.5h0M281.2 514.4h0M278.9 504.9h0M287.6 497.8h0M262.3 511.6h0M265.3 529.9h0M277.1 509.6h0M259.8 532.1h0M263.2 506.0h0M286.8 505.9h0M260.9 492.1h0M272.8 492.0h0M280.2 500.0h0M290.8 520.5h0M260.6 497.3h0M260.1 529.1h0M273.1 518.6h0M272.9 527.6h0M277.7 529.2h0M261.4 531.1h0M258.1 527.9h0M258.7 528.6h0M285.0 529.1h0M283.4 497.9h0M259.8 526.9h0M259.4 516.0h0M286.8 498.1h0M287.2 491.0h0M260.9 507.4h0M263.2 510.2h0M290.8 498.1h0M275.7 498.7h0M288.2 504.4h0M277.4 515.2h0M262.8 507.7h0M272.6 514.6h0M278.6 497.0h0M271.6 503.0h0M263.8 527.3h0M259.7 491.6h0M267.0 522.1h0M261.5 517.9h0M265.4 520.4h0M281.5 508.6h0M272.1 509.7h0M261.9 529.3h0M288.2 500.6h0M257.1 530.1h0M284.6 526.5h0M272.2 520.7h0M274.8 498.3h0M272.1 501.6h0M261.7 519.7h0M291.0 508.2h0M259.5 507.4h0M290.6 498.3h0M263.8 519.3h0M271.4 532.7h0M277.9 500.5h0M261.4 525.7h0M271.4 533.0h0M281.6 513.1h0M271.0 517.5h0M268.7 492.8h0M282.5 519.1h0M259.3 517.0h0M266.5 525.4h0M268.0 494.8h0M260.8 497.5h0M276.2 493.9h0M277.3 519.1h0M267.3 514.5h0M273.5 513.3h0M257.2 507.2h0M276.6 507.9h0M275.4 512.4h0M264.1 513.7h0M272.0 504.3h0M273.7 525.6h0M269.5 522.1h0M272.4 492.8h0M273.3 493.2h0M259.2 505.3h0M276.3 520.3h0M270.3 525.2h0M263.9 511.9h0M262.3 497.2h0M272.1 520.8h0M269.1 525.2h0M260.9 508.5h0M259.8 492.7h0M281.5 517.7h0M256.9 533.7h0M257.1 505.0h0M268.3 498.5h0M270.4 530.9h0M278.9 508.9h0M261.9 529.7h0M269.6 507.5h0M271.4 506.9h0M268.0 530.7h0M262.1 518.3h0M290.8 524.3h0M274.5 509.6h0M268.4 512.2h0M280.9 528.7h0M259.2 515.1h0M275.7 523.8h0M265.8 527.5h0M289.1 510.4h0M275.7 490.7h0M267.7 502.9h0M287.8 521.2h0M289.0 491.0h0M256.9 529.6h0M267.8 507.4h0M282.8 520.3h0M256.2 522.0h0M274.8 513.6h0M276.6 502.2h0M282.6 492.4h0M258.4 510.3h0M271.8 515.3h0M274.5 492.8h0M279.7 494.8h0M278.4 514.7h0M277.4 534.3h0M277.1 510.6h0M270.2 507.7h0M270.5 504.4h0M274.0 492.1h0M263.8 515.9h0M276.2 518.2h0M258.8 507.2h0M269.7 511.8h0M259.5 497.1h0M276.9 511.6h0M262.6 502.6h0M281.6 505.6h0M274.9 499.9h0M270.0 500.4h0M286.5 509.2h0M277.1 514.9h0M283.4 511.3h0M281.2 507.5h0M279.5 498.8h0M257.9 511.3h0M260.2 497.2h0M263.0 503.6h0M257.2 514.9h0M281.5 503.9h0M265.6 497.6h0M262.5 521.2h0M271.8 502.2h0M267.9 525.3h0M263.0 533.1h0M277.6 510.5h0M286.3 490.7h0M258.9 526.9h0M274.6 519.7h0M282.8 525.5h0M277.5 514.7h0M269.7 495.3h0M289.8 510.5h0M279.8 508.8h0M256.9 528.4h0M285.5 519.4h0M264.9 497.0h0M278.0 491.1h0M266.3 522.3h0M266.6 514.6h0M287.6 492.4h0M273.4 528.5h0M284.8 512.0h0M266.1 514.9h0M289.9 502.8h0M271.7 508.3h0M284.6 515.7h0M286.7 512.6h0M258.4 491.9h0M263.6 522.5h0M276.1 499.2h0M266.6 513.2h0M278.3 530.0h0M284.5 531.4h0M280.7 506.2h0M259.6 501.5h0M265.5 513.4h0M283.8 508.6h0M262.7 528.1h0M269.9 527.7h0M259.8 517.2h0M270.8 496.1h0M272.2 511.2h0M274.0 502.2h0M256.3 524.9h0M272.0 532.3h0M270.7 518.3h0M256.8 511.0h0M276.3 526.7h0M264.0 518.6h0M287.0 510.9h0M270.2 523.9h0M269.5 528.5h0M282.8 520.6h0M256.6 528.3h0M267.7 509.3h0M256.9 519.2h0M280.5 529.2h0M267.1 493.9h0M258.3 516.9h0M287.4 492.8h0M272.0 492.3h0M278.8 531.9h0M269.6 498.7h0M265.5 496.9h0M266.9 512.4h0M270.2 514.2h0M274.5 502.6h0M285.5 506.6h0M273.2 515.0h0M278.9 502.0h0M270.9 505.7h0M256.2 503.5h0M257.8 510.0h0M276.9 511.7h0M268.2 502.8h0M264.1 516.9h0M276.2 494.4h0M288.8 520.7h0M257.3 493.9h0M277.1 505.3h0M281.9 501.4h0M262.1 512.9h0M272.6 495.2h0M269.8 513.4h0M272.2 501.8h0M281.9 523.1h0M272.7 490.6h0M268.3 522.7h0M290.8 498.9h0M272.3 523.0h0M278.6 513.5h0M275.4 513.6h0M270.7 526.9h0M265.8 506.2h0M263.8 520.6h0M265.9 532.1h0M277.2 531.8h0M258.0 526.7h0M281.7 523.0h0M264.8 502.7h0M268.4 523.5h0M260.4 504.4h0M268.3 521.4h0M275.2 519.4h0M276.4 490.8h0M271.6 527.8h0M276.2 498.0h0M271.4 515.2h0M257.6 507.6h0M262.9 502.9h0M271.5 494.4h0M272.7 496.6h0M265.1 507.5h0M267.2 532.6h0M273.9 530.6h0M283.8 490.9h0M263.6 523.7h0M280.8 493.4h0M259.9 504.7h0M264.0 501.5h0M278.9 522.3h0M270.6 517.2h0M267.7 518.5h0M280.6 519.3h0M289.5 515.7h0M278.8 501.2h0M281.9 503.7h0M275.7 497.5h0M265.3 507.0h0M275.2 516.2h0M261.7 520.6h0M280.8 503.0h0M258.6 493.2h0M272.9 512.9h0M263.6 522.8h0M281.3 494.9h0M261.5 518.9h0M260.4 526.2h0M284.2 511.9h0M259.2 521.3h0M258.2 510.5h0M289.9 499.3h0M268.6 500.0h0M261.1 516.0h0M269.2 507.9h0M261.5 497.6h0M267.2 490.7h0M272.8 519.4h0M274.4 516.7h0M266.4 520.8h0M283.8 514.2h0M281.3 497.2h0M256.7 493.6h0M280.6 504.4h0M280.0 503.1h0M281.3 503.5h0M266.6 502.6h0M277.4 509.4h0M270.3 533.8h0M263.3 491.6h0M268.7 525.8h0M262.8 526.7h0M265.5 507.9h0M259.3 522.3h0M290.0 509.6h0M260.3 494.8h0M272.6 503.3h0M279.5 510.3h0M270.6 531.5h0M276.2 518.8h0M259.0 525.5h0"/>
<path class="pr" d="M286.8 479.2h0M295.2 473.3h0M310.7 464.0h0M285.6 473.3h0M291.9 468.1h0M305.2 469.4h0M298.1 461.1h0M277.4 471.9h0M293.0 482.8h0M282.5 450.6h0M278.9 482.5h0M294.0 482.6h0M294.8 472.2h0M269.2 483.8h0M277.3 486.2h0M299.9 461.6h0M300.1 458.0h0M284.4 483.9h0M293.1 486.5h0M283.1 482.9h0M295.1 460.3h0M283.5 459.8h0M271.4 486.0h0M308.6 462.7h0M300.0 467.8h0M309.7 466.4h0M303.3 474.0h0M289.5 475.1h0M286.5 463.6h0M280.8 470.7h0M296.6 470.0h0M300.0 471.6h0M309.4 456.2h0M266.0 482.3h0M287.6 478.0h0M287.2 468.3h0M291.1 458.8h0M285.7 482.2h0M283.2 473.5h0M298.1 480.7h0M292.4 464.0h0M313.5 444.8h0M291.7 486.8h0M308.8 459.5h0M284.3 476.4h0M276.8 476.0h0M296.6 461.0h0M297.4 472.2h0M286.0 459.7h0M289.9 465.7h0M301.1 477.4h0M298.8 463.7h0M283.3 489.3h0M262.8 484.2h0M302.9 459.5h0M290.4 466.1h0M294.9 471.8h0M300.6 477.3h0M309.7 457.1h0M291.6 464.5h0M281.5 476.7h0M308.8 454.7h0M282.7 486.6h0M287.2 486.9h0M289.8 479.4h0M275.8 473.3h0M281.6 490.1h0M307.4 469.5h0M278.1 465.6h0M290.8 480.5h0M318.6 453.1h0M293.1 474.3h0M290.8 476.7h0M283.7 470.1h0M280.1 484.0h0M295.3 469.6h0M284.0 475.8h0M295.0 475.3h0M298.7 472.0h0M265.4 487.2h0M276.7 474.1h0M277.3 469.5h0M271.9 486.0h0M290.6 469.3h0M296.6 463.7h0M303.8 472.4h0M291.4 485.6h0M266.0 487.6h0M265.7 485.2h0M298.5 471.9h0M266.2 476.3h0M304.1 461.3h0M282.6 467.3h0M301.1 461.4h0M278.3 479.9h0M287.7 490.0h0M300.6 469.1h0M277.8 489.3h0M269.1 476.8h0M281.3 483.0h0M277.1 481.8h0M289.2 486.8h0M273.2 470.9h0M283.9 485.5h0M279.6 487.1h0M314.0 454.1h0M308.6 466.2h0M280.7 466.2h0M283.2 487.0h0M260.6 481.6h0M260.5 484.5h0M315.3 447.7h0M301.3 468.9h0M300.4 465.6h0M282.2 488.6h0M277.6 483.8h0M293.8 477.8h0M280.8 473.7h0M303.3 474.0h0M288.4 476.4h0M288.2 488.6h0M286.4 488.1h0M280.0 473.1h0M293.2 474.9h0M284.1 489.2h0M275.1 483.7h0M309.5 463.7h0M293.7 473.3h0"/>
<path class="pb" d="M300.0 498.2h0M291.3 510.4h0M297.3 496.7h0M305.5 484.0h0M293.5 488.1h0M310.3 478.0h0M312.2 466.9h0M309.4 476.2h0M299.0 494.1h0M296.7 520.5h0M311.8 489.0h0M298.1 501.6h0M303.7 492.5h0M292.0 518.9h0M313.5 473.3h0M291.1 500.0h0M321.2 492.8h0M312.8 487.0h0M315.6 462.3h0M292.5 511.1h0M301.4 497.7h0M304.7 489.0h0M306.8 485.7h0M305.1 503.7h0M307.8 497.3h0M315.5 478.8h0M302.9 483.9h0M291.9 490.0h0M306.0 482.3h0M304.5 478.7h0M291.3 518.6h0M296.6 486.9h0M316.9 478.5h0M301.2 517.9h0M301.6 484.9h0M306.0 490.2h0M297.1 496.3h0M296.0 494.9h0M303.6 474.5h0M310.8 473.3h0M301.1 477.7h0M298.6 484.7h0M313.8 463.1h0M304.5 497.0h0M306.5 480.1h0M295.0 515.0h0M309.4 481.6h0M296.0 496.0h0M303.4 502.0h0M299.3 483.9h0M304.3 498.0h0M299.1 487.8h0M314.3 476.8h0M325.7 458.3h0M304.6 479.3h0M294.0 529.7h0M294.8 496.5h0M296.7 506.1h0M312.3 492.5h0M298.5 483.7h0M306.8 485.1h0M292.4 508.7h0M298.6 533.8h0M311.4 490.1h0M296.7 501.6h0M301.8 479.1h0M301.3 478.0h0M292.8 493.6h0M294.6 492.3h0M291.2 515.7h0M295.9 506.2h0M310.4 478.7h0M295.9 485.5h0M298.8 482.5h0M306.4 474.8h0M302.8 487.8h0M298.3 488.8h0M317.0 465.0h0M306.8 485.6h0M292.2 494.8h0M313.2 481.6h0M294.6 489.0h0M295.2 488.3h0M309.3 501.4h0M305.1 496.4h0M298.4 482.3h0M294.8 491.7h0M304.0 479.3h0M300.5 530.2h0M298.5 491.5h0M291.4 495.4h0M291.4 495.2h0M306.4 476.6h0M293.0 497.4h0M291.4 502.5h0M313.0 466.3h0M305.2 508.2h0M292.3 509.2h0M306.5 478.3h0M305.6 496.0h0"/>
<path class="dg" d="M256.2 534.3L341.2 427.1"/>
<path class="gr" d="M291.1 534.3V490.3M256.2 490.3H291.1"/>
<rect class="lg" x="259.3" y="430.5" width="46.4" height="12.3"/>
<circle cx="267.2" cy="433.5" r="1.2" fill="#f00"/>
<circle cx="267.2" cy="439.4" r="1.2" fill="#00f"/>
<text class="lt" x="274.9" y="435.0" textLength="29.0" lengthAdjust="spacingAndGlyphs">The Mixed Model</text>
<text class="lt" x="274.9" y="440.6" textLength="16.0" lengthAdjust="spacingAndGlyphs" font-style="italic">ResNet50</text>
<text class="yl" x="255.0" y="536.6">0</text>
<text class="yl" x="255.0" y="525.9">0.1</text>
<text class="yl" x="255.0" y="515.2">0.2</text>
<text class="yl" x="255.0" y="504.4">0.3</text>
<text class="yl" x="255.0" y="493.7">0.4</text>
<text class="yl" x="255.0" y="483.0">0.5</text>
<text class="yl" x="255.0" y="472.3">0.6</text>
<text class="yl" x="255.0" y="461.6">0.7</text>
<text class="yl" x="255.0" y="450.8">0.8</text>
<text class="yl" x="255.0" y="440.1">0.9</text>
<text class="yl" x="255.0" y="429.4">1</text>
<text class="xl" x="256.2" y="540.5">0</text>
<text class="xl" x="273.2" y="540.5">0.2</text>
<text class="xl" x="290.2" y="540.5">0.4</text>
<text class="xl" x="307.2" y="540.5">0.6</text>
<text class="xl" x="324.2" y="540.5">0.8</text>
<text class="xl" x="341.2" y="540.5">1</text>
<text class="al" x="298.7" y="545.6">PCC</text>
<text class="al" transform="translate(245.7 480.7) rotate(-90)">PCC</text>
</g>
</svg>
</body></html>
